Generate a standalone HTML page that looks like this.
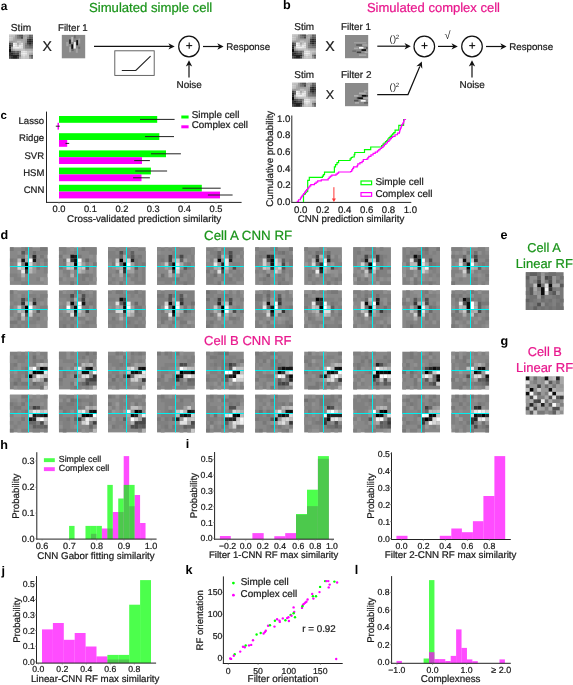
<!DOCTYPE html>
<html><head><meta charset="utf-8"><title>Figure</title>
<style>
html,body{margin:0;padding:0;background:#fff;}
svg{display:block;filter:blur(0.25px);}
text{font-family:"Liberation Sans", Arial, Helvetica, sans-serif;text-rendering:geometricPrecision;}
</style></head><body>
<svg width="573" height="685" viewBox="0 0 573 685">
<defs>
<filter id="bl45" x="-5%" y="-5%" width="110%" height="110%"><feGaussianBlur stdDeviation="0.45"/></filter>
</defs>
<rect x="0" y="0" width="573" height="685" fill="#fff"/>
<text x="0.64" y="9.80" font-size="12.00" fill="#000" font-weight="bold">a</text>
<text x="282.98" y="9.40" font-size="12.60" fill="#000" font-weight="bold">b</text>
<text x="0.54" y="118.60" font-size="11.50" fill="#000" font-weight="bold">c</text>
<text x="0.50" y="238.60" font-size="12.60" fill="#000" font-weight="bold">d</text>
<text x="500.60" y="238.60" font-size="12.60" fill="#000" font-weight="bold">e</text>
<text x="1.11" y="343.10" font-size="12.60" fill="#000" font-weight="bold">f</text>
<text x="500.40" y="344.60" font-size="12.60" fill="#000" font-weight="bold">g</text>
<text x="0.32" y="448.60" font-size="12.60" fill="#000" font-weight="bold">h</text>
<text x="185.82" y="447.90" font-size="12.60" fill="#000" font-weight="bold">i</text>
<text x="1.39" y="574.60" font-size="12.60" fill="#000" font-weight="bold">j</text>
<text x="185.52" y="573.70" font-size="12.60" fill="#000" font-weight="bold">k</text>
<text x="354.82" y="573.60" font-size="12.60" fill="#000" font-weight="bold">l</text>
<text x="89.01" y="11.80" font-size="13.14" fill="#1a941a" stroke="#1a941a" stroke-width="0.22">Simulated simple cell</text>
<text x="10.84" y="30.50" font-size="10.16" fill="#1a1a1a" stroke="#1a1a1a" stroke-width="0.22">Stim</text>
<text x="42.45" y="50.60" font-size="14.03" fill="#1a1a1a" stroke="#1a1a1a" stroke-width="0.22">X</text>
<text x="58.02" y="30.50" font-size="9.73" fill="#1a1a1a" stroke="#1a1a1a" stroke-width="0.22">Filter 1</text>
<g filter="url(#bl45)"><g transform="translate(9.00,34.70) scale(2.0000,2.0000)">
<rect x="0" y="0" width="12" height="12" fill="#a0a0a0"/>
<path fill="#101010" d="M0 7h1v1h-1zM0 8h1v1h-1z"/>
<path fill="#202020" d="M10 3h1v1h-1zM0 6h1v1h-1zM1 10h1v1h-1zM2 10h1v1h-1zM3 10h1v1h-1zM2 11h1v1h-1zM3 11h1v1h-1z"/>
<path fill="#282828" d="M10 2h1v1h-1zM10 4h1v1h-1zM0 5h1v1h-1zM1 9h1v1h-1zM4 10h1v1h-1z"/>
<path fill="#303030" d="M9 3h1v1h-1zM11 3h1v1h-1zM0 9h1v1h-1zM0 10h1v1h-1zM1 11h1v1h-1z"/>
<path fill="#404040" d="M9 2h1v1h-1zM11 2h1v1h-1zM9 4h1v1h-1zM2 9h1v1h-1zM4 11h1v1h-1z"/>
<path fill="#484848" d="M6 1h1v1h-1zM0 4h1v1h-1zM11 4h1v1h-1zM1 8h1v1h-1zM4 9h1v1h-1z"/>
<path fill="#505050" d="M6 0h1v1h-1zM3 9h1v1h-1zM0 11h1v1h-1z"/>
<path fill="#585858" d="M5 0h1v1h-1zM10 1h1v1h-1zM1 5h1v1h-1zM10 5h1v1h-1zM2 8h1v1h-1zM11 10h1v1h-1z"/>
<path fill="#606060" d="M10 0h1v1h-1zM11 1h1v1h-1zM1 4h1v1h-1zM11 5h1v1h-1zM4 8h1v1h-1z"/>
<path fill="#707070" d="M4 0h1v1h-1zM11 0h1v1h-1zM5 1h1v1h-1zM9 5h1v1h-1zM10 6h1v1h-1zM11 6h1v1h-1zM3 8h1v1h-1zM11 11h1v1h-1z"/>
<path fill="#787878" d="M4 1h1v1h-1zM8 5h1v1h-1zM9 6h1v1h-1zM10 10h1v1h-1z"/>
<path fill="#808080" d="M9 1h1v1h-1zM8 4h1v1h-1zM8 6h1v1h-1zM5 8h1v1h-1zM5 10h1v1h-1z"/>
<path fill="#909090" d="M1 7h1v1h-1z"/>
<path fill="#989898" d="M3 0h1v1h-1zM9 0h1v1h-1zM3 1h1v1h-1zM1 3h1v1h-1zM8 3h1v1h-1zM5 9h1v1h-1zM10 11h1v1h-1z"/>
<path fill="#a8a8a8" d="M8 0h1v1h-1zM7 1h1v1h-1zM2 2h1v1h-1zM7 2h1v1h-1zM3 3h1v1h-1zM7 3h1v1h-1zM4 4h1v1h-1zM7 4h1v1h-1zM7 5h1v1h-1zM1 6h1v1h-1zM7 6h1v1h-1zM11 7h1v1h-1zM11 9h1v1h-1zM5 11h1v1h-1z"/>
<path fill="#b0b0b0" d="M2 1h1v1h-1zM8 1h1v1h-1zM6 3h1v1h-1zM2 7h1v1h-1zM8 7h1v1h-1zM9 7h1v1h-1zM10 7h1v1h-1zM10 9h1v1h-1z"/>
<path fill="#c0c0c0" d="M1 0h1v1h-1zM2 0h1v1h-1zM1 2h1v1h-1zM4 3h1v1h-1zM5 3h1v1h-1zM3 7h1v1h-1zM4 7h1v1h-1zM5 7h1v1h-1zM7 7h1v1h-1zM11 8h1v1h-1z"/>
<path fill="#c8c8c8" d="M0 0h1v1h-1zM1 1h1v1h-1zM0 2h1v1h-1zM5 4h1v1h-1zM4 5h1v1h-1zM6 7h1v1h-1zM9 8h1v1h-1zM10 8h1v1h-1zM9 9h1v1h-1zM9 10h1v1h-1zM6 11h1v1h-1zM8 11h1v1h-1zM9 11h1v1h-1z"/>
<path fill="#d0d0d0" d="M0 1h1v1h-1zM6 10h1v1h-1zM8 10h1v1h-1zM7 11h1v1h-1z"/>
<path fill="#e0e0e0" d="M3 4h1v1h-1zM6 4h1v1h-1zM6 6h1v1h-1zM6 8h1v1h-1zM8 8h1v1h-1zM7 10h1v1h-1z"/>
<path fill="#e8e8e8" d="M3 5h1v1h-1zM5 5h1v1h-1zM6 5h1v1h-1zM2 6h1v1h-1zM5 6h1v1h-1zM7 8h1v1h-1zM6 9h1v1h-1zM8 9h1v1h-1z"/>
<path fill="#f0f0f0" d="M2 4h1v1h-1zM3 6h1v1h-1zM4 6h1v1h-1zM7 9h1v1h-1z"/>
<path fill="#f8f8f8" d="M2 5h1v1h-1z"/>
</g></g>
<g filter="url(#bl45)">
<rect x="61.80" y="34.90" width="23.40" height="23.40" fill="#8a8a8a"/>
<rect x="71.30" y="36.80" width="1.90" height="5.30" fill="#bebebe"/>
<rect x="66.20" y="41.90" width="2.20" height="4.30" fill="#a5a5a5"/>
<rect x="69.10" y="46.70" width="1.90" height="5.60" fill="#aaaaaa"/>
<rect x="78.50" y="38.40" width="1.70" height="5.20" fill="#aaaaaa"/>
<rect x="74.10" y="35.30" width="1.50" height="3.10" fill="#646464"/>
<rect x="75.80" y="48.40" width="2.00" height="4.40" fill="#a5a5a5"/>
<rect x="78.20" y="46.70" width="2.00" height="2.10" fill="#6e6e6e"/>
<rect x="71.50" y="48.80" width="2.20" height="2.20" fill="#646464"/>
<rect x="69.10" y="39.50" width="1.70" height="4.30" fill="#1e1e1e"/>
<rect x="71.30" y="44.30" width="1.70" height="4.50" fill="#0a0a0a"/>
<rect x="73.90" y="42.10" width="1.90" height="6.50" fill="#f5f5f5"/>
<rect x="76.30" y="40.10" width="1.70" height="5.20" fill="#0f0f0f"/>
</g>
<line x1="94.00" y1="46.40" x2="171.70" y2="46.40" stroke="#111" stroke-width="1.2"/>
<polygon points="174.70,46.40 168.40,49.60 170.20,46.40 168.40,43.20" fill="#111"/>
<rect x="114.8" y="50.8" width="39.4" height="24.6" fill="none" stroke="#555" stroke-width="0.9"/>
<polyline points="121.8,70.5 135.8,70.5 150.6,56.2" fill="none" stroke="#222" stroke-width="1.1"/>
<circle cx="189" cy="46.5" r="10.3" fill="none" stroke="#111" stroke-width="1.2"/>
<line x1="186.20" y1="45.60" x2="192.20" y2="45.60" stroke="#111" stroke-width="1.1"/>
<line x1="189.20" y1="42.40" x2="189.20" y2="48.80" stroke="#111" stroke-width="1.1"/>
<line x1="203.00" y1="46.50" x2="220.60" y2="46.50" stroke="#111" stroke-width="1.2"/>
<polygon points="223.60,46.50 217.30,49.70 219.10,46.50 217.30,43.30" fill="#111"/>
<text x="226.22" y="50.20" font-size="9.74" fill="#1a1a1a" stroke="#1a1a1a" stroke-width="0.22">Response</text>
<line x1="189.00" y1="77.60" x2="189.00" y2="63.20" stroke="#111" stroke-width="1.2"/>
<polygon points="189.00,60.20 192.20,66.50 189.00,64.70 185.80,66.50" fill="#111"/>
<text x="176.51" y="88.00" font-size="9.92" fill="#1a1a1a" stroke="#1a1a1a" stroke-width="0.22">Noise</text>
<text x="366.91" y="11.60" font-size="13.03" fill="#e8178d" stroke="#e8178d" stroke-width="0.22">Simulated complex cell</text>
<text x="294.25" y="30.00" font-size="9.95" fill="#1a1a1a" stroke="#1a1a1a" stroke-width="0.22">Stim</text>
<text x="325.35" y="51.30" font-size="14.19" fill="#1a1a1a" stroke="#1a1a1a" stroke-width="0.22">X</text>
<text x="341.02" y="30.00" font-size="9.80" fill="#1a1a1a" stroke="#1a1a1a" stroke-width="0.22">Filter 1</text>
<g filter="url(#bl45)"><g transform="translate(292.00,34.60) scale(2.0000,2.0000)">
<rect x="0" y="0" width="12" height="12" fill="#a0a0a0"/>
<path fill="#101010" d="M0 7h1v1h-1zM0 8h1v1h-1z"/>
<path fill="#202020" d="M10 3h1v1h-1zM0 6h1v1h-1zM1 10h1v1h-1zM2 10h1v1h-1zM3 10h1v1h-1zM2 11h1v1h-1zM3 11h1v1h-1z"/>
<path fill="#282828" d="M10 2h1v1h-1zM10 4h1v1h-1zM0 5h1v1h-1zM1 9h1v1h-1zM4 10h1v1h-1z"/>
<path fill="#303030" d="M9 3h1v1h-1zM11 3h1v1h-1zM0 9h1v1h-1zM0 10h1v1h-1zM1 11h1v1h-1z"/>
<path fill="#404040" d="M9 2h1v1h-1zM11 2h1v1h-1zM9 4h1v1h-1zM2 9h1v1h-1zM4 11h1v1h-1z"/>
<path fill="#484848" d="M6 1h1v1h-1zM0 4h1v1h-1zM11 4h1v1h-1zM1 8h1v1h-1zM4 9h1v1h-1z"/>
<path fill="#505050" d="M6 0h1v1h-1zM3 9h1v1h-1zM0 11h1v1h-1z"/>
<path fill="#585858" d="M5 0h1v1h-1zM10 1h1v1h-1zM1 5h1v1h-1zM10 5h1v1h-1zM2 8h1v1h-1zM11 10h1v1h-1z"/>
<path fill="#606060" d="M10 0h1v1h-1zM11 1h1v1h-1zM1 4h1v1h-1zM11 5h1v1h-1zM4 8h1v1h-1z"/>
<path fill="#707070" d="M4 0h1v1h-1zM11 0h1v1h-1zM5 1h1v1h-1zM9 5h1v1h-1zM10 6h1v1h-1zM11 6h1v1h-1zM3 8h1v1h-1zM11 11h1v1h-1z"/>
<path fill="#787878" d="M4 1h1v1h-1zM8 5h1v1h-1zM9 6h1v1h-1zM10 10h1v1h-1z"/>
<path fill="#808080" d="M9 1h1v1h-1zM8 4h1v1h-1zM8 6h1v1h-1zM5 8h1v1h-1zM5 10h1v1h-1z"/>
<path fill="#909090" d="M1 7h1v1h-1z"/>
<path fill="#989898" d="M3 0h1v1h-1zM9 0h1v1h-1zM3 1h1v1h-1zM1 3h1v1h-1zM8 3h1v1h-1zM5 9h1v1h-1zM10 11h1v1h-1z"/>
<path fill="#a8a8a8" d="M8 0h1v1h-1zM7 1h1v1h-1zM2 2h1v1h-1zM7 2h1v1h-1zM3 3h1v1h-1zM7 3h1v1h-1zM4 4h1v1h-1zM7 4h1v1h-1zM7 5h1v1h-1zM1 6h1v1h-1zM7 6h1v1h-1zM11 7h1v1h-1zM11 9h1v1h-1zM5 11h1v1h-1z"/>
<path fill="#b0b0b0" d="M2 1h1v1h-1zM8 1h1v1h-1zM6 3h1v1h-1zM2 7h1v1h-1zM8 7h1v1h-1zM9 7h1v1h-1zM10 7h1v1h-1zM10 9h1v1h-1z"/>
<path fill="#c0c0c0" d="M1 0h1v1h-1zM2 0h1v1h-1zM1 2h1v1h-1zM4 3h1v1h-1zM5 3h1v1h-1zM3 7h1v1h-1zM4 7h1v1h-1zM5 7h1v1h-1zM7 7h1v1h-1zM11 8h1v1h-1z"/>
<path fill="#c8c8c8" d="M0 0h1v1h-1zM1 1h1v1h-1zM0 2h1v1h-1zM5 4h1v1h-1zM4 5h1v1h-1zM6 7h1v1h-1zM9 8h1v1h-1zM10 8h1v1h-1zM9 9h1v1h-1zM9 10h1v1h-1zM6 11h1v1h-1zM8 11h1v1h-1zM9 11h1v1h-1z"/>
<path fill="#d0d0d0" d="M0 1h1v1h-1zM6 10h1v1h-1zM8 10h1v1h-1zM7 11h1v1h-1z"/>
<path fill="#e0e0e0" d="M3 4h1v1h-1zM6 4h1v1h-1zM6 6h1v1h-1zM6 8h1v1h-1zM8 8h1v1h-1zM7 10h1v1h-1z"/>
<path fill="#e8e8e8" d="M3 5h1v1h-1zM5 5h1v1h-1zM6 5h1v1h-1zM2 6h1v1h-1zM5 6h1v1h-1zM7 8h1v1h-1zM6 9h1v1h-1zM8 9h1v1h-1z"/>
<path fill="#f0f0f0" d="M2 4h1v1h-1zM3 6h1v1h-1zM4 6h1v1h-1zM7 9h1v1h-1z"/>
<path fill="#f8f8f8" d="M2 5h1v1h-1z"/>
</g></g>
<g filter="url(#bl45)">
<rect x="345.00" y="35.00" width="23.20" height="23.20" fill="#8a8a8a"/>
<rect x="354.00" y="42.00" width="12.30" height="1.40" fill="#a0a0a0"/>
<rect x="356.20" y="44.20" width="6.10" height="1.70" fill="#5a5a5a"/>
<rect x="362.30" y="44.20" width="5.10" height="1.70" fill="#a5a5a5"/>
<rect x="354.00" y="47.60" width="4.40" height="1.60" fill="#aaaaaa"/>
<rect x="366.00" y="47.00" width="1.70" height="2.20" fill="#5a5a5a"/>
<rect x="356.80" y="51.50" width="4.40" height="1.60" fill="#3c3c3c"/>
<rect x="364.60" y="51.50" width="3.10" height="1.60" fill="#afafaf"/>
<rect x="359.00" y="54.30" width="7.30" height="1.60" fill="#aaaaaa"/>
<rect x="352.30" y="50.30" width="3.90" height="1.70" fill="#6e6e6e"/>
<rect x="359.00" y="47.00" width="4.50" height="1.70" fill="#fafafa"/>
<rect x="361.50" y="49.20" width="4.50" height="1.70" fill="#0a0a0a"/>
</g>
<text x="294.25" y="77.90" font-size="9.95" fill="#1a1a1a" stroke="#1a1a1a" stroke-width="0.22">Stim</text>
<text x="325.69" y="98.80" font-size="12.58" fill="#1a1a1a" stroke="#1a1a1a" stroke-width="0.22">X</text>
<text x="341.00" y="77.90" font-size="9.98" fill="#1a1a1a" stroke="#1a1a1a" stroke-width="0.22">Filter 2</text>
<g filter="url(#bl45)"><g transform="translate(292.00,82.80) scale(2.0000,2.0000)">
<rect x="0" y="0" width="12" height="12" fill="#a0a0a0"/>
<path fill="#101010" d="M0 7h1v1h-1zM0 8h1v1h-1z"/>
<path fill="#202020" d="M10 3h1v1h-1zM0 6h1v1h-1zM1 10h1v1h-1zM2 10h1v1h-1zM3 10h1v1h-1zM2 11h1v1h-1zM3 11h1v1h-1z"/>
<path fill="#282828" d="M10 2h1v1h-1zM10 4h1v1h-1zM0 5h1v1h-1zM1 9h1v1h-1zM4 10h1v1h-1z"/>
<path fill="#303030" d="M9 3h1v1h-1zM11 3h1v1h-1zM0 9h1v1h-1zM0 10h1v1h-1zM1 11h1v1h-1z"/>
<path fill="#404040" d="M9 2h1v1h-1zM11 2h1v1h-1zM9 4h1v1h-1zM2 9h1v1h-1zM4 11h1v1h-1z"/>
<path fill="#484848" d="M6 1h1v1h-1zM0 4h1v1h-1zM11 4h1v1h-1zM1 8h1v1h-1zM4 9h1v1h-1z"/>
<path fill="#505050" d="M6 0h1v1h-1zM3 9h1v1h-1zM0 11h1v1h-1z"/>
<path fill="#585858" d="M5 0h1v1h-1zM10 1h1v1h-1zM1 5h1v1h-1zM10 5h1v1h-1zM2 8h1v1h-1zM11 10h1v1h-1z"/>
<path fill="#606060" d="M10 0h1v1h-1zM11 1h1v1h-1zM1 4h1v1h-1zM11 5h1v1h-1zM4 8h1v1h-1z"/>
<path fill="#707070" d="M4 0h1v1h-1zM11 0h1v1h-1zM5 1h1v1h-1zM9 5h1v1h-1zM10 6h1v1h-1zM11 6h1v1h-1zM3 8h1v1h-1zM11 11h1v1h-1z"/>
<path fill="#787878" d="M4 1h1v1h-1zM8 5h1v1h-1zM9 6h1v1h-1zM10 10h1v1h-1z"/>
<path fill="#808080" d="M9 1h1v1h-1zM8 4h1v1h-1zM8 6h1v1h-1zM5 8h1v1h-1zM5 10h1v1h-1z"/>
<path fill="#909090" d="M1 7h1v1h-1z"/>
<path fill="#989898" d="M3 0h1v1h-1zM9 0h1v1h-1zM3 1h1v1h-1zM1 3h1v1h-1zM8 3h1v1h-1zM5 9h1v1h-1zM10 11h1v1h-1z"/>
<path fill="#a8a8a8" d="M8 0h1v1h-1zM7 1h1v1h-1zM2 2h1v1h-1zM7 2h1v1h-1zM3 3h1v1h-1zM7 3h1v1h-1zM4 4h1v1h-1zM7 4h1v1h-1zM7 5h1v1h-1zM1 6h1v1h-1zM7 6h1v1h-1zM11 7h1v1h-1zM11 9h1v1h-1zM5 11h1v1h-1z"/>
<path fill="#b0b0b0" d="M2 1h1v1h-1zM8 1h1v1h-1zM6 3h1v1h-1zM2 7h1v1h-1zM8 7h1v1h-1zM9 7h1v1h-1zM10 7h1v1h-1zM10 9h1v1h-1z"/>
<path fill="#c0c0c0" d="M1 0h1v1h-1zM2 0h1v1h-1zM1 2h1v1h-1zM4 3h1v1h-1zM5 3h1v1h-1zM3 7h1v1h-1zM4 7h1v1h-1zM5 7h1v1h-1zM7 7h1v1h-1zM11 8h1v1h-1z"/>
<path fill="#c8c8c8" d="M0 0h1v1h-1zM1 1h1v1h-1zM0 2h1v1h-1zM5 4h1v1h-1zM4 5h1v1h-1zM6 7h1v1h-1zM9 8h1v1h-1zM10 8h1v1h-1zM9 9h1v1h-1zM9 10h1v1h-1zM6 11h1v1h-1zM8 11h1v1h-1zM9 11h1v1h-1z"/>
<path fill="#d0d0d0" d="M0 1h1v1h-1zM6 10h1v1h-1zM8 10h1v1h-1zM7 11h1v1h-1z"/>
<path fill="#e0e0e0" d="M3 4h1v1h-1zM6 4h1v1h-1zM6 6h1v1h-1zM6 8h1v1h-1zM8 8h1v1h-1zM7 10h1v1h-1z"/>
<path fill="#e8e8e8" d="M3 5h1v1h-1zM5 5h1v1h-1zM6 5h1v1h-1zM2 6h1v1h-1zM5 6h1v1h-1zM7 8h1v1h-1zM6 9h1v1h-1zM8 9h1v1h-1z"/>
<path fill="#f0f0f0" d="M2 4h1v1h-1zM3 6h1v1h-1zM4 6h1v1h-1zM7 9h1v1h-1z"/>
<path fill="#f8f8f8" d="M2 5h1v1h-1z"/>
</g></g>
<g filter="url(#bl45)">
<rect x="345.00" y="83.00" width="23.20" height="23.20" fill="#8a8a8a"/>
<rect x="359.00" y="92.50" width="6.70" height="1.70" fill="#b4b4b4"/>
<rect x="364.00" y="90.30" width="3.40" height="1.70" fill="#a5a5a5"/>
<rect x="354.00" y="95.00" width="4.40" height="1.70" fill="#afafaf"/>
<rect x="366.30" y="95.00" width="1.70" height="1.70" fill="#464646"/>
<rect x="356.80" y="97.00" width="2.20" height="2.20" fill="#505050"/>
<rect x="363.50" y="97.30" width="4.50" height="1.90" fill="#aaaaaa"/>
<rect x="354.00" y="99.80" width="4.40" height="1.70" fill="#555555"/>
<rect x="355.00" y="102.00" width="4.00" height="1.70" fill="#aaaaaa"/>
<rect x="364.00" y="102.00" width="4.00" height="1.70" fill="#646464"/>
<rect x="361.80" y="95.00" width="4.50" height="1.70" fill="#0a0a0a"/>
<rect x="358.40" y="97.30" width="4.50" height="1.70" fill="#0a0a0a"/>
<rect x="360.70" y="100.00" width="5.00" height="1.70" fill="#f5f5f5"/>
</g>
<line x1="377.30" y1="46.20" x2="407.80" y2="46.20" stroke="#111" stroke-width="1.2"/>
<polygon points="410.80,46.20 404.50,49.40 406.30,46.20 404.50,43.00" fill="#111"/>
<circle cx="424.3" cy="46.5" r="10.3" fill="none" stroke="#111" stroke-width="1.2"/>
<line x1="421.50" y1="45.60" x2="427.50" y2="45.60" stroke="#111" stroke-width="1.1"/>
<line x1="424.50" y1="42.40" x2="424.50" y2="48.80" stroke="#111" stroke-width="1.1"/>
<line x1="438.00" y1="46.40" x2="454.80" y2="46.40" stroke="#111" stroke-width="1.2"/>
<polygon points="457.80,46.40 451.50,49.60 453.30,46.40 451.50,43.20" fill="#111"/>
<circle cx="472" cy="46.5" r="10.3" fill="none" stroke="#111" stroke-width="1.2"/>
<line x1="469.20" y1="45.60" x2="475.20" y2="45.60" stroke="#111" stroke-width="1.1"/>
<line x1="472.20" y1="42.40" x2="472.20" y2="48.80" stroke="#111" stroke-width="1.1"/>
<line x1="486.00" y1="46.50" x2="503.60" y2="46.50" stroke="#111" stroke-width="1.2"/>
<polygon points="506.60,46.50 500.30,49.70 502.10,46.50 500.30,43.30" fill="#111"/>
<text x="509.22" y="50.20" font-size="9.74" fill="#1a1a1a" stroke="#1a1a1a" stroke-width="0.22">Response</text>
<line x1="472.00" y1="77.60" x2="472.00" y2="63.20" stroke="#111" stroke-width="1.2"/>
<polygon points="472.00,60.20 475.20,66.50 472.00,64.70 468.80,66.50" fill="#111"/>
<text x="459.51" y="88.00" font-size="9.92" fill="#1a1a1a" stroke="#1a1a1a" stroke-width="0.22">Noise</text>
<polyline points="377.2,94.6 408,94.6 419.8,66.5" fill="none" stroke="#111" stroke-width="1.2"/>
<polygon points="421.80,61.60 422.32,68.65 420.06,65.75 416.42,66.18" fill="#111"/>
<text y="41.70" font-size="9.4" fill="#222"><tspan x="389.40">(</tspan><tspan x="393.10">)</tspan><tspan x="395.70" font-size="6.2" dy="-3.0">2</tspan></text>
<text y="90.30" font-size="9.4" fill="#222"><tspan x="389.40">(</tspan><tspan x="393.10">)</tspan><tspan x="395.70" font-size="6.2" dy="-3.0">2</tspan></text>
<text x="444.6" y="39.4" font-family="Liberation Serif, serif" font-size="11" fill="#222">√</text>
<line x1="46.50" y1="111.60" x2="46.50" y2="202.40" stroke="#222" stroke-width="1.0"/>
<line x1="46.00" y1="202.40" x2="241.60" y2="202.40" stroke="#222" stroke-width="1.0"/>
<rect x="59.00" y="116.00" width="98.20" height="6.80" fill="#00ff00"/>
<rect x="57.50" y="122.80" width="1.50" height="6.80" fill="#ff00ff"/>
<line x1="140.00" y1="119.40" x2="174.60" y2="119.40" stroke="#222" stroke-width="1.0"/>
<line x1="55.80" y1="126.20" x2="59.80" y2="126.20" stroke="#222" stroke-width="1.0"/>
<text x="18.53" y="124.20" font-size="9.55" fill="#1a1a1a" stroke="#1a1a1a" stroke-width="0.22">Lasso</text>
<rect x="59.00" y="133.20" width="100.30" height="6.80" fill="#00ff00"/>
<rect x="59.00" y="140.00" width="8.20" height="6.80" fill="#ff00ff"/>
<line x1="145.00" y1="136.60" x2="174.00" y2="136.60" stroke="#222" stroke-width="1.0"/>
<line x1="65.50" y1="143.40" x2="69.20" y2="143.40" stroke="#222" stroke-width="1.0"/>
<text x="19.10" y="141.40" font-size="9.55" fill="#1a1a1a" stroke="#1a1a1a" stroke-width="0.22">Ridge</text>
<rect x="59.00" y="150.40" width="107.00" height="6.80" fill="#00ff00"/>
<rect x="59.00" y="157.20" width="83.00" height="6.80" fill="#ff00ff"/>
<line x1="151.00" y1="153.80" x2="180.90" y2="153.80" stroke="#222" stroke-width="1.0"/>
<line x1="134.20" y1="160.60" x2="149.90" y2="160.60" stroke="#222" stroke-width="1.0"/>
<text x="24.40" y="158.60" font-size="9.55" fill="#1a1a1a" stroke="#1a1a1a" stroke-width="0.22">SVR</text>
<rect x="59.00" y="167.60" width="91.90" height="6.80" fill="#00ff00"/>
<rect x="59.00" y="174.40" width="82.50" height="6.80" fill="#ff00ff"/>
<line x1="135.20" y1="171.00" x2="167.10" y2="171.00" stroke="#222" stroke-width="1.0"/>
<line x1="133.10" y1="177.80" x2="149.90" y2="177.80" stroke="#222" stroke-width="1.0"/>
<text x="23.16" y="175.80" font-size="9.55" fill="#1a1a1a" stroke="#1a1a1a" stroke-width="0.22">HSM</text>
<rect x="59.00" y="184.80" width="142.80" height="6.80" fill="#00ff00"/>
<rect x="59.00" y="191.60" width="161.00" height="6.80" fill="#ff00ff"/>
<line x1="182.40" y1="188.20" x2="220.70" y2="188.20" stroke="#222" stroke-width="1.0"/>
<line x1="207.90" y1="195.00" x2="232.60" y2="195.00" stroke="#222" stroke-width="1.0"/>
<text x="23.69" y="193.00" font-size="9.55" fill="#1a1a1a" stroke="#1a1a1a" stroke-width="0.22">CNN</text>
<text x="52.51" y="212.40" font-size="9.30" fill="#1a1a1a" stroke="#1a1a1a" stroke-width="0.22">0.0</text>
<line x1="59.00" y1="202.40" x2="59.00" y2="204.00" stroke="#999" stroke-width="0.8"/>
<text x="83.96" y="212.40" font-size="9.30" fill="#1a1a1a" stroke="#1a1a1a" stroke-width="0.22">0.1</text>
<line x1="90.40" y1="202.40" x2="90.40" y2="204.00" stroke="#999" stroke-width="0.8"/>
<text x="115.38" y="212.40" font-size="9.30" fill="#1a1a1a" stroke="#1a1a1a" stroke-width="0.22">0.2</text>
<line x1="121.80" y1="202.40" x2="121.80" y2="204.00" stroke="#999" stroke-width="0.8"/>
<text x="146.74" y="212.40" font-size="9.30" fill="#1a1a1a" stroke="#1a1a1a" stroke-width="0.22">0.3</text>
<line x1="153.20" y1="202.40" x2="153.20" y2="204.00" stroke="#999" stroke-width="0.8"/>
<text x="178.09" y="212.40" font-size="9.30" fill="#1a1a1a" stroke="#1a1a1a" stroke-width="0.22">0.4</text>
<line x1="184.60" y1="202.40" x2="184.60" y2="204.00" stroke="#999" stroke-width="0.8"/>
<text x="209.54" y="212.40" font-size="9.30" fill="#1a1a1a" stroke="#1a1a1a" stroke-width="0.22">0.5</text>
<line x1="216.00" y1="202.40" x2="216.00" y2="204.00" stroke="#999" stroke-width="0.8"/>
<text x="67.11" y="221.60" font-size="9.81" fill="#1a1a1a" stroke="#1a1a1a" stroke-width="0.22">Cross-validated prediction similarity</text>
<rect x="181.30" y="115.50" width="7.30" height="3.00" fill="#00ff00"/>
<text x="191.76" y="118.00" font-size="9.88" fill="#1a1a1a" stroke="#1a1a1a" stroke-width="0.22">Simple cell</text>
<rect x="181.30" y="125.30" width="7.30" height="3.00" fill="#ff00ff"/>
<text x="191.71" y="128.30" font-size="9.83" fill="#1a1a1a" stroke="#1a1a1a" stroke-width="0.22">Complex cell</text>
<line x1="291.80" y1="115.50" x2="291.80" y2="202.40" stroke="#222" stroke-width="1.0"/>
<line x1="291.30" y1="202.40" x2="411.30" y2="202.40" stroke="#222" stroke-width="1.0"/>
<text x="276.99" y="204.70" font-size="9.60" fill="#1a1a1a" stroke="#1a1a1a" stroke-width="0.22">0.0</text>
<line x1="290.60" y1="201.30" x2="291.80" y2="201.30" stroke="#888" stroke-width="0.8"/>
<text x="294.00" y="212.70" font-size="9.60" fill="#1a1a1a" stroke="#1a1a1a" stroke-width="0.22">0.0</text>
<text x="277.14" y="188.14" font-size="9.60" fill="#1a1a1a" stroke="#1a1a1a" stroke-width="0.22">0.2</text>
<line x1="290.60" y1="184.74" x2="291.80" y2="184.74" stroke="#888" stroke-width="0.8"/>
<text x="316.04" y="212.70" font-size="9.60" fill="#1a1a1a" stroke="#1a1a1a" stroke-width="0.22">0.2</text>
<text x="276.94" y="171.58" font-size="9.60" fill="#1a1a1a" stroke="#1a1a1a" stroke-width="0.22">0.4</text>
<line x1="290.60" y1="168.18" x2="291.80" y2="168.18" stroke="#888" stroke-width="0.8"/>
<text x="337.90" y="212.70" font-size="9.60" fill="#1a1a1a" stroke="#1a1a1a" stroke-width="0.22">0.4</text>
<text x="277.04" y="155.02" font-size="9.60" fill="#1a1a1a" stroke="#1a1a1a" stroke-width="0.22">0.6</text>
<line x1="290.60" y1="151.62" x2="291.80" y2="151.62" stroke="#888" stroke-width="0.8"/>
<text x="359.91" y="212.70" font-size="9.60" fill="#1a1a1a" stroke="#1a1a1a" stroke-width="0.22">0.6</text>
<text x="277.04" y="138.46" font-size="9.60" fill="#1a1a1a" stroke="#1a1a1a" stroke-width="0.22">0.8</text>
<line x1="290.60" y1="135.06" x2="291.80" y2="135.06" stroke="#888" stroke-width="0.8"/>
<text x="381.87" y="212.70" font-size="9.60" fill="#1a1a1a" stroke="#1a1a1a" stroke-width="0.22">0.8</text>
<text x="276.99" y="121.90" font-size="9.60" fill="#1a1a1a" stroke="#1a1a1a" stroke-width="0.22">1.0</text>
<line x1="290.60" y1="118.50" x2="291.80" y2="118.50" stroke="#888" stroke-width="0.8"/>
<text x="403.64" y="212.70" font-size="9.60" fill="#1a1a1a" stroke="#1a1a1a" stroke-width="0.22">1.0</text>
<text transform="translate(272.80,206.71) rotate(-90)" x="0" y="0" font-size="9.75" fill="#1a1a1a" stroke="#1a1a1a" stroke-width="0.22">Cumulative probability</text>
<text x="297.71" y="221.50" font-size="9.74" fill="#1a1a1a" stroke="#1a1a1a" stroke-width="0.22">CNN prediction similarity</text>
<polyline points="303.50,202.00 303.50,194.50 305.00,194.50 305.60,193.20 306.60,192.10 307.70,191.40 307.70,180.40 309.30,180.40 309.30,177.40 322.40,177.40 322.40,176.20 323.40,176.20 323.40,174.60 324.50,174.60 324.50,172.20 334.40,172.20 334.40,166.80 335.50,166.80 335.50,164.70 337.00,164.70 337.00,162.60 338.60,162.60 338.60,160.50 350.10,160.50 350.10,158.90 351.20,158.90 351.20,157.50 352.30,157.50 352.30,157.00 354.20,157.00 354.20,154.60 354.80,154.60 354.80,152.50 364.50,152.50 364.50,149.70 370.70,149.70 370.70,147.00 381.60,147.00 381.60,145.60 383.00,145.60 383.00,144.20 384.10,144.20 384.10,143.00 385.50,143.00 385.50,141.70 386.70,141.70 386.70,140.50 387.80,140.50 387.80,139.00 389.00,139.00 389.00,137.70 390.20,137.70 390.20,136.30 391.40,136.30 391.40,135.00 392.60,135.00 392.60,133.80 393.80,133.80 393.80,132.60 395.10,132.60 395.10,130.20 398.80,130.20 398.80,125.30 403.60,125.30 403.60,119.50 405.50,119.50" fill="none" stroke="#00ff00" stroke-width="1.2"/>
<polyline points="296.70,201.30 298.55,201.30 298.55,199.75 300.40,199.75 300.40,198.20 301.10,198.20 301.10,197.13 301.80,197.13 301.80,196.07 302.50,196.07 302.50,195.00 303.53,195.00 303.53,193.60 304.57,193.60 304.57,192.20 305.60,192.20 305.60,190.80 306.65,190.80 306.65,189.50 307.70,189.50 307.70,188.20 308.73,188.20 308.73,187.00 309.77,187.00 309.77,185.80 310.80,185.80 310.80,184.60 314.50,184.60 314.50,183.30 316.10,183.30 316.10,182.10 317.70,182.10 317.70,180.90 321.30,180.90 321.30,179.80 327.10,179.80 327.10,179.80 328.15,179.80 328.15,178.50 329.20,178.50 329.20,177.20 330.50,177.20 330.50,176.15 331.80,176.15 331.80,175.10 336.00,175.10 336.00,174.10 337.30,174.10 337.30,173.05 338.60,173.05 338.60,172.00 350.60,172.00 350.60,171.50 351.70,171.50 351.70,169.90 352.65,169.90 352.65,168.35 353.60,168.35 353.60,166.80 357.20,166.80 357.20,165.60 357.80,165.60 357.80,163.80 359.95,163.80 359.95,162.55 362.10,162.55 362.10,161.30 363.30,161.30 363.30,159.50 367.00,159.50 367.00,158.90 367.90,158.90 367.90,157.65 368.80,157.65 368.80,156.40 370.95,156.40 370.95,154.90 373.10,154.90 373.10,153.40 375.25,153.40 375.25,152.15 377.40,152.15 377.40,150.90 378.80,150.90 378.80,149.70 380.20,149.70 380.20,148.50 381.60,148.50 381.60,147.30 383.03,147.30 383.03,145.87 384.47,145.87 384.47,144.43 385.90,144.43 385.90,143.00 387.45,143.00 387.45,141.45 389.00,141.45 389.00,139.90 390.20,139.90 390.20,138.70 391.40,138.70 391.40,137.50 392.60,137.50 392.60,136.30 395.05,136.30 395.05,134.75 397.50,134.75 397.50,133.20 399.40,133.20 399.40,132.00 399.70,132.00 399.70,130.75 400.00,130.75 400.00,129.50 400.45,129.50 400.45,128.30 400.90,128.30 400.90,127.10 401.35,127.10 401.35,125.90 401.80,125.90 401.80,124.70 402.70,124.70 402.70,123.15 403.60,123.15 403.60,121.60 403.90,121.60 403.90,120.55 404.20,120.55 404.20,119.50 405.50,119.50 405.50,119.20" fill="none" stroke="#ff00ff" stroke-width="1.2"/>
<line x1="333.9" y1="187.2" x2="333.9" y2="199.5" stroke="#f33" stroke-width="1"/>
<polygon points="333.9,202 331.9,198.4 335.9,198.4" fill="#f33"/>
<rect x="361.0" y="181.0" width="10.6" height="3.7" fill="none" stroke="#00ff00" stroke-width="1.2"/>
<rect x="361.0" y="192.6" width="10.6" height="3.7" fill="none" stroke="#ff00ff" stroke-width="1.2"/>
<text x="375.45" y="184.60" font-size="9.97" fill="#1a1a1a" stroke="#1a1a1a" stroke-width="0.22">Simple cell</text>
<text x="375.40" y="196.70" font-size="9.96" fill="#1a1a1a" stroke="#1a1a1a" stroke-width="0.22">Complex cell</text>
<g filter="url(#bl45)"><g transform="translate(9.90,247.20) scale(3.7700,3.7700)">
<rect x="0" y="0" width="10" height="10" fill="#888888"/>
<path fill="#000000" d="M4 4h1v1h-1zM4 5h1v1h-1z"/>
<path fill="#181818" d="M3 3h1v1h-1zM6 3h1v1h-1z"/>
<path fill="#282828" d="M6 2h1v1h-1z"/>
<path fill="#404040" d="M4 6h1v1h-1z"/>
<path fill="#585858" d="M3 1h1v1h-1z"/>
<path fill="#707070" d="M6 1h1v1h-1z"/>
<path fill="#787878" d="M0 0h1v1h-1zM4 0h1v1h-1zM8 0h1v1h-1zM9 0h1v1h-1zM3 2h1v1h-1zM8 2h1v1h-1zM0 3h1v1h-1zM9 3h1v1h-1zM3 4h1v1h-1zM7 5h1v1h-1z"/>
<path fill="#808080" d="M3 0h1v1h-1zM5 0h1v1h-1zM4 1h1v1h-1zM5 1h1v1h-1zM7 1h1v1h-1zM8 1h1v1h-1zM9 1h1v1h-1zM2 2h1v1h-1zM1 3h1v1h-1zM7 3h1v1h-1zM0 4h1v1h-1zM7 4h1v1h-1zM9 4h1v1h-1zM9 5h1v1h-1zM9 6h1v1h-1zM0 7h1v1h-1zM1 7h1v1h-1zM1 8h1v1h-1zM2 8h1v1h-1zM7 8h1v1h-1zM3 9h1v1h-1zM4 9h1v1h-1z"/>
<path fill="#909090" d="M2 1h1v1h-1zM6 4h1v1h-1zM8 4h1v1h-1zM2 6h1v1h-1zM0 8h1v1h-1zM3 8h1v1h-1zM9 8h1v1h-1zM9 9h1v1h-1z"/>
<path fill="#989898" d="M6 5h1v1h-1zM6 6h1v1h-1zM8 8h1v1h-1z"/>
<path fill="#a0a0a0" d="M4 3h1v1h-1z"/>
<path fill="#a8a8a8" d="M4 2h1v1h-1z"/>
<path fill="#b0b0b0" d="M3 7h1v1h-1z"/>
<path fill="#b8b8b8" d="M2 3h1v1h-1zM5 6h1v1h-1z"/>
<path fill="#c0c0c0" d="M3 5h1v1h-1zM5 5h1v1h-1z"/>
<path fill="#d0d0d0" d="M2 5h1v1h-1z"/>
<path fill="#d8d8d8" d="M5 4h1v1h-1z"/>
<path fill="#e8e8e8" d="M2 4h1v1h-1zM3 6h1v1h-1z"/>
<path fill="#ffffff" d="M5 3h1v1h-1z"/>
</g></g>
<line x1="28.50" y1="247.20" x2="28.50" y2="284.90" stroke="#00f0f0" stroke-width="1"/>
<line x1="9.90" y1="266.50" x2="47.60" y2="266.50" stroke="#00f0f0" stroke-width="1"/>
<g filter="url(#bl45)"><g transform="translate(58.95,247.20) scale(3.7700,3.7700)">
<rect x="0" y="0" width="10" height="10" fill="#888888"/>
<path fill="#000000" d="M4 4h1v1h-1z"/>
<path fill="#101010" d="M4 3h1v1h-1z"/>
<path fill="#181818" d="M3 2h1v1h-1z"/>
<path fill="#202020" d="M4 2h1v1h-1z"/>
<path fill="#303030" d="M3 3h1v1h-1z"/>
<path fill="#484848" d="M4 5h1v1h-1z"/>
<path fill="#606060" d="M7 5h1v1h-1z"/>
<path fill="#686868" d="M7 3h1v1h-1z"/>
<path fill="#707070" d="M1 3h1v1h-1z"/>
<path fill="#787878" d="M6 0h1v1h-1zM0 2h1v1h-1zM5 2h1v1h-1zM1 4h1v1h-1zM9 4h1v1h-1zM0 5h1v1h-1zM6 7h1v1h-1zM7 7h1v1h-1zM6 8h1v1h-1zM3 9h1v1h-1z"/>
<path fill="#808080" d="M0 0h1v1h-1zM1 0h1v1h-1zM7 0h1v1h-1zM8 0h1v1h-1zM9 0h1v1h-1zM1 1h1v1h-1zM4 1h1v1h-1zM8 1h1v1h-1zM9 1h1v1h-1zM0 3h1v1h-1zM0 4h1v1h-1zM7 4h1v1h-1zM1 6h1v1h-1zM2 6h1v1h-1zM4 6h1v1h-1zM2 7h1v1h-1zM4 7h1v1h-1zM5 7h1v1h-1zM8 7h1v1h-1zM0 8h1v1h-1zM5 8h1v1h-1zM8 8h1v1h-1zM5 9h1v1h-1zM6 9h1v1h-1zM7 9h1v1h-1z"/>
<path fill="#909090" d="M3 0h1v1h-1zM1 2h1v1h-1zM2 2h1v1h-1zM8 2h1v1h-1zM8 4h1v1h-1zM8 5h1v1h-1zM0 6h1v1h-1zM8 6h1v1h-1zM0 7h1v1h-1zM1 8h1v1h-1zM4 8h1v1h-1zM9 8h1v1h-1z"/>
<path fill="#989898" d="M3 6h1v1h-1z"/>
<path fill="#a0a0a0" d="M6 4h1v1h-1zM6 6h1v1h-1z"/>
<path fill="#b0b0b0" d="M3 7h1v1h-1z"/>
<path fill="#b8b8b8" d="M3 4h1v1h-1zM5 6h1v1h-1z"/>
<path fill="#c0c0c0" d="M3 5h1v1h-1zM5 5h1v1h-1z"/>
<path fill="#c8c8c8" d="M2 4h1v1h-1zM2 5h1v1h-1zM6 5h1v1h-1z"/>
<path fill="#e0e0e0" d="M2 3h1v1h-1zM5 4h1v1h-1z"/>
<path fill="#f8f8f8" d="M5 3h1v1h-1z"/>
</g></g>
<line x1="77.50" y1="247.20" x2="77.50" y2="284.90" stroke="#00f0f0" stroke-width="1"/>
<line x1="58.95" y1="266.50" x2="96.65" y2="266.50" stroke="#00f0f0" stroke-width="1"/>
<g filter="url(#bl45)"><g transform="translate(108.00,247.20) scale(3.7700,3.7700)">
<rect x="0" y="0" width="10" height="10" fill="#808080"/>
<path fill="#000000" d="M4 4h1v1h-1z"/>
<path fill="#000000" d="M3 3h1v1h-1z"/>
<path fill="#202020" d="M6 3h1v1h-1zM4 5h1v1h-1z"/>
<path fill="#303030" d="M4 6h1v1h-1z"/>
<path fill="#505050" d="M3 1h1v1h-1z"/>
<path fill="#585858" d="M6 2h1v1h-1z"/>
<path fill="#606060" d="M6 1h1v1h-1zM7 5h1v1h-1z"/>
<path fill="#686868" d="M3 2h1v1h-1zM3 4h1v1h-1z"/>
<path fill="#787878" d="M5 2h1v1h-1zM8 2h1v1h-1zM7 3h1v1h-1zM1 4h1v1h-1zM7 4h1v1h-1zM9 4h1v1h-1zM2 6h1v1h-1zM4 7h1v1h-1zM7 7h1v1h-1zM3 9h1v1h-1z"/>
<path fill="#888888" d="M0 0h1v1h-1zM1 0h1v1h-1zM3 0h1v1h-1zM4 0h1v1h-1zM6 0h1v1h-1zM7 0h1v1h-1zM2 1h1v1h-1zM7 1h1v1h-1zM8 1h1v1h-1zM9 1h1v1h-1zM9 2h1v1h-1zM0 3h1v1h-1zM9 3h1v1h-1zM0 5h1v1h-1zM8 5h1v1h-1zM0 6h1v1h-1zM1 6h1v1h-1zM8 6h1v1h-1zM2 7h1v1h-1zM6 7h1v1h-1zM8 7h1v1h-1zM0 8h1v1h-1zM2 8h1v1h-1zM8 8h1v1h-1zM1 9h1v1h-1zM4 9h1v1h-1z"/>
<path fill="#909090" d="M0 4h1v1h-1zM1 5h1v1h-1zM1 7h1v1h-1zM3 8h1v1h-1zM5 8h1v1h-1zM2 9h1v1h-1zM5 9h1v1h-1zM6 9h1v1h-1z"/>
<path fill="#a0a0a0" d="M6 4h1v1h-1zM2 5h1v1h-1zM6 5h1v1h-1zM5 6h1v1h-1zM6 6h1v1h-1z"/>
<path fill="#a8a8a8" d="M4 2h1v1h-1zM4 3h1v1h-1zM3 7h1v1h-1z"/>
<path fill="#b0b0b0" d="M3 5h1v1h-1z"/>
<path fill="#c0c0c0" d="M3 6h1v1h-1z"/>
<path fill="#c8c8c8" d="M2 3h1v1h-1z"/>
<path fill="#d0d0d0" d="M5 5h1v1h-1z"/>
<path fill="#d8d8d8" d="M5 3h1v1h-1z"/>
<path fill="#e0e0e0" d="M2 4h1v1h-1z"/>
<path fill="#f8f8f8" d="M5 4h1v1h-1z"/>
</g></g>
<line x1="126.50" y1="247.20" x2="126.50" y2="284.90" stroke="#00f0f0" stroke-width="1"/>
<line x1="108.00" y1="266.50" x2="145.70" y2="266.50" stroke="#00f0f0" stroke-width="1"/>
<g filter="url(#bl45)"><g transform="translate(157.05,247.20) scale(3.7700,3.7700)">
<rect x="0" y="0" width="10" height="10" fill="#808080"/>
<path fill="#000000" d="M4 5h1v1h-1z"/>
<path fill="#101010" d="M4 4h1v1h-1z"/>
<path fill="#404040" d="M3 2h1v1h-1zM3 3h1v1h-1z"/>
<path fill="#484848" d="M6 2h1v1h-1zM4 6h1v1h-1z"/>
<path fill="#585858" d="M7 5h1v1h-1z"/>
<path fill="#606060" d="M6 3h1v1h-1zM3 4h1v1h-1z"/>
<path fill="#707070" d="M1 7h1v1h-1z"/>
<path fill="#787878" d="M1 3h1v1h-1zM8 4h1v1h-1zM8 5h1v1h-1zM6 7h1v1h-1zM5 8h1v1h-1zM7 9h1v1h-1z"/>
<path fill="#888888" d="M0 0h1v1h-1zM2 0h1v1h-1zM4 0h1v1h-1zM5 0h1v1h-1zM9 0h1v1h-1zM1 1h1v1h-1zM2 1h1v1h-1zM3 1h1v1h-1zM5 1h1v1h-1zM9 1h1v1h-1zM2 2h1v1h-1zM8 2h1v1h-1zM2 3h1v1h-1zM8 3h1v1h-1zM0 4h1v1h-1zM9 4h1v1h-1zM0 5h1v1h-1zM1 5h1v1h-1zM0 6h1v1h-1zM1 6h1v1h-1zM2 6h1v1h-1zM8 6h1v1h-1zM9 6h1v1h-1zM2 7h1v1h-1zM7 7h1v1h-1zM9 7h1v1h-1zM6 8h1v1h-1zM7 8h1v1h-1zM0 9h1v1h-1zM1 9h1v1h-1z"/>
<path fill="#909090" d="M0 1h1v1h-1zM1 4h1v1h-1zM3 5h1v1h-1zM6 5h1v1h-1zM0 7h1v1h-1zM4 7h1v1h-1zM4 9h1v1h-1z"/>
<path fill="#989898" d="M5 7h1v1h-1z"/>
<path fill="#a0a0a0" d="M4 3h1v1h-1zM7 3h1v1h-1zM2 5h1v1h-1z"/>
<path fill="#a8a8a8" d="M6 4h1v1h-1z"/>
<path fill="#b0b0b0" d="M3 7h1v1h-1z"/>
<path fill="#c0c0c0" d="M3 6h1v1h-1z"/>
<path fill="#c8c8c8" d="M5 3h1v1h-1zM2 4h1v1h-1z"/>
<path fill="#d8d8d8" d="M5 6h1v1h-1z"/>
<path fill="#e8e8e8" d="M5 4h1v1h-1z"/>
<path fill="#f0f0f0" d="M5 5h1v1h-1z"/>
</g></g>
<line x1="175.50" y1="247.20" x2="175.50" y2="284.90" stroke="#00f0f0" stroke-width="1"/>
<line x1="157.05" y1="266.50" x2="194.75" y2="266.50" stroke="#00f0f0" stroke-width="1"/>
<g filter="url(#bl45)"><g transform="translate(206.10,247.20) scale(3.7700,3.7700)">
<rect x="0" y="0" width="10" height="10" fill="#808080"/>
<path fill="#000000" d="M3 3h1v1h-1z"/>
<path fill="#202020" d="M6 3h1v1h-1zM4 4h1v1h-1zM4 5h1v1h-1z"/>
<path fill="#404040" d="M6 2h1v1h-1z"/>
<path fill="#484848" d="M7 5h1v1h-1z"/>
<path fill="#505050" d="M6 1h1v1h-1zM4 6h1v1h-1z"/>
<path fill="#606060" d="M3 2h1v1h-1z"/>
<path fill="#686868" d="M3 1h1v1h-1z"/>
<path fill="#707070" d="M2 7h1v1h-1z"/>
<path fill="#787878" d="M0 6h1v1h-1zM6 8h1v1h-1zM3 9h1v1h-1z"/>
<path fill="#888888" d="M2 0h1v1h-1zM4 1h1v1h-1zM9 1h1v1h-1zM0 2h1v1h-1zM1 2h1v1h-1zM4 3h1v1h-1zM7 3h1v1h-1zM8 3h1v1h-1zM9 3h1v1h-1zM0 4h1v1h-1zM1 4h1v1h-1zM6 4h1v1h-1zM9 4h1v1h-1zM8 5h1v1h-1zM7 6h1v1h-1zM9 6h1v1h-1zM0 7h1v1h-1zM2 8h1v1h-1zM3 8h1v1h-1zM7 8h1v1h-1zM9 8h1v1h-1zM2 9h1v1h-1z"/>
<path fill="#909090" d="M0 1h1v1h-1zM5 2h1v1h-1zM8 2h1v1h-1zM0 3h1v1h-1zM6 5h1v1h-1zM9 5h1v1h-1zM1 6h1v1h-1zM3 7h1v1h-1zM6 7h1v1h-1zM8 9h1v1h-1zM9 9h1v1h-1z"/>
<path fill="#989898" d="M3 0h1v1h-1zM3 4h1v1h-1zM4 9h1v1h-1z"/>
<path fill="#a8a8a8" d="M2 5h1v1h-1zM5 6h1v1h-1z"/>
<path fill="#b0b0b0" d="M4 2h1v1h-1zM3 5h1v1h-1z"/>
<path fill="#b8b8b8" d="M2 3h1v1h-1z"/>
<path fill="#c0c0c0" d="M5 5h1v1h-1z"/>
<path fill="#e0e0e0" d="M3 6h1v1h-1z"/>
<path fill="#e8e8e8" d="M5 3h1v1h-1zM2 4h1v1h-1zM5 4h1v1h-1z"/>
</g></g>
<line x1="224.50" y1="247.20" x2="224.50" y2="284.90" stroke="#00f0f0" stroke-width="1"/>
<line x1="206.10" y1="266.50" x2="243.80" y2="266.50" stroke="#00f0f0" stroke-width="1"/>
<g filter="url(#bl45)"><g transform="translate(255.15,247.20) scale(3.7700,3.7700)">
<rect x="0" y="0" width="10" height="10" fill="#888888"/>
<path fill="#101010" d="M4 3h1v1h-1z"/>
<path fill="#181818" d="M4 4h1v1h-1z"/>
<path fill="#202020" d="M3 2h1v1h-1z"/>
<path fill="#303030" d="M4 5h1v1h-1z"/>
<path fill="#383838" d="M4 2h1v1h-1z"/>
<path fill="#484848" d="M7 4h1v1h-1z"/>
<path fill="#505050" d="M3 3h1v1h-1z"/>
<path fill="#585858" d="M7 5h1v1h-1z"/>
<path fill="#606060" d="M7 3h1v1h-1z"/>
<path fill="#686868" d="M3 7h1v1h-1z"/>
<path fill="#707070" d="M7 1h1v1h-1z"/>
<path fill="#787878" d="M5 0h1v1h-1zM9 0h1v1h-1zM6 1h1v1h-1zM1 2h1v1h-1zM9 3h1v1h-1zM9 4h1v1h-1zM7 6h1v1h-1zM6 7h1v1h-1zM2 8h1v1h-1zM7 8h1v1h-1zM6 9h1v1h-1z"/>
<path fill="#808080" d="M0 0h1v1h-1zM4 0h1v1h-1zM1 1h1v1h-1zM2 1h1v1h-1zM5 1h1v1h-1zM8 1h1v1h-1zM0 2h1v1h-1zM2 2h1v1h-1zM8 2h1v1h-1zM9 2h1v1h-1zM0 3h1v1h-1zM1 3h1v1h-1zM8 3h1v1h-1zM0 4h1v1h-1zM1 5h1v1h-1zM0 6h1v1h-1zM2 6h1v1h-1zM9 6h1v1h-1zM7 7h1v1h-1zM9 7h1v1h-1zM1 8h1v1h-1zM3 8h1v1h-1zM6 8h1v1h-1zM2 9h1v1h-1zM3 9h1v1h-1zM7 9h1v1h-1zM8 9h1v1h-1z"/>
<path fill="#909090" d="M5 2h1v1h-1zM8 4h1v1h-1zM1 7h1v1h-1zM4 7h1v1h-1zM8 7h1v1h-1zM8 8h1v1h-1zM1 9h1v1h-1zM5 9h1v1h-1z"/>
<path fill="#989898" d="M3 4h1v1h-1zM3 6h1v1h-1z"/>
<path fill="#a0a0a0" d="M6 3h1v1h-1z"/>
<path fill="#a8a8a8" d="M6 6h1v1h-1z"/>
<path fill="#b8b8b8" d="M6 4h1v1h-1zM3 5h1v1h-1zM5 5h1v1h-1z"/>
<path fill="#c8c8c8" d="M2 5h1v1h-1z"/>
<path fill="#d0d0d0" d="M2 3h1v1h-1zM2 4h1v1h-1zM6 5h1v1h-1zM5 6h1v1h-1z"/>
<path fill="#d8d8d8" d="M5 3h1v1h-1zM5 4h1v1h-1z"/>
</g></g>
<line x1="274.50" y1="247.20" x2="274.50" y2="284.90" stroke="#00f0f0" stroke-width="1"/>
<line x1="255.15" y1="266.50" x2="292.85" y2="266.50" stroke="#00f0f0" stroke-width="1"/>
<g filter="url(#bl45)"><g transform="translate(304.20,247.20) scale(3.7700,3.7700)">
<rect x="0" y="0" width="10" height="10" fill="#888888"/>
<path fill="#080808" d="M4 5h1v1h-1z"/>
<path fill="#202020" d="M3 3h1v1h-1zM6 3h1v1h-1z"/>
<path fill="#282828" d="M4 6h1v1h-1z"/>
<path fill="#303030" d="M4 4h1v1h-1z"/>
<path fill="#404040" d="M3 2h1v1h-1z"/>
<path fill="#484848" d="M7 5h1v1h-1z"/>
<path fill="#505050" d="M6 2h1v1h-1z"/>
<path fill="#686868" d="M3 4h1v1h-1z"/>
<path fill="#707070" d="M3 1h1v1h-1zM6 1h1v1h-1z"/>
<path fill="#787878" d="M4 1h1v1h-1zM2 6h1v1h-1zM1 7h1v1h-1zM8 8h1v1h-1zM6 9h1v1h-1z"/>
<path fill="#808080" d="M0 0h1v1h-1zM4 0h1v1h-1zM1 1h1v1h-1zM5 1h1v1h-1zM2 2h1v1h-1zM8 2h1v1h-1zM1 3h1v1h-1zM7 3h1v1h-1zM8 3h1v1h-1zM8 4h1v1h-1zM9 4h1v1h-1zM8 5h1v1h-1zM1 6h1v1h-1zM4 7h1v1h-1zM5 7h1v1h-1zM6 7h1v1h-1zM9 7h1v1h-1zM1 8h1v1h-1zM3 8h1v1h-1zM5 8h1v1h-1zM7 8h1v1h-1zM9 8h1v1h-1zM2 9h1v1h-1zM8 9h1v1h-1z"/>
<path fill="#909090" d="M1 2h1v1h-1zM7 2h1v1h-1zM9 2h1v1h-1zM7 6h1v1h-1zM8 6h1v1h-1zM8 7h1v1h-1zM1 9h1v1h-1zM9 9h1v1h-1z"/>
<path fill="#989898" d="M5 0h1v1h-1zM4 3h1v1h-1zM0 4h1v1h-1zM7 4h1v1h-1zM6 6h1v1h-1z"/>
<path fill="#a0a0a0" d="M2 5h1v1h-1zM6 5h1v1h-1zM3 7h1v1h-1z"/>
<path fill="#a8a8a8" d="M3 5h1v1h-1z"/>
<path fill="#b0b0b0" d="M4 2h1v1h-1zM5 6h1v1h-1z"/>
<path fill="#b8b8b8" d="M2 3h1v1h-1zM5 5h1v1h-1z"/>
<path fill="#d8d8d8" d="M2 4h1v1h-1z"/>
<path fill="#e8e8e8" d="M5 3h1v1h-1z"/>
<path fill="#f0f0f0" d="M3 6h1v1h-1z"/>
<path fill="#ffffff" d="M5 4h1v1h-1z"/>
</g></g>
<line x1="323.50" y1="247.20" x2="323.50" y2="284.90" stroke="#00f0f0" stroke-width="1"/>
<line x1="304.20" y1="266.50" x2="341.90" y2="266.50" stroke="#00f0f0" stroke-width="1"/>
<g filter="url(#bl45)"><g transform="translate(353.25,247.20) scale(3.7700,3.7700)">
<rect x="0" y="0" width="10" height="10" fill="#888888"/>
<path fill="#101010" d="M4 4h1v1h-1zM4 5h1v1h-1z"/>
<path fill="#181818" d="M3 3h1v1h-1z"/>
<path fill="#383838" d="M6 2h1v1h-1zM6 3h1v1h-1z"/>
<path fill="#484848" d="M3 2h1v1h-1z"/>
<path fill="#505050" d="M4 6h1v1h-1z"/>
<path fill="#585858" d="M7 5h1v1h-1z"/>
<path fill="#787878" d="M1 1h1v1h-1zM5 1h1v1h-1zM4 2h1v1h-1zM7 2h1v1h-1zM2 3h1v1h-1zM7 3h1v1h-1zM7 4h1v1h-1zM9 5h1v1h-1zM6 6h1v1h-1zM6 7h1v1h-1zM1 8h1v1h-1zM3 8h1v1h-1z"/>
<path fill="#808080" d="M0 0h1v1h-1zM1 0h1v1h-1zM3 0h1v1h-1zM4 0h1v1h-1zM5 0h1v1h-1zM7 0h1v1h-1zM0 1h1v1h-1zM0 2h1v1h-1zM5 2h1v1h-1zM8 2h1v1h-1zM0 3h1v1h-1zM0 4h1v1h-1zM6 4h1v1h-1zM1 5h1v1h-1zM8 5h1v1h-1zM2 6h1v1h-1zM7 6h1v1h-1zM8 6h1v1h-1zM0 7h1v1h-1zM7 7h1v1h-1zM8 7h1v1h-1zM9 7h1v1h-1zM6 8h1v1h-1zM1 9h1v1h-1zM2 9h1v1h-1zM3 9h1v1h-1zM7 9h1v1h-1zM8 9h1v1h-1zM9 9h1v1h-1z"/>
<path fill="#909090" d="M2 0h1v1h-1zM1 4h1v1h-1zM9 4h1v1h-1zM1 6h1v1h-1zM9 6h1v1h-1zM2 7h1v1h-1zM4 7h1v1h-1zM5 7h1v1h-1zM4 8h1v1h-1zM5 8h1v1h-1zM7 8h1v1h-1zM9 8h1v1h-1z"/>
<path fill="#989898" d="M6 5h1v1h-1zM0 8h1v1h-1zM6 9h1v1h-1z"/>
<path fill="#b0b0b0" d="M4 3h1v1h-1zM2 5h1v1h-1zM3 7h1v1h-1z"/>
<path fill="#c0c0c0" d="M5 6h1v1h-1z"/>
<path fill="#c8c8c8" d="M5 3h1v1h-1zM3 6h1v1h-1z"/>
<path fill="#d0d0d0" d="M2 4h1v1h-1z"/>
<path fill="#e0e0e0" d="M5 5h1v1h-1z"/>
<path fill="#ffffff" d="M5 4h1v1h-1z"/>
</g></g>
<line x1="372.50" y1="247.20" x2="372.50" y2="284.90" stroke="#00f0f0" stroke-width="1"/>
<line x1="353.25" y1="266.50" x2="390.95" y2="266.50" stroke="#00f0f0" stroke-width="1"/>
<g filter="url(#bl45)"><g transform="translate(402.30,247.20) scale(3.7700,3.7700)">
<rect x="0" y="0" width="10" height="10" fill="#808080"/>
<path fill="#101010" d="M3 2h1v1h-1z"/>
<path fill="#181818" d="M4 3h1v1h-1zM4 4h1v1h-1z"/>
<path fill="#404040" d="M4 5h1v1h-1z"/>
<path fill="#484848" d="M4 2h1v1h-1zM3 3h1v1h-1z"/>
<path fill="#505050" d="M7 3h1v1h-1z"/>
<path fill="#707070" d="M6 0h1v1h-1zM7 4h1v1h-1z"/>
<path fill="#787878" d="M5 0h1v1h-1zM9 0h1v1h-1zM2 1h1v1h-1zM4 1h1v1h-1zM6 1h1v1h-1zM1 2h1v1h-1zM1 4h1v1h-1zM8 4h1v1h-1zM7 5h1v1h-1zM3 8h1v1h-1zM3 9h1v1h-1zM7 9h1v1h-1z"/>
<path fill="#888888" d="M1 0h1v1h-1zM4 0h1v1h-1zM7 0h1v1h-1zM8 0h1v1h-1zM1 1h1v1h-1zM7 1h1v1h-1zM9 1h1v1h-1zM8 2h1v1h-1zM9 2h1v1h-1zM6 3h1v1h-1zM8 3h1v1h-1zM9 3h1v1h-1zM1 5h1v1h-1zM9 5h1v1h-1zM7 6h1v1h-1zM9 6h1v1h-1zM6 7h1v1h-1zM8 7h1v1h-1zM1 8h1v1h-1zM4 8h1v1h-1zM6 8h1v1h-1zM8 8h1v1h-1zM9 8h1v1h-1zM9 9h1v1h-1z"/>
<path fill="#909090" d="M0 4h1v1h-1zM0 5h1v1h-1zM0 6h1v1h-1zM3 6h1v1h-1zM5 7h1v1h-1zM5 8h1v1h-1zM7 8h1v1h-1zM2 9h1v1h-1z"/>
<path fill="#989898" d="M0 7h1v1h-1zM3 7h1v1h-1zM2 8h1v1h-1z"/>
<path fill="#a8a8a8" d="M6 4h1v1h-1zM6 6h1v1h-1z"/>
<path fill="#b8b8b8" d="M2 4h1v1h-1zM3 4h1v1h-1zM3 5h1v1h-1z"/>
<path fill="#c8c8c8" d="M2 5h1v1h-1z"/>
<path fill="#d0d0d0" d="M5 5h1v1h-1zM5 6h1v1h-1z"/>
<path fill="#e0e0e0" d="M2 3h1v1h-1zM5 4h1v1h-1z"/>
<path fill="#f0f0f0" d="M6 5h1v1h-1z"/>
<path fill="#f8f8f8" d="M5 3h1v1h-1z"/>
</g></g>
<line x1="421.50" y1="247.20" x2="421.50" y2="284.90" stroke="#00f0f0" stroke-width="1"/>
<line x1="402.30" y1="266.50" x2="440.00" y2="266.50" stroke="#00f0f0" stroke-width="1"/>
<g filter="url(#bl45)"><g transform="translate(451.35,247.20) scale(3.7700,3.7700)">
<rect x="0" y="0" width="10" height="10" fill="#888888"/>
<path fill="#080808" d="M3 3h1v1h-1zM4 5h1v1h-1z"/>
<path fill="#181818" d="M4 4h1v1h-1z"/>
<path fill="#303030" d="M6 3h1v1h-1z"/>
<path fill="#484848" d="M6 2h1v1h-1zM4 6h1v1h-1z"/>
<path fill="#606060" d="M7 5h1v1h-1z"/>
<path fill="#686868" d="M3 2h1v1h-1z"/>
<path fill="#707070" d="M6 1h1v1h-1z"/>
<path fill="#787878" d="M4 1h1v1h-1zM0 2h1v1h-1zM5 2h1v1h-1zM9 3h1v1h-1zM3 4h1v1h-1zM8 4h1v1h-1zM9 7h1v1h-1zM6 8h1v1h-1zM0 9h1v1h-1z"/>
<path fill="#808080" d="M0 0h1v1h-1zM1 0h1v1h-1zM2 0h1v1h-1zM7 0h1v1h-1zM8 0h1v1h-1zM8 1h1v1h-1zM1 2h1v1h-1zM2 2h1v1h-1zM7 2h1v1h-1zM8 2h1v1h-1zM9 2h1v1h-1zM1 3h1v1h-1zM7 4h1v1h-1zM9 4h1v1h-1zM0 6h1v1h-1zM1 6h1v1h-1zM6 6h1v1h-1zM8 6h1v1h-1zM9 6h1v1h-1zM0 7h1v1h-1zM2 8h1v1h-1zM5 8h1v1h-1zM9 8h1v1h-1zM5 9h1v1h-1zM6 9h1v1h-1zM8 9h1v1h-1z"/>
<path fill="#909090" d="M3 0h1v1h-1zM9 0h1v1h-1zM1 1h1v1h-1zM7 1h1v1h-1zM4 2h1v1h-1zM4 3h1v1h-1zM1 4h1v1h-1zM6 4h1v1h-1zM8 5h1v1h-1zM1 7h1v1h-1zM2 7h1v1h-1zM7 7h1v1h-1z"/>
<path fill="#989898" d="M3 1h1v1h-1zM5 6h1v1h-1z"/>
<path fill="#a8a8a8" d="M6 5h1v1h-1zM3 7h1v1h-1z"/>
<path fill="#b0b0b0" d="M2 5h1v1h-1zM3 5h1v1h-1z"/>
<path fill="#b8b8b8" d="M5 5h1v1h-1z"/>
<path fill="#c8c8c8" d="M5 3h1v1h-1z"/>
<path fill="#d0d0d0" d="M2 3h1v1h-1zM3 6h1v1h-1z"/>
<path fill="#e0e0e0" d="M2 4h1v1h-1z"/>
<path fill="#f8f8f8" d="M5 4h1v1h-1z"/>
</g></g>
<line x1="470.50" y1="247.20" x2="470.50" y2="284.90" stroke="#00f0f0" stroke-width="1"/>
<line x1="451.35" y1="266.50" x2="489.05" y2="266.50" stroke="#00f0f0" stroke-width="1"/>
<g filter="url(#bl45)"><g transform="translate(9.90,290.30) scale(3.7700,3.7700)">
<rect x="0" y="0" width="10" height="10" fill="#888888"/>
<path fill="#000000" d="M4 4h1v1h-1z"/>
<path fill="#181818" d="M4 5h1v1h-1z"/>
<path fill="#282828" d="M6 3h1v1h-1z"/>
<path fill="#303030" d="M3 3h1v1h-1z"/>
<path fill="#484848" d="M3 2h1v1h-1z"/>
<path fill="#585858" d="M7 5h1v1h-1z"/>
<path fill="#606060" d="M6 2h1v1h-1zM4 6h1v1h-1z"/>
<path fill="#787878" d="M0 0h1v1h-1zM4 2h1v1h-1zM3 4h1v1h-1zM2 7h1v1h-1zM7 7h1v1h-1zM0 8h1v1h-1zM1 8h1v1h-1z"/>
<path fill="#808080" d="M0 1h1v1h-1zM3 1h1v1h-1zM5 1h1v1h-1zM6 1h1v1h-1zM8 1h1v1h-1zM9 1h1v1h-1zM0 2h1v1h-1zM7 2h1v1h-1zM8 2h1v1h-1zM1 3h1v1h-1zM0 4h1v1h-1zM8 4h1v1h-1zM9 4h1v1h-1zM0 5h1v1h-1zM0 6h1v1h-1zM2 6h1v1h-1zM6 6h1v1h-1zM6 7h1v1h-1zM3 8h1v1h-1zM4 8h1v1h-1zM5 8h1v1h-1zM6 8h1v1h-1zM0 9h1v1h-1zM2 9h1v1h-1zM4 9h1v1h-1z"/>
<path fill="#909090" d="M1 0h1v1h-1zM5 0h1v1h-1zM2 1h1v1h-1zM5 2h1v1h-1zM8 3h1v1h-1zM1 4h1v1h-1zM1 6h1v1h-1zM0 7h1v1h-1zM9 7h1v1h-1zM7 9h1v1h-1z"/>
<path fill="#989898" d="M6 4h1v1h-1zM6 5h1v1h-1z"/>
<path fill="#a8a8a8" d="M3 5h1v1h-1z"/>
<path fill="#b0b0b0" d="M4 3h1v1h-1zM3 7h1v1h-1z"/>
<path fill="#b8b8b8" d="M2 5h1v1h-1z"/>
<path fill="#c0c0c0" d="M5 3h1v1h-1z"/>
<path fill="#c8c8c8" d="M2 4h1v1h-1zM5 6h1v1h-1z"/>
<path fill="#d0d0d0" d="M3 6h1v1h-1z"/>
<path fill="#e0e0e0" d="M5 5h1v1h-1z"/>
<path fill="#ffffff" d="M5 4h1v1h-1z"/>
</g></g>
<line x1="28.50" y1="290.30" x2="28.50" y2="328.00" stroke="#00f0f0" stroke-width="1"/>
<line x1="9.90" y1="309.50" x2="47.60" y2="309.50" stroke="#00f0f0" stroke-width="1"/>
<g filter="url(#bl45)"><g transform="translate(58.95,290.30) scale(3.7700,3.7700)">
<rect x="0" y="0" width="10" height="10" fill="#808080"/>
<path fill="#080808" d="M3 3h1v1h-1zM4 4h1v1h-1z"/>
<path fill="#101010" d="M4 5h1v1h-1z"/>
<path fill="#181818" d="M6 3h1v1h-1z"/>
<path fill="#303030" d="M4 6h1v1h-1z"/>
<path fill="#404040" d="M6 2h1v1h-1zM7 5h1v1h-1z"/>
<path fill="#484848" d="M3 1h1v1h-1z"/>
<path fill="#505050" d="M6 1h1v1h-1z"/>
<path fill="#707070" d="M3 2h1v1h-1z"/>
<path fill="#787878" d="M4 0h1v1h-1zM5 0h1v1h-1zM8 3h1v1h-1zM3 4h1v1h-1zM7 4h1v1h-1zM3 7h1v1h-1zM7 8h1v1h-1zM1 9h1v1h-1zM3 9h1v1h-1z"/>
<path fill="#888888" d="M2 0h1v1h-1zM3 0h1v1h-1zM7 0h1v1h-1zM8 1h1v1h-1zM0 2h1v1h-1zM1 2h1v1h-1zM7 2h1v1h-1zM1 3h1v1h-1zM4 3h1v1h-1zM0 4h1v1h-1zM0 5h1v1h-1zM8 5h1v1h-1zM9 5h1v1h-1zM1 6h1v1h-1zM7 6h1v1h-1zM8 6h1v1h-1zM9 6h1v1h-1zM0 7h1v1h-1zM2 7h1v1h-1zM4 7h1v1h-1zM8 7h1v1h-1zM6 8h1v1h-1zM2 9h1v1h-1zM4 9h1v1h-1zM5 9h1v1h-1zM8 9h1v1h-1zM9 9h1v1h-1z"/>
<path fill="#909090" d="M1 0h1v1h-1zM8 0h1v1h-1zM5 1h1v1h-1zM0 3h1v1h-1zM8 4h1v1h-1zM1 5h1v1h-1zM7 7h1v1h-1zM5 8h1v1h-1z"/>
<path fill="#989898" d="M6 5h1v1h-1z"/>
<path fill="#a0a0a0" d="M6 6h1v1h-1z"/>
<path fill="#a8a8a8" d="M4 2h1v1h-1zM5 6h1v1h-1z"/>
<path fill="#b8b8b8" d="M2 3h1v1h-1zM3 5h1v1h-1z"/>
<path fill="#c0c0c0" d="M2 5h1v1h-1z"/>
<path fill="#c8c8c8" d="M5 5h1v1h-1z"/>
<path fill="#e0e0e0" d="M3 6h1v1h-1z"/>
<path fill="#ffffff" d="M2 4h1v1h-1zM5 4h1v1h-1z"/>
<path fill="#ffffff" d="M5 3h1v1h-1z"/>
</g></g>
<line x1="77.50" y1="290.30" x2="77.50" y2="328.00" stroke="#00f0f0" stroke-width="1"/>
<line x1="58.95" y1="309.50" x2="96.65" y2="309.50" stroke="#00f0f0" stroke-width="1"/>
<g filter="url(#bl45)"><g transform="translate(108.00,290.30) scale(3.7700,3.7700)">
<rect x="0" y="0" width="10" height="10" fill="#808080"/>
<path fill="#101010" d="M3 2h1v1h-1zM4 4h1v1h-1z"/>
<path fill="#202020" d="M4 5h1v1h-1z"/>
<path fill="#282828" d="M4 3h1v1h-1z"/>
<path fill="#404040" d="M4 2h1v1h-1z"/>
<path fill="#606060" d="M3 3h1v1h-1z"/>
<path fill="#686868" d="M7 3h1v1h-1z"/>
<path fill="#707070" d="M7 5h1v1h-1z"/>
<path fill="#787878" d="M2 0h1v1h-1zM3 0h1v1h-1zM7 0h1v1h-1zM7 4h1v1h-1zM8 4h1v1h-1zM4 6h1v1h-1zM7 6h1v1h-1zM8 6h1v1h-1zM1 7h1v1h-1zM5 8h1v1h-1zM7 9h1v1h-1z"/>
<path fill="#888888" d="M1 0h1v1h-1zM4 0h1v1h-1zM8 0h1v1h-1zM0 1h1v1h-1zM1 1h1v1h-1zM2 1h1v1h-1zM5 1h1v1h-1zM7 1h1v1h-1zM2 2h1v1h-1zM5 2h1v1h-1zM6 2h1v1h-1zM7 2h1v1h-1zM8 2h1v1h-1zM0 3h1v1h-1zM1 3h1v1h-1zM6 3h1v1h-1zM8 3h1v1h-1zM1 4h1v1h-1zM9 4h1v1h-1zM9 5h1v1h-1zM0 6h1v1h-1zM1 6h1v1h-1zM2 6h1v1h-1zM9 6h1v1h-1zM0 7h1v1h-1zM2 7h1v1h-1zM4 7h1v1h-1zM8 7h1v1h-1zM3 8h1v1h-1zM7 8h1v1h-1zM9 8h1v1h-1zM0 9h1v1h-1zM2 9h1v1h-1zM3 9h1v1h-1z"/>
<path fill="#909090" d="M0 4h1v1h-1z"/>
<path fill="#a0a0a0" d="M3 4h1v1h-1zM6 4h1v1h-1zM3 6h1v1h-1z"/>
<path fill="#a8a8a8" d="M2 4h1v1h-1zM6 6h1v1h-1z"/>
<path fill="#b0b0b0" d="M3 7h1v1h-1z"/>
<path fill="#c0c0c0" d="M5 6h1v1h-1z"/>
<path fill="#c8c8c8" d="M6 5h1v1h-1z"/>
<path fill="#d0d0d0" d="M5 5h1v1h-1z"/>
<path fill="#d8d8d8" d="M2 5h1v1h-1zM3 5h1v1h-1z"/>
<path fill="#e0e0e0" d="M2 3h1v1h-1z"/>
<path fill="#f0f0f0" d="M5 3h1v1h-1z"/>
<path fill="#ffffff" d="M5 4h1v1h-1z"/>
</g></g>
<line x1="126.50" y1="290.30" x2="126.50" y2="328.00" stroke="#00f0f0" stroke-width="1"/>
<line x1="108.00" y1="309.50" x2="145.70" y2="309.50" stroke="#00f0f0" stroke-width="1"/>
<g filter="url(#bl45)"><g transform="translate(157.05,290.30) scale(3.7700,3.7700)">
<rect x="0" y="0" width="10" height="10" fill="#808080"/>
<path fill="#000000" d="M4 4h1v1h-1zM4 5h1v1h-1z"/>
<path fill="#101010" d="M3 3h1v1h-1z"/>
<path fill="#202020" d="M4 6h1v1h-1z"/>
<path fill="#303030" d="M6 3h1v1h-1z"/>
<path fill="#484848" d="M6 2h1v1h-1z"/>
<path fill="#585858" d="M3 1h1v1h-1zM6 1h1v1h-1zM3 2h1v1h-1z"/>
<path fill="#606060" d="M7 5h1v1h-1z"/>
<path fill="#686868" d="M3 4h1v1h-1z"/>
<path fill="#707070" d="M9 3h1v1h-1z"/>
<path fill="#787878" d="M0 1h1v1h-1zM1 1h1v1h-1zM4 1h1v1h-1zM0 4h1v1h-1zM7 4h1v1h-1zM1 5h1v1h-1zM8 5h1v1h-1zM1 7h1v1h-1zM2 7h1v1h-1zM1 8h1v1h-1zM4 8h1v1h-1zM6 8h1v1h-1zM7 8h1v1h-1z"/>
<path fill="#888888" d="M0 0h1v1h-1zM2 0h1v1h-1zM3 0h1v1h-1zM4 0h1v1h-1zM2 1h1v1h-1zM4 3h1v1h-1zM0 5h1v1h-1zM9 5h1v1h-1zM0 6h1v1h-1zM6 6h1v1h-1zM8 6h1v1h-1zM0 7h1v1h-1zM4 7h1v1h-1zM7 7h1v1h-1zM8 7h1v1h-1zM9 7h1v1h-1zM2 8h1v1h-1zM3 8h1v1h-1zM0 9h1v1h-1zM4 9h1v1h-1zM7 9h1v1h-1zM9 9h1v1h-1z"/>
<path fill="#909090" d="M7 1h1v1h-1zM1 4h1v1h-1zM8 4h1v1h-1zM9 6h1v1h-1zM0 8h1v1h-1zM5 8h1v1h-1zM9 8h1v1h-1zM1 9h1v1h-1zM2 9h1v1h-1zM5 9h1v1h-1z"/>
<path fill="#989898" d="M6 4h1v1h-1zM8 8h1v1h-1z"/>
<path fill="#a0a0a0" d="M4 2h1v1h-1zM3 7h1v1h-1z"/>
<path fill="#a8a8a8" d="M2 5h1v1h-1zM6 5h1v1h-1z"/>
<path fill="#b0b0b0" d="M3 5h1v1h-1zM5 6h1v1h-1z"/>
<path fill="#c0c0c0" d="M5 5h1v1h-1z"/>
<path fill="#d0d0d0" d="M2 3h1v1h-1z"/>
<path fill="#f0f0f0" d="M5 3h1v1h-1zM3 6h1v1h-1z"/>
<path fill="#f8f8f8" d="M2 4h1v1h-1z"/>
<path fill="#ffffff" d="M5 4h1v1h-1z"/>
</g></g>
<line x1="175.50" y1="290.30" x2="175.50" y2="328.00" stroke="#00f0f0" stroke-width="1"/>
<line x1="157.05" y1="309.50" x2="194.75" y2="309.50" stroke="#00f0f0" stroke-width="1"/>
<g filter="url(#bl45)"><g transform="translate(206.10,290.30) scale(3.7700,3.7700)">
<rect x="0" y="0" width="10" height="10" fill="#888888"/>
<path fill="#000000" d="M4 4h1v1h-1z"/>
<path fill="#101010" d="M4 5h1v1h-1z"/>
<path fill="#282828" d="M3 3h1v1h-1z"/>
<path fill="#404040" d="M3 2h1v1h-1zM6 3h1v1h-1z"/>
<path fill="#484848" d="M7 5h1v1h-1z"/>
<path fill="#505050" d="M6 2h1v1h-1z"/>
<path fill="#686868" d="M4 6h1v1h-1z"/>
<path fill="#707070" d="M0 0h1v1h-1zM0 2h1v1h-1zM1 6h1v1h-1z"/>
<path fill="#787878" d="M5 1h1v1h-1zM9 5h1v1h-1zM6 7h1v1h-1zM7 7h1v1h-1zM1 8h1v1h-1zM0 9h1v1h-1z"/>
<path fill="#808080" d="M1 0h1v1h-1zM2 0h1v1h-1zM6 0h1v1h-1zM8 0h1v1h-1zM0 1h1v1h-1zM1 1h1v1h-1zM3 1h1v1h-1zM4 1h1v1h-1zM6 1h1v1h-1zM8 1h1v1h-1zM2 2h1v1h-1zM4 2h1v1h-1zM5 2h1v1h-1zM9 2h1v1h-1zM0 3h1v1h-1zM0 4h1v1h-1zM8 4h1v1h-1zM0 5h1v1h-1zM0 6h1v1h-1zM2 7h1v1h-1zM8 7h1v1h-1zM0 8h1v1h-1zM7 8h1v1h-1zM1 9h1v1h-1zM4 9h1v1h-1z"/>
<path fill="#909090" d="M3 0h1v1h-1zM5 0h1v1h-1zM7 0h1v1h-1zM9 0h1v1h-1zM7 3h1v1h-1zM6 4h1v1h-1zM9 7h1v1h-1zM4 8h1v1h-1zM6 8h1v1h-1zM2 9h1v1h-1z"/>
<path fill="#989898" d="M4 3h1v1h-1zM3 5h1v1h-1zM7 6h1v1h-1zM5 7h1v1h-1z"/>
<path fill="#a0a0a0" d="M6 5h1v1h-1zM3 7h1v1h-1z"/>
<path fill="#a8a8a8" d="M5 6h1v1h-1z"/>
<path fill="#b0b0b0" d="M2 5h1v1h-1z"/>
<path fill="#c0c0c0" d="M5 3h1v1h-1z"/>
<path fill="#c8c8c8" d="M2 4h1v1h-1z"/>
<path fill="#d0d0d0" d="M3 6h1v1h-1z"/>
<path fill="#f0f0f0" d="M5 4h1v1h-1z"/>
<path fill="#ffffff" d="M5 5h1v1h-1z"/>
</g></g>
<line x1="224.50" y1="290.30" x2="224.50" y2="328.00" stroke="#00f0f0" stroke-width="1"/>
<line x1="206.10" y1="309.50" x2="243.80" y2="309.50" stroke="#00f0f0" stroke-width="1"/>
<g filter="url(#bl45)"><g transform="translate(255.15,290.30) scale(3.7700,3.7700)">
<rect x="0" y="0" width="10" height="10" fill="#888888"/>
<path fill="#080808" d="M3 3h1v1h-1z"/>
<path fill="#101010" d="M4 5h1v1h-1z"/>
<path fill="#181818" d="M4 4h1v1h-1z"/>
<path fill="#303030" d="M6 3h1v1h-1zM7 5h1v1h-1z"/>
<path fill="#404040" d="M4 6h1v1h-1z"/>
<path fill="#484848" d="M6 2h1v1h-1z"/>
<path fill="#606060" d="M6 1h1v1h-1z"/>
<path fill="#686868" d="M3 1h1v1h-1zM3 4h1v1h-1z"/>
<path fill="#707070" d="M3 2h1v1h-1zM9 9h1v1h-1z"/>
<path fill="#787878" d="M3 0h1v1h-1zM0 1h1v1h-1zM1 1h1v1h-1zM0 2h1v1h-1zM1 2h1v1h-1zM6 4h1v1h-1zM9 4h1v1h-1zM6 6h1v1h-1zM3 8h1v1h-1zM8 8h1v1h-1zM8 9h1v1h-1z"/>
<path fill="#808080" d="M2 0h1v1h-1zM8 0h1v1h-1zM8 1h1v1h-1zM5 2h1v1h-1zM8 2h1v1h-1zM9 2h1v1h-1zM0 3h1v1h-1zM0 4h1v1h-1zM1 4h1v1h-1zM8 4h1v1h-1zM8 5h1v1h-1zM0 6h1v1h-1zM1 6h1v1h-1zM2 6h1v1h-1zM8 6h1v1h-1zM1 7h1v1h-1zM4 7h1v1h-1zM9 7h1v1h-1zM0 8h1v1h-1zM9 8h1v1h-1zM0 9h1v1h-1zM1 9h1v1h-1zM3 9h1v1h-1zM4 9h1v1h-1zM5 9h1v1h-1zM6 9h1v1h-1zM7 9h1v1h-1z"/>
<path fill="#909090" d="M1 0h1v1h-1zM7 1h1v1h-1zM2 2h1v1h-1zM3 7h1v1h-1zM5 7h1v1h-1zM7 7h1v1h-1zM1 8h1v1h-1zM4 8h1v1h-1zM6 8h1v1h-1zM2 9h1v1h-1z"/>
<path fill="#989898" d="M9 0h1v1h-1zM4 2h1v1h-1zM4 3h1v1h-1zM2 5h1v1h-1zM6 7h1v1h-1z"/>
<path fill="#b0b0b0" d="M5 6h1v1h-1z"/>
<path fill="#b8b8b8" d="M2 3h1v1h-1zM3 5h1v1h-1zM5 5h1v1h-1zM6 5h1v1h-1z"/>
<path fill="#d8d8d8" d="M3 6h1v1h-1z"/>
<path fill="#e8e8e8" d="M2 4h1v1h-1z"/>
<path fill="#f8f8f8" d="M5 3h1v1h-1z"/>
<path fill="#ffffff" d="M5 4h1v1h-1z"/>
</g></g>
<line x1="274.50" y1="290.30" x2="274.50" y2="328.00" stroke="#00f0f0" stroke-width="1"/>
<line x1="255.15" y1="309.50" x2="292.85" y2="309.50" stroke="#00f0f0" stroke-width="1"/>
<g filter="url(#bl45)"><g transform="translate(304.20,290.30) scale(3.7700,3.7700)">
<rect x="0" y="0" width="10" height="10" fill="#888888"/>
<path fill="#000000" d="M3 2h1v1h-1zM4 4h1v1h-1z"/>
<path fill="#202020" d="M4 2h1v1h-1z"/>
<path fill="#383838" d="M4 3h1v1h-1z"/>
<path fill="#484848" d="M3 3h1v1h-1zM4 5h1v1h-1z"/>
<path fill="#606060" d="M7 4h1v1h-1z"/>
<path fill="#787878" d="M7 0h1v1h-1zM8 0h1v1h-1zM0 1h1v1h-1zM7 3h1v1h-1zM0 4h1v1h-1zM7 5h1v1h-1zM9 6h1v1h-1zM1 7h1v1h-1zM5 9h1v1h-1zM9 9h1v1h-1z"/>
<path fill="#808080" d="M2 0h1v1h-1zM4 0h1v1h-1zM6 0h1v1h-1zM0 2h1v1h-1zM1 2h1v1h-1zM2 2h1v1h-1zM5 2h1v1h-1zM6 2h1v1h-1zM7 2h1v1h-1zM9 2h1v1h-1zM0 3h1v1h-1zM1 3h1v1h-1zM8 3h1v1h-1zM9 4h1v1h-1zM0 5h1v1h-1zM9 5h1v1h-1zM1 6h1v1h-1zM7 6h1v1h-1zM2 7h1v1h-1zM5 7h1v1h-1zM6 7h1v1h-1zM8 7h1v1h-1zM9 7h1v1h-1zM2 8h1v1h-1zM3 8h1v1h-1zM4 8h1v1h-1zM8 8h1v1h-1zM0 9h1v1h-1zM3 9h1v1h-1zM6 9h1v1h-1zM7 9h1v1h-1zM8 9h1v1h-1z"/>
<path fill="#909090" d="M0 0h1v1h-1zM1 0h1v1h-1zM2 1h1v1h-1zM5 1h1v1h-1zM1 5h1v1h-1zM8 5h1v1h-1zM0 7h1v1h-1zM3 7h1v1h-1zM4 7h1v1h-1zM7 7h1v1h-1zM1 9h1v1h-1zM4 9h1v1h-1z"/>
<path fill="#a0a0a0" d="M3 6h1v1h-1z"/>
<path fill="#a8a8a8" d="M2 5h1v1h-1z"/>
<path fill="#b0b0b0" d="M6 6h1v1h-1z"/>
<path fill="#b8b8b8" d="M3 4h1v1h-1zM6 4h1v1h-1zM3 5h1v1h-1z"/>
<path fill="#c0c0c0" d="M5 6h1v1h-1z"/>
<path fill="#c8c8c8" d="M2 4h1v1h-1z"/>
<path fill="#e0e0e0" d="M5 5h1v1h-1zM6 5h1v1h-1z"/>
<path fill="#e8e8e8" d="M2 3h1v1h-1z"/>
<path fill="#f8f8f8" d="M5 3h1v1h-1z"/>
<path fill="#ffffff" d="M5 4h1v1h-1z"/>
</g></g>
<line x1="323.50" y1="290.30" x2="323.50" y2="328.00" stroke="#00f0f0" stroke-width="1"/>
<line x1="304.20" y1="309.50" x2="341.90" y2="309.50" stroke="#00f0f0" stroke-width="1"/>
<g filter="url(#bl45)"><g transform="translate(353.25,290.30) scale(3.7700,3.7700)">
<rect x="0" y="0" width="10" height="10" fill="#888888"/>
<path fill="#080808" d="M3 3h1v1h-1zM4 4h1v1h-1z"/>
<path fill="#101010" d="M6 3h1v1h-1z"/>
<path fill="#181818" d="M4 5h1v1h-1z"/>
<path fill="#202020" d="M6 2h1v1h-1z"/>
<path fill="#383838" d="M7 5h1v1h-1z"/>
<path fill="#505050" d="M4 6h1v1h-1z"/>
<path fill="#686868" d="M3 2h1v1h-1z"/>
<path fill="#707070" d="M6 1h1v1h-1zM3 4h1v1h-1zM8 4h1v1h-1z"/>
<path fill="#787878" d="M3 1h1v1h-1zM9 3h1v1h-1zM6 4h1v1h-1zM8 5h1v1h-1zM1 6h1v1h-1zM7 9h1v1h-1zM9 9h1v1h-1z"/>
<path fill="#808080" d="M0 0h1v1h-1zM1 0h1v1h-1zM3 0h1v1h-1zM5 0h1v1h-1zM6 0h1v1h-1zM7 0h1v1h-1zM1 1h1v1h-1zM4 1h1v1h-1zM5 1h1v1h-1zM7 1h1v1h-1zM8 1h1v1h-1zM9 1h1v1h-1zM0 2h1v1h-1zM2 2h1v1h-1zM9 2h1v1h-1zM7 3h1v1h-1zM7 4h1v1h-1zM9 4h1v1h-1zM9 5h1v1h-1zM7 6h1v1h-1zM8 6h1v1h-1zM2 7h1v1h-1zM4 7h1v1h-1zM5 7h1v1h-1zM6 7h1v1h-1zM7 7h1v1h-1zM2 8h1v1h-1zM5 8h1v1h-1zM8 8h1v1h-1zM0 9h1v1h-1zM4 9h1v1h-1zM6 9h1v1h-1z"/>
<path fill="#909090" d="M8 0h1v1h-1zM0 1h1v1h-1zM8 2h1v1h-1zM8 3h1v1h-1zM0 4h1v1h-1zM6 6h1v1h-1zM0 7h1v1h-1zM9 7h1v1h-1zM7 8h1v1h-1zM9 8h1v1h-1zM1 9h1v1h-1z"/>
<path fill="#989898" d="M3 7h1v1h-1z"/>
<path fill="#a0a0a0" d="M4 3h1v1h-1zM5 6h1v1h-1z"/>
<path fill="#a8a8a8" d="M3 5h1v1h-1z"/>
<path fill="#b0b0b0" d="M5 5h1v1h-1z"/>
<path fill="#b8b8b8" d="M4 2h1v1h-1z"/>
<path fill="#c0c0c0" d="M2 5h1v1h-1z"/>
<path fill="#e0e0e0" d="M2 3h1v1h-1zM2 4h1v1h-1zM5 4h1v1h-1z"/>
<path fill="#e8e8e8" d="M3 6h1v1h-1z"/>
<path fill="#ffffff" d="M5 3h1v1h-1z"/>
</g></g>
<line x1="372.50" y1="290.30" x2="372.50" y2="328.00" stroke="#00f0f0" stroke-width="1"/>
<line x1="353.25" y1="309.50" x2="390.95" y2="309.50" stroke="#00f0f0" stroke-width="1"/>
<g filter="url(#bl45)"><g transform="translate(402.30,290.30) scale(3.7700,3.7700)">
<rect x="0" y="0" width="10" height="10" fill="#888888"/>
<path fill="#000000" d="M4 4h1v1h-1z"/>
<path fill="#282828" d="M4 5h1v1h-1z"/>
<path fill="#383838" d="M3 3h1v1h-1zM4 6h1v1h-1z"/>
<path fill="#484848" d="M6 3h1v1h-1z"/>
<path fill="#505050" d="M6 2h1v1h-1z"/>
<path fill="#585858" d="M3 2h1v1h-1z"/>
<path fill="#686868" d="M7 5h1v1h-1z"/>
<path fill="#707070" d="M7 4h1v1h-1zM2 9h1v1h-1z"/>
<path fill="#787878" d="M6 0h1v1h-1zM0 3h1v1h-1zM3 4h1v1h-1zM8 4h1v1h-1zM6 6h1v1h-1zM6 7h1v1h-1z"/>
<path fill="#808080" d="M1 0h1v1h-1zM5 0h1v1h-1zM1 1h1v1h-1zM5 1h1v1h-1zM7 1h1v1h-1zM8 1h1v1h-1zM0 2h1v1h-1zM4 2h1v1h-1zM1 3h1v1h-1zM8 3h1v1h-1zM1 4h1v1h-1zM1 5h1v1h-1zM8 6h1v1h-1zM4 7h1v1h-1zM8 7h1v1h-1zM1 8h1v1h-1zM2 8h1v1h-1zM4 8h1v1h-1zM7 8h1v1h-1zM9 8h1v1h-1zM1 9h1v1h-1zM3 9h1v1h-1zM4 9h1v1h-1zM6 9h1v1h-1zM7 9h1v1h-1zM8 9h1v1h-1zM9 9h1v1h-1z"/>
<path fill="#909090" d="M3 0h1v1h-1zM4 0h1v1h-1zM7 0h1v1h-1zM9 0h1v1h-1zM4 1h1v1h-1zM9 3h1v1h-1zM3 5h1v1h-1zM6 5h1v1h-1zM1 6h1v1h-1zM5 7h1v1h-1zM8 8h1v1h-1z"/>
<path fill="#989898" d="M1 2h1v1h-1z"/>
<path fill="#a0a0a0" d="M6 4h1v1h-1z"/>
<path fill="#a8a8a8" d="M2 4h1v1h-1zM3 7h1v1h-1z"/>
<path fill="#b0b0b0" d="M4 3h1v1h-1z"/>
<path fill="#b8b8b8" d="M2 5h1v1h-1z"/>
<path fill="#c0c0c0" d="M5 3h1v1h-1z"/>
<path fill="#c8c8c8" d="M5 6h1v1h-1z"/>
<path fill="#d0d0d0" d="M3 6h1v1h-1z"/>
<path fill="#e8e8e8" d="M5 5h1v1h-1z"/>
<path fill="#f0f0f0" d="M5 4h1v1h-1z"/>
</g></g>
<line x1="421.50" y1="290.30" x2="421.50" y2="328.00" stroke="#00f0f0" stroke-width="1"/>
<line x1="402.30" y1="309.50" x2="440.00" y2="309.50" stroke="#00f0f0" stroke-width="1"/>
<g filter="url(#bl45)"><g transform="translate(451.35,290.30) scale(3.7700,3.7700)">
<rect x="0" y="0" width="10" height="10" fill="#808080"/>
<path fill="#080808" d="M3 2h1v1h-1zM4 3h1v1h-1zM4 4h1v1h-1z"/>
<path fill="#484848" d="M4 2h1v1h-1zM4 5h1v1h-1zM7 5h1v1h-1z"/>
<path fill="#505050" d="M3 3h1v1h-1z"/>
<path fill="#606060" d="M7 3h1v1h-1zM7 4h1v1h-1z"/>
<path fill="#707070" d="M1 5h1v1h-1z"/>
<path fill="#787878" d="M5 0h1v1h-1zM0 1h1v1h-1zM2 1h1v1h-1zM1 2h1v1h-1zM5 2h1v1h-1zM7 2h1v1h-1zM8 3h1v1h-1zM9 3h1v1h-1zM9 5h1v1h-1zM0 6h1v1h-1zM6 6h1v1h-1zM1 7h1v1h-1zM9 7h1v1h-1zM0 9h1v1h-1z"/>
<path fill="#888888" d="M1 0h1v1h-1zM2 0h1v1h-1zM4 0h1v1h-1zM3 1h1v1h-1zM8 1h1v1h-1zM9 1h1v1h-1zM0 2h1v1h-1zM8 2h1v1h-1zM0 3h1v1h-1zM8 4h1v1h-1zM0 5h1v1h-1zM8 5h1v1h-1zM7 6h1v1h-1zM8 6h1v1h-1zM3 7h1v1h-1zM5 7h1v1h-1zM6 7h1v1h-1zM2 8h1v1h-1zM9 8h1v1h-1zM3 9h1v1h-1zM8 9h1v1h-1z"/>
<path fill="#909090" d="M7 0h1v1h-1zM5 1h1v1h-1zM2 2h1v1h-1zM0 4h1v1h-1zM9 4h1v1h-1zM7 7h1v1h-1zM1 8h1v1h-1zM4 8h1v1h-1zM6 8h1v1h-1zM2 9h1v1h-1zM9 9h1v1h-1z"/>
<path fill="#a0a0a0" d="M2 5h1v1h-1z"/>
<path fill="#a8a8a8" d="M6 3h1v1h-1zM5 5h1v1h-1zM3 6h1v1h-1z"/>
<path fill="#b0b0b0" d="M3 4h1v1h-1zM6 4h1v1h-1zM6 5h1v1h-1z"/>
<path fill="#b8b8b8" d="M2 4h1v1h-1z"/>
<path fill="#c0c0c0" d="M5 6h1v1h-1z"/>
<path fill="#c8c8c8" d="M3 5h1v1h-1z"/>
<path fill="#e8e8e8" d="M2 3h1v1h-1z"/>
<path fill="#ffffff" d="M5 3h1v1h-1zM5 4h1v1h-1z"/>
</g></g>
<line x1="470.50" y1="290.30" x2="470.50" y2="328.00" stroke="#00f0f0" stroke-width="1"/>
<line x1="451.35" y1="309.50" x2="489.05" y2="309.50" stroke="#00f0f0" stroke-width="1"/>
<g filter="url(#bl45)"><g transform="translate(9.90,351.70) scale(3.7700,3.7700)">
<rect x="0" y="0" width="10" height="10" fill="#808080"/>
<path fill="#000000" d="M6 5h1v1h-1z"/>
<path fill="#000000" d="M8 4h1v1h-1zM5 6h1v1h-1z"/>
<path fill="#080808" d="M8 5h1v1h-1z"/>
<path fill="#101010" d="M7 5h1v1h-1z"/>
<path fill="#202020" d="M9 4h1v1h-1z"/>
<path fill="#484848" d="M9 7h1v1h-1z"/>
<path fill="#686868" d="M6 8h1v1h-1z"/>
<path fill="#707070" d="M6 1h1v1h-1zM4 6h1v1h-1zM1 8h1v1h-1zM8 9h1v1h-1z"/>
<path fill="#787878" d="M1 1h1v1h-1zM6 2h1v1h-1zM8 2h1v1h-1zM1 3h1v1h-1zM4 4h1v1h-1zM4 5h1v1h-1zM2 7h1v1h-1zM3 8h1v1h-1zM4 8h1v1h-1zM7 8h1v1h-1z"/>
<path fill="#888888" d="M2 0h1v1h-1zM4 0h1v1h-1zM5 0h1v1h-1zM0 1h1v1h-1zM5 1h1v1h-1zM7 1h1v1h-1zM8 1h1v1h-1zM0 2h1v1h-1zM1 2h1v1h-1zM4 2h1v1h-1zM5 2h1v1h-1zM9 2h1v1h-1zM3 3h1v1h-1zM4 3h1v1h-1zM5 3h1v1h-1zM1 4h1v1h-1zM0 5h1v1h-1zM1 6h1v1h-1zM3 6h1v1h-1zM6 6h1v1h-1zM0 7h1v1h-1zM5 7h1v1h-1zM5 8h1v1h-1zM2 9h1v1h-1zM3 9h1v1h-1zM4 9h1v1h-1z"/>
<path fill="#909090" d="M7 0h1v1h-1zM2 3h1v1h-1zM2 4h1v1h-1zM1 5h1v1h-1zM3 7h1v1h-1zM4 7h1v1h-1zM1 9h1v1h-1z"/>
<path fill="#989898" d="M9 8h1v1h-1z"/>
<path fill="#a0a0a0" d="M8 7h1v1h-1z"/>
<path fill="#b0b0b0" d="M7 3h1v1h-1zM5 5h1v1h-1z"/>
<path fill="#b8b8b8" d="M9 3h1v1h-1zM7 7h1v1h-1z"/>
<path fill="#c0c0c0" d="M6 7h1v1h-1z"/>
<path fill="#c8c8c8" d="M8 3h1v1h-1zM9 6h1v1h-1zM9 9h1v1h-1z"/>
<path fill="#d0d0d0" d="M5 4h1v1h-1z"/>
<path fill="#d8d8d8" d="M8 6h1v1h-1z"/>
<path fill="#e8e8e8" d="M9 5h1v1h-1z"/>
<path fill="#f0f0f0" d="M7 6h1v1h-1z"/>
<path fill="#ffffff" d="M6 4h1v1h-1z"/>
</g></g>
<line x1="28.50" y1="351.70" x2="28.50" y2="389.40" stroke="#00f0f0" stroke-width="1"/>
<line x1="9.90" y1="370.50" x2="47.60" y2="370.50" stroke="#00f0f0" stroke-width="1"/>
<g filter="url(#bl45)"><g transform="translate(58.95,351.70) scale(3.7700,3.7700)">
<rect x="0" y="0" width="10" height="10" fill="#888888"/>
<path fill="#080808" d="M6 5h1v1h-1zM7 5h1v1h-1z"/>
<path fill="#101010" d="M8 4h1v1h-1z"/>
<path fill="#202020" d="M7 4h1v1h-1z"/>
<path fill="#303030" d="M9 6h1v1h-1z"/>
<path fill="#404040" d="M4 6h1v1h-1zM8 7h1v1h-1zM9 7h1v1h-1z"/>
<path fill="#484848" d="M7 8h1v1h-1z"/>
<path fill="#505050" d="M7 7h1v1h-1z"/>
<path fill="#686868" d="M6 8h1v1h-1zM8 8h1v1h-1zM9 8h1v1h-1z"/>
<path fill="#707070" d="M7 0h1v1h-1z"/>
<path fill="#787878" d="M9 0h1v1h-1zM6 1h1v1h-1zM8 2h1v1h-1zM4 3h1v1h-1zM0 4h1v1h-1zM1 5h1v1h-1zM1 6h1v1h-1zM0 7h1v1h-1zM3 8h1v1h-1zM5 8h1v1h-1zM4 9h1v1h-1z"/>
<path fill="#808080" d="M0 0h1v1h-1zM1 0h1v1h-1zM3 0h1v1h-1zM5 0h1v1h-1zM6 0h1v1h-1zM8 0h1v1h-1zM0 1h1v1h-1zM1 1h1v1h-1zM5 1h1v1h-1zM8 1h1v1h-1zM9 1h1v1h-1zM1 2h1v1h-1zM2 2h1v1h-1zM3 2h1v1h-1zM5 3h1v1h-1zM3 4h1v1h-1zM2 5h1v1h-1zM4 5h1v1h-1zM0 8h1v1h-1zM3 9h1v1h-1zM5 9h1v1h-1zM7 9h1v1h-1z"/>
<path fill="#909090" d="M2 0h1v1h-1zM2 1h1v1h-1zM7 2h1v1h-1zM2 4h1v1h-1zM6 4h1v1h-1zM3 6h1v1h-1zM5 6h1v1h-1zM4 7h1v1h-1zM8 9h1v1h-1z"/>
<path fill="#989898" d="M8 5h1v1h-1zM6 7h1v1h-1zM4 8h1v1h-1z"/>
<path fill="#a0a0a0" d="M9 4h1v1h-1zM5 7h1v1h-1z"/>
<path fill="#a8a8a8" d="M7 3h1v1h-1z"/>
<path fill="#b0b0b0" d="M4 4h1v1h-1zM5 5h1v1h-1z"/>
<path fill="#b8b8b8" d="M6 3h1v1h-1zM8 3h1v1h-1z"/>
<path fill="#c0c0c0" d="M9 9h1v1h-1z"/>
<path fill="#d8d8d8" d="M6 6h1v1h-1z"/>
<path fill="#e0e0e0" d="M7 6h1v1h-1z"/>
<path fill="#f0f0f0" d="M5 4h1v1h-1z"/>
<path fill="#f8f8f8" d="M9 5h1v1h-1z"/>
</g></g>
<line x1="77.50" y1="351.70" x2="77.50" y2="389.40" stroke="#00f0f0" stroke-width="1"/>
<line x1="58.95" y1="370.50" x2="96.65" y2="370.50" stroke="#00f0f0" stroke-width="1"/>
<g filter="url(#bl45)"><g transform="translate(108.00,351.70) scale(3.7700,3.7700)">
<rect x="0" y="0" width="10" height="10" fill="#888888"/>
<path fill="#080808" d="M9 4h1v1h-1z"/>
<path fill="#101010" d="M7 5h1v1h-1z"/>
<path fill="#181818" d="M8 4h1v1h-1zM6 5h1v1h-1zM5 6h1v1h-1z"/>
<path fill="#303030" d="M8 5h1v1h-1z"/>
<path fill="#383838" d="M9 7h1v1h-1z"/>
<path fill="#585858" d="M4 6h1v1h-1z"/>
<path fill="#707070" d="M6 6h1v1h-1zM1 7h1v1h-1z"/>
<path fill="#787878" d="M2 0h1v1h-1zM6 0h1v1h-1zM8 0h1v1h-1zM4 1h1v1h-1zM3 3h1v1h-1zM5 3h1v1h-1zM2 6h1v1h-1zM8 9h1v1h-1z"/>
<path fill="#808080" d="M3 0h1v1h-1zM7 0h1v1h-1zM9 0h1v1h-1zM0 1h1v1h-1zM1 1h1v1h-1zM6 1h1v1h-1zM0 2h1v1h-1zM1 2h1v1h-1zM2 2h1v1h-1zM4 2h1v1h-1zM6 2h1v1h-1zM8 2h1v1h-1zM1 3h1v1h-1zM2 3h1v1h-1zM4 3h1v1h-1zM2 4h1v1h-1zM1 5h1v1h-1zM2 5h1v1h-1zM0 6h1v1h-1zM3 7h1v1h-1zM5 7h1v1h-1zM0 8h1v1h-1zM1 8h1v1h-1zM2 8h1v1h-1zM4 8h1v1h-1zM5 8h1v1h-1zM2 9h1v1h-1z"/>
<path fill="#909090" d="M5 0h1v1h-1zM3 1h1v1h-1zM5 1h1v1h-1zM9 1h1v1h-1zM1 4h1v1h-1zM3 5h1v1h-1zM6 8h1v1h-1zM7 8h1v1h-1zM1 9h1v1h-1z"/>
<path fill="#989898" d="M8 3h1v1h-1zM9 3h1v1h-1zM8 7h1v1h-1z"/>
<path fill="#a0a0a0" d="M7 3h1v1h-1z"/>
<path fill="#a8a8a8" d="M7 4h1v1h-1z"/>
<path fill="#b8b8b8" d="M9 9h1v1h-1z"/>
<path fill="#c0c0c0" d="M5 5h1v1h-1z"/>
<path fill="#c8c8c8" d="M5 4h1v1h-1zM6 7h1v1h-1z"/>
<path fill="#d0d0d0" d="M7 6h1v1h-1zM7 7h1v1h-1z"/>
<path fill="#d8d8d8" d="M9 6h1v1h-1z"/>
<path fill="#e0e0e0" d="M6 4h1v1h-1zM8 6h1v1h-1z"/>
<path fill="#e8e8e8" d="M9 5h1v1h-1z"/>
</g></g>
<line x1="126.50" y1="351.70" x2="126.50" y2="389.40" stroke="#00f0f0" stroke-width="1"/>
<line x1="108.00" y1="370.50" x2="145.70" y2="370.50" stroke="#00f0f0" stroke-width="1"/>
<g filter="url(#bl45)"><g transform="translate(157.05,351.70) scale(3.7700,3.7700)">
<rect x="0" y="0" width="10" height="10" fill="#888888"/>
<path fill="#000000" d="M9 5h1v1h-1z"/>
<path fill="#000000" d="M6 5h1v1h-1z"/>
<path fill="#101010" d="M5 6h1v1h-1z"/>
<path fill="#181818" d="M6 6h1v1h-1z"/>
<path fill="#202020" d="M7 5h1v1h-1zM8 5h1v1h-1z"/>
<path fill="#383838" d="M5 7h1v1h-1z"/>
<path fill="#484848" d="M6 3h1v1h-1z"/>
<path fill="#505050" d="M7 3h1v1h-1z"/>
<path fill="#606060" d="M8 7h1v1h-1z"/>
<path fill="#686868" d="M9 7h1v1h-1z"/>
<path fill="#707070" d="M8 8h1v1h-1zM9 8h1v1h-1z"/>
<path fill="#787878" d="M0 0h1v1h-1zM2 0h1v1h-1zM5 0h1v1h-1zM1 6h1v1h-1zM0 7h1v1h-1zM4 7h1v1h-1zM6 7h1v1h-1zM6 8h1v1h-1z"/>
<path fill="#808080" d="M3 0h1v1h-1zM3 1h1v1h-1zM7 1h1v1h-1zM9 1h1v1h-1zM8 2h1v1h-1zM9 2h1v1h-1zM2 3h1v1h-1zM3 3h1v1h-1zM4 3h1v1h-1zM8 3h1v1h-1zM1 4h1v1h-1zM2 4h1v1h-1zM1 5h1v1h-1zM2 5h1v1h-1zM4 6h1v1h-1zM1 7h1v1h-1zM3 7h1v1h-1zM1 8h1v1h-1zM2 8h1v1h-1zM3 8h1v1h-1zM4 8h1v1h-1zM7 8h1v1h-1zM0 9h1v1h-1zM2 9h1v1h-1zM3 9h1v1h-1zM5 9h1v1h-1zM6 9h1v1h-1zM7 9h1v1h-1z"/>
<path fill="#909090" d="M6 0h1v1h-1zM5 2h1v1h-1zM2 6h1v1h-1zM3 6h1v1h-1zM2 7h1v1h-1zM5 8h1v1h-1z"/>
<path fill="#989898" d="M5 4h1v1h-1zM7 7h1v1h-1z"/>
<path fill="#b8b8b8" d="M9 4h1v1h-1z"/>
<path fill="#c0c0c0" d="M8 4h1v1h-1z"/>
<path fill="#c8c8c8" d="M9 6h1v1h-1z"/>
<path fill="#d0d0d0" d="M5 5h1v1h-1z"/>
<path fill="#d8d8d8" d="M7 4h1v1h-1zM7 6h1v1h-1z"/>
<path fill="#f0f0f0" d="M8 6h1v1h-1z"/>
<path fill="#ffffff" d="M6 4h1v1h-1z"/>
</g></g>
<line x1="175.50" y1="351.70" x2="175.50" y2="389.40" stroke="#00f0f0" stroke-width="1"/>
<line x1="157.05" y1="370.50" x2="194.75" y2="370.50" stroke="#00f0f0" stroke-width="1"/>
<g filter="url(#bl45)"><g transform="translate(206.10,351.70) scale(3.7700,3.7700)">
<rect x="0" y="0" width="10" height="10" fill="#888888"/>
<path fill="#101010" d="M8 5h1v1h-1zM7 6h1v1h-1z"/>
<path fill="#202020" d="M7 5h1v1h-1zM6 6h1v1h-1z"/>
<path fill="#404040" d="M6 3h1v1h-1z"/>
<path fill="#484848" d="M5 6h1v1h-1z"/>
<path fill="#585858" d="M7 3h1v1h-1zM6 4h1v1h-1z"/>
<path fill="#606060" d="M5 7h1v1h-1z"/>
<path fill="#707070" d="M5 0h1v1h-1zM5 3h1v1h-1z"/>
<path fill="#787878" d="M3 0h1v1h-1zM4 0h1v1h-1zM1 1h1v1h-1zM2 1h1v1h-1zM4 2h1v1h-1zM9 2h1v1h-1zM2 3h1v1h-1zM4 3h1v1h-1zM4 4h1v1h-1zM4 5h1v1h-1zM0 7h1v1h-1zM4 7h1v1h-1z"/>
<path fill="#808080" d="M0 0h1v1h-1zM2 0h1v1h-1zM3 1h1v1h-1zM4 1h1v1h-1zM6 1h1v1h-1zM7 1h1v1h-1zM2 2h1v1h-1zM3 2h1v1h-1zM5 2h1v1h-1zM6 2h1v1h-1zM8 2h1v1h-1zM1 3h1v1h-1zM3 3h1v1h-1zM2 4h1v1h-1zM5 4h1v1h-1zM1 5h1v1h-1zM2 5h1v1h-1zM0 6h1v1h-1zM3 6h1v1h-1zM4 6h1v1h-1zM1 7h1v1h-1zM2 7h1v1h-1zM3 8h1v1h-1zM1 9h1v1h-1zM6 9h1v1h-1zM7 9h1v1h-1zM9 9h1v1h-1z"/>
<path fill="#909090" d="M3 4h1v1h-1zM0 5h1v1h-1zM2 8h1v1h-1zM4 8h1v1h-1zM3 9h1v1h-1zM8 9h1v1h-1z"/>
<path fill="#989898" d="M9 3h1v1h-1zM6 7h1v1h-1zM8 8h1v1h-1z"/>
<path fill="#a0a0a0" d="M6 8h1v1h-1z"/>
<path fill="#c0c0c0" d="M8 4h1v1h-1zM9 4h1v1h-1zM9 5h1v1h-1z"/>
<path fill="#d0d0d0" d="M8 7h1v1h-1zM9 7h1v1h-1z"/>
<path fill="#e8e8e8" d="M7 4h1v1h-1zM9 6h1v1h-1z"/>
<path fill="#f0f0f0" d="M8 6h1v1h-1z"/>
<path fill="#ffffff" d="M6 5h1v1h-1zM7 7h1v1h-1z"/>
<path fill="#ffffff" d="M5 5h1v1h-1z"/>
</g></g>
<line x1="224.50" y1="351.70" x2="224.50" y2="389.40" stroke="#00f0f0" stroke-width="1"/>
<line x1="206.10" y1="370.50" x2="243.80" y2="370.50" stroke="#00f0f0" stroke-width="1"/>
<g filter="url(#bl45)"><g transform="translate(255.15,351.70) scale(3.7700,3.7700)">
<rect x="0" y="0" width="10" height="10" fill="#808080"/>
<path fill="#101010" d="M7 4h1v1h-1zM6 5h1v1h-1zM9 6h1v1h-1z"/>
<path fill="#181818" d="M8 4h1v1h-1zM9 4h1v1h-1z"/>
<path fill="#282828" d="M9 7h1v1h-1z"/>
<path fill="#383838" d="M6 4h1v1h-1zM7 5h1v1h-1z"/>
<path fill="#404040" d="M7 8h1v1h-1z"/>
<path fill="#505050" d="M6 8h1v1h-1zM8 8h1v1h-1z"/>
<path fill="#585858" d="M8 6h1v1h-1z"/>
<path fill="#606060" d="M6 7h1v1h-1z"/>
<path fill="#707070" d="M8 7h1v1h-1z"/>
<path fill="#787878" d="M0 0h1v1h-1zM4 0h1v1h-1zM2 2h1v1h-1zM4 2h1v1h-1zM5 2h1v1h-1zM4 3h1v1h-1zM6 3h1v1h-1zM3 6h1v1h-1zM4 6h1v1h-1zM0 7h1v1h-1zM4 9h1v1h-1zM6 9h1v1h-1zM7 9h1v1h-1z"/>
<path fill="#888888" d="M2 0h1v1h-1zM6 0h1v1h-1zM7 0h1v1h-1zM8 0h1v1h-1zM9 0h1v1h-1zM4 1h1v1h-1zM7 1h1v1h-1zM8 1h1v1h-1zM1 2h1v1h-1zM6 2h1v1h-1zM8 2h1v1h-1zM0 3h1v1h-1zM2 3h1v1h-1zM3 3h1v1h-1zM8 3h1v1h-1zM0 4h1v1h-1zM2 4h1v1h-1zM3 4h1v1h-1zM3 5h1v1h-1zM0 6h1v1h-1zM1 7h1v1h-1zM2 7h1v1h-1zM5 7h1v1h-1zM7 7h1v1h-1zM1 8h1v1h-1zM5 8h1v1h-1zM0 9h1v1h-1zM5 9h1v1h-1zM8 9h1v1h-1z"/>
<path fill="#909090" d="M5 1h1v1h-1zM3 2h1v1h-1zM1 4h1v1h-1zM2 5h1v1h-1zM4 5h1v1h-1zM0 8h1v1h-1zM3 8h1v1h-1zM4 8h1v1h-1zM1 9h1v1h-1zM3 9h1v1h-1z"/>
<path fill="#b0b0b0" d="M5 6h1v1h-1z"/>
<path fill="#b8b8b8" d="M9 8h1v1h-1z"/>
<path fill="#c8c8c8" d="M8 5h1v1h-1z"/>
<path fill="#e8e8e8" d="M7 6h1v1h-1z"/>
<path fill="#f0f0f0" d="M9 5h1v1h-1z"/>
<path fill="#f8f8f8" d="M6 6h1v1h-1z"/>
</g></g>
<line x1="274.50" y1="351.70" x2="274.50" y2="389.40" stroke="#00f0f0" stroke-width="1"/>
<line x1="255.15" y1="370.50" x2="292.85" y2="370.50" stroke="#00f0f0" stroke-width="1"/>
<g filter="url(#bl45)"><g transform="translate(304.20,351.70) scale(3.7700,3.7700)">
<rect x="0" y="0" width="10" height="10" fill="#888888"/>
<path fill="#080808" d="M9 4h1v1h-1zM7 5h1v1h-1z"/>
<path fill="#181818" d="M8 4h1v1h-1zM6 5h1v1h-1zM5 6h1v1h-1z"/>
<path fill="#303030" d="M8 5h1v1h-1z"/>
<path fill="#383838" d="M9 7h1v1h-1z"/>
<path fill="#505050" d="M4 6h1v1h-1z"/>
<path fill="#686868" d="M6 8h1v1h-1z"/>
<path fill="#787878" d="M1 0h1v1h-1zM9 0h1v1h-1zM0 2h1v1h-1zM1 3h1v1h-1zM0 5h1v1h-1zM3 8h1v1h-1zM8 8h1v1h-1zM1 9h1v1h-1zM2 9h1v1h-1zM3 9h1v1h-1z"/>
<path fill="#808080" d="M0 1h1v1h-1zM1 1h1v1h-1zM2 1h1v1h-1zM3 1h1v1h-1zM4 1h1v1h-1zM6 1h1v1h-1zM7 1h1v1h-1zM1 2h1v1h-1zM5 2h1v1h-1zM9 2h1v1h-1zM3 3h1v1h-1zM4 4h1v1h-1zM2 5h1v1h-1zM3 5h1v1h-1zM4 5h1v1h-1zM3 6h1v1h-1zM1 7h1v1h-1zM4 8h1v1h-1zM7 8h1v1h-1zM5 9h1v1h-1zM7 9h1v1h-1z"/>
<path fill="#909090" d="M2 0h1v1h-1zM4 0h1v1h-1zM5 0h1v1h-1zM7 2h1v1h-1zM3 4h1v1h-1zM2 6h1v1h-1zM4 7h1v1h-1zM8 7h1v1h-1z"/>
<path fill="#989898" d="M2 2h1v1h-1z"/>
<path fill="#a0a0a0" d="M7 3h1v1h-1zM5 7h1v1h-1z"/>
<path fill="#b0b0b0" d="M9 3h1v1h-1zM9 9h1v1h-1z"/>
<path fill="#b8b8b8" d="M8 3h1v1h-1zM5 4h1v1h-1zM7 4h1v1h-1z"/>
<path fill="#c0c0c0" d="M5 5h1v1h-1zM9 6h1v1h-1z"/>
<path fill="#d0d0d0" d="M6 7h1v1h-1z"/>
<path fill="#e0e0e0" d="M7 7h1v1h-1z"/>
<path fill="#e8e8e8" d="M7 6h1v1h-1z"/>
<path fill="#f8f8f8" d="M9 5h1v1h-1zM8 6h1v1h-1z"/>
<path fill="#ffffff" d="M6 4h1v1h-1z"/>
</g></g>
<line x1="323.50" y1="351.70" x2="323.50" y2="389.40" stroke="#00f0f0" stroke-width="1"/>
<line x1="304.20" y1="370.50" x2="341.90" y2="370.50" stroke="#00f0f0" stroke-width="1"/>
<g filter="url(#bl45)"><g transform="translate(353.25,351.70) scale(3.7700,3.7700)">
<rect x="0" y="0" width="10" height="10" fill="#888888"/>
<path fill="#000000" d="M6 5h1v1h-1z"/>
<path fill="#000000" d="M9 5h1v1h-1z"/>
<path fill="#080808" d="M8 5h1v1h-1zM6 6h1v1h-1z"/>
<path fill="#101010" d="M7 5h1v1h-1z"/>
<path fill="#181818" d="M5 6h1v1h-1z"/>
<path fill="#202020" d="M6 3h1v1h-1z"/>
<path fill="#484848" d="M5 7h1v1h-1z"/>
<path fill="#505050" d="M7 3h1v1h-1zM8 7h1v1h-1z"/>
<path fill="#585858" d="M8 8h1v1h-1z"/>
<path fill="#606060" d="M6 8h1v1h-1z"/>
<path fill="#686868" d="M9 8h1v1h-1z"/>
<path fill="#787878" d="M3 1h1v1h-1zM8 1h1v1h-1zM2 2h1v1h-1zM4 2h1v1h-1zM9 2h1v1h-1zM1 3h1v1h-1zM8 3h1v1h-1zM1 4h1v1h-1zM4 5h1v1h-1zM5 8h1v1h-1z"/>
<path fill="#808080" d="M0 0h1v1h-1zM1 0h1v1h-1zM3 0h1v1h-1zM5 0h1v1h-1zM9 0h1v1h-1zM2 1h1v1h-1zM9 1h1v1h-1zM6 2h1v1h-1zM7 2h1v1h-1zM8 2h1v1h-1zM0 3h1v1h-1zM2 3h1v1h-1zM4 3h1v1h-1zM3 5h1v1h-1zM0 6h1v1h-1zM2 6h1v1h-1zM1 7h1v1h-1zM6 7h1v1h-1zM0 8h1v1h-1zM2 8h1v1h-1zM7 8h1v1h-1zM0 9h1v1h-1zM6 9h1v1h-1z"/>
<path fill="#909090" d="M5 2h1v1h-1zM2 4h1v1h-1zM0 5h1v1h-1zM2 7h1v1h-1zM1 8h1v1h-1zM4 9h1v1h-1z"/>
<path fill="#a8a8a8" d="M5 4h1v1h-1zM9 7h1v1h-1z"/>
<path fill="#b0b0b0" d="M9 4h1v1h-1z"/>
<path fill="#c0c0c0" d="M7 7h1v1h-1z"/>
<path fill="#c8c8c8" d="M8 4h1v1h-1z"/>
<path fill="#d0d0d0" d="M7 4h1v1h-1z"/>
<path fill="#d8d8d8" d="M5 5h1v1h-1z"/>
<path fill="#e8e8e8" d="M9 6h1v1h-1z"/>
<path fill="#f8f8f8" d="M7 6h1v1h-1z"/>
<path fill="#ffffff" d="M8 6h1v1h-1z"/>
<path fill="#ffffff" d="M6 4h1v1h-1z"/>
</g></g>
<line x1="372.50" y1="351.70" x2="372.50" y2="389.40" stroke="#00f0f0" stroke-width="1"/>
<line x1="353.25" y1="370.50" x2="390.95" y2="370.50" stroke="#00f0f0" stroke-width="1"/>
<g filter="url(#bl45)"><g transform="translate(402.30,351.70) scale(3.7700,3.7700)">
<rect x="0" y="0" width="10" height="10" fill="#808080"/>
<path fill="#000000" d="M6 5h1v1h-1z"/>
<path fill="#080808" d="M8 4h1v1h-1zM9 6h1v1h-1z"/>
<path fill="#101010" d="M9 7h1v1h-1z"/>
<path fill="#282828" d="M7 4h1v1h-1zM9 4h1v1h-1z"/>
<path fill="#484848" d="M6 4h1v1h-1zM8 8h1v1h-1z"/>
<path fill="#505050" d="M7 5h1v1h-1z"/>
<path fill="#585858" d="M6 7h1v1h-1z"/>
<path fill="#606060" d="M7 8h1v1h-1z"/>
<path fill="#686868" d="M8 6h1v1h-1z"/>
<path fill="#707070" d="M0 5h1v1h-1zM2 5h1v1h-1zM8 7h1v1h-1z"/>
<path fill="#787878" d="M2 0h1v1h-1zM7 0h1v1h-1zM2 1h1v1h-1zM1 3h1v1h-1zM7 3h1v1h-1zM2 6h1v1h-1zM3 7h1v1h-1zM3 8h1v1h-1zM5 8h1v1h-1zM6 8h1v1h-1z"/>
<path fill="#888888" d="M3 0h1v1h-1zM6 0h1v1h-1zM8 0h1v1h-1zM9 0h1v1h-1zM9 1h1v1h-1zM1 2h1v1h-1zM2 2h1v1h-1zM5 2h1v1h-1zM6 2h1v1h-1zM8 2h1v1h-1zM9 2h1v1h-1zM0 3h1v1h-1zM2 3h1v1h-1zM6 3h1v1h-1zM2 4h1v1h-1zM4 5h1v1h-1zM0 6h1v1h-1zM1 6h1v1h-1zM1 7h1v1h-1zM2 7h1v1h-1zM0 8h1v1h-1zM1 8h1v1h-1zM2 8h1v1h-1zM4 8h1v1h-1zM0 9h1v1h-1zM4 9h1v1h-1z"/>
<path fill="#909090" d="M5 0h1v1h-1zM7 1h1v1h-1zM3 3h1v1h-1zM5 3h1v1h-1zM1 5h1v1h-1zM3 6h1v1h-1zM2 9h1v1h-1z"/>
<path fill="#989898" d="M4 7h1v1h-1z"/>
<path fill="#a0a0a0" d="M7 7h1v1h-1z"/>
<path fill="#c8c8c8" d="M8 5h1v1h-1zM5 6h1v1h-1zM7 6h1v1h-1zM9 8h1v1h-1z"/>
<path fill="#f0f0f0" d="M9 5h1v1h-1zM6 6h1v1h-1z"/>
</g></g>
<line x1="421.50" y1="351.70" x2="421.50" y2="389.40" stroke="#00f0f0" stroke-width="1"/>
<line x1="402.30" y1="370.50" x2="440.00" y2="370.50" stroke="#00f0f0" stroke-width="1"/>
<g filter="url(#bl45)"><g transform="translate(451.35,351.70) scale(3.7700,3.7700)">
<rect x="0" y="0" width="10" height="10" fill="#808080"/>
<path fill="#080808" d="M7 4h1v1h-1z"/>
<path fill="#101010" d="M8 4h1v1h-1zM6 5h1v1h-1z"/>
<path fill="#181818" d="M9 6h1v1h-1z"/>
<path fill="#303030" d="M7 5h1v1h-1z"/>
<path fill="#404040" d="M9 7h1v1h-1z"/>
<path fill="#505050" d="M4 6h1v1h-1z"/>
<path fill="#585858" d="M7 7h1v1h-1z"/>
<path fill="#606060" d="M8 7h1v1h-1zM9 8h1v1h-1z"/>
<path fill="#707070" d="M8 8h1v1h-1z"/>
<path fill="#787878" d="M1 1h1v1h-1zM3 1h1v1h-1zM3 2h1v1h-1zM4 3h1v1h-1zM9 3h1v1h-1zM0 7h1v1h-1zM3 8h1v1h-1zM6 8h1v1h-1zM7 8h1v1h-1zM2 9h1v1h-1z"/>
<path fill="#888888" d="M0 0h1v1h-1zM3 0h1v1h-1zM5 0h1v1h-1zM6 1h1v1h-1zM7 1h1v1h-1zM8 1h1v1h-1zM9 1h1v1h-1zM0 2h1v1h-1zM5 2h1v1h-1zM7 2h1v1h-1zM8 2h1v1h-1zM1 3h1v1h-1zM1 5h1v1h-1zM3 5h1v1h-1zM4 5h1v1h-1zM2 6h1v1h-1zM4 9h1v1h-1zM5 9h1v1h-1zM7 9h1v1h-1z"/>
<path fill="#909090" d="M2 0h1v1h-1zM7 0h1v1h-1zM9 0h1v1h-1zM2 1h1v1h-1zM5 1h1v1h-1zM4 2h1v1h-1zM6 2h1v1h-1zM1 4h1v1h-1zM6 4h1v1h-1zM8 6h1v1h-1zM1 7h1v1h-1zM3 7h1v1h-1zM5 7h1v1h-1zM3 9h1v1h-1zM6 9h1v1h-1z"/>
<path fill="#989898" d="M0 1h1v1h-1zM8 3h1v1h-1zM2 5h1v1h-1zM8 5h1v1h-1z"/>
<path fill="#a0a0a0" d="M6 3h1v1h-1zM5 6h1v1h-1zM6 7h1v1h-1z"/>
<path fill="#b0b0b0" d="M7 3h1v1h-1zM5 5h1v1h-1z"/>
<path fill="#c0c0c0" d="M4 4h1v1h-1zM9 9h1v1h-1z"/>
<path fill="#d8d8d8" d="M6 6h1v1h-1z"/>
<path fill="#e0e0e0" d="M7 6h1v1h-1z"/>
<path fill="#f0f0f0" d="M5 4h1v1h-1z"/>
<path fill="#f8f8f8" d="M9 5h1v1h-1z"/>
</g></g>
<line x1="470.50" y1="351.70" x2="470.50" y2="389.40" stroke="#00f0f0" stroke-width="1"/>
<line x1="451.35" y1="370.50" x2="489.05" y2="370.50" stroke="#00f0f0" stroke-width="1"/>
<g filter="url(#bl45)"><g transform="translate(9.90,394.70) scale(3.7700,3.7700)">
<rect x="0" y="0" width="10" height="10" fill="#888888"/>
<path fill="#080808" d="M9 5h1v1h-1z"/>
<path fill="#181818" d="M6 5h1v1h-1zM5 6h1v1h-1z"/>
<path fill="#202020" d="M8 5h1v1h-1z"/>
<path fill="#282828" d="M6 6h1v1h-1z"/>
<path fill="#303030" d="M7 5h1v1h-1z"/>
<path fill="#404040" d="M6 3h1v1h-1z"/>
<path fill="#484848" d="M8 7h1v1h-1z"/>
<path fill="#505050" d="M7 3h1v1h-1z"/>
<path fill="#606060" d="M6 8h1v1h-1zM9 8h1v1h-1z"/>
<path fill="#686868" d="M5 7h1v1h-1zM6 7h1v1h-1zM7 8h1v1h-1zM8 8h1v1h-1z"/>
<path fill="#787878" d="M3 0h1v1h-1zM4 0h1v1h-1zM0 2h1v1h-1zM3 2h1v1h-1zM1 3h1v1h-1zM2 3h1v1h-1zM5 3h1v1h-1zM4 4h1v1h-1zM3 6h1v1h-1zM0 9h1v1h-1z"/>
<path fill="#808080" d="M9 0h1v1h-1zM4 1h1v1h-1zM5 1h1v1h-1zM1 2h1v1h-1zM0 3h1v1h-1zM8 3h1v1h-1zM1 4h1v1h-1zM3 4h1v1h-1zM0 5h1v1h-1zM0 7h1v1h-1zM2 7h1v1h-1zM7 7h1v1h-1zM1 8h1v1h-1zM5 8h1v1h-1zM3 9h1v1h-1zM4 9h1v1h-1zM6 9h1v1h-1zM7 9h1v1h-1zM9 9h1v1h-1z"/>
<path fill="#909090" d="M0 0h1v1h-1zM1 0h1v1h-1zM2 0h1v1h-1zM5 0h1v1h-1zM7 0h1v1h-1zM2 1h1v1h-1zM8 2h1v1h-1zM1 5h1v1h-1zM2 5h1v1h-1zM2 9h1v1h-1z"/>
<path fill="#a8a8a8" d="M9 7h1v1h-1z"/>
<path fill="#b8b8b8" d="M5 4h1v1h-1z"/>
<path fill="#c0c0c0" d="M8 4h1v1h-1z"/>
<path fill="#c8c8c8" d="M9 6h1v1h-1z"/>
<path fill="#d0d0d0" d="M9 4h1v1h-1z"/>
<path fill="#e0e0e0" d="M7 4h1v1h-1zM5 5h1v1h-1zM7 6h1v1h-1z"/>
<path fill="#e8e8e8" d="M6 4h1v1h-1z"/>
<path fill="#ffffff" d="M8 6h1v1h-1z"/>
</g></g>
<line x1="28.50" y1="394.70" x2="28.50" y2="432.40" stroke="#00f0f0" stroke-width="1"/>
<line x1="9.90" y1="413.50" x2="47.60" y2="413.50" stroke="#00f0f0" stroke-width="1"/>
<g filter="url(#bl45)"><g transform="translate(58.95,394.70) scale(3.7700,3.7700)">
<rect x="0" y="0" width="10" height="10" fill="#808080"/>
<path fill="#000000" d="M7 5h1v1h-1z"/>
<path fill="#080808" d="M6 5h1v1h-1z"/>
<path fill="#101010" d="M9 4h1v1h-1z"/>
<path fill="#181818" d="M8 4h1v1h-1zM8 5h1v1h-1z"/>
<path fill="#404040" d="M5 6h1v1h-1zM9 7h1v1h-1z"/>
<path fill="#686868" d="M4 6h1v1h-1zM8 8h1v1h-1z"/>
<path fill="#707070" d="M3 1h1v1h-1z"/>
<path fill="#787878" d="M4 1h1v1h-1zM5 1h1v1h-1zM2 2h1v1h-1zM3 2h1v1h-1zM8 2h1v1h-1zM0 3h1v1h-1zM5 3h1v1h-1zM1 4h1v1h-1zM2 6h1v1h-1zM1 9h1v1h-1z"/>
<path fill="#888888" d="M0 0h1v1h-1zM1 0h1v1h-1zM5 0h1v1h-1zM6 0h1v1h-1zM9 0h1v1h-1zM9 1h1v1h-1zM6 2h1v1h-1zM7 2h1v1h-1zM9 2h1v1h-1zM1 5h1v1h-1zM2 5h1v1h-1zM3 5h1v1h-1zM3 6h1v1h-1zM0 7h1v1h-1zM3 7h1v1h-1zM5 7h1v1h-1zM3 8h1v1h-1zM5 8h1v1h-1zM6 8h1v1h-1zM7 8h1v1h-1zM9 8h1v1h-1zM7 9h1v1h-1z"/>
<path fill="#909090" d="M4 0h1v1h-1zM7 0h1v1h-1zM0 1h1v1h-1zM2 1h1v1h-1zM0 4h1v1h-1zM3 4h1v1h-1zM6 6h1v1h-1zM0 8h1v1h-1zM4 8h1v1h-1zM6 9h1v1h-1z"/>
<path fill="#a0a0a0" d="M8 3h1v1h-1zM7 4h1v1h-1z"/>
<path fill="#b0b0b0" d="M9 3h1v1h-1zM5 5h1v1h-1z"/>
<path fill="#b8b8b8" d="M7 3h1v1h-1zM9 9h1v1h-1z"/>
<path fill="#c0c0c0" d="M9 6h1v1h-1z"/>
<path fill="#d0d0d0" d="M8 6h1v1h-1zM6 7h1v1h-1z"/>
<path fill="#d8d8d8" d="M5 4h1v1h-1z"/>
<path fill="#e8e8e8" d="M7 7h1v1h-1z"/>
<path fill="#f0f0f0" d="M6 4h1v1h-1zM7 6h1v1h-1z"/>
<path fill="#ffffff" d="M9 5h1v1h-1z"/>
</g></g>
<line x1="77.50" y1="394.70" x2="77.50" y2="432.40" stroke="#00f0f0" stroke-width="1"/>
<line x1="58.95" y1="413.50" x2="96.65" y2="413.50" stroke="#00f0f0" stroke-width="1"/>
<g filter="url(#bl45)"><g transform="translate(108.00,394.70) scale(3.7700,3.7700)">
<rect x="0" y="0" width="10" height="10" fill="#888888"/>
<path fill="#000000" d="M7 4h1v1h-1z"/>
<path fill="#101010" d="M6 5h1v1h-1z"/>
<path fill="#181818" d="M8 4h1v1h-1z"/>
<path fill="#202020" d="M7 5h1v1h-1z"/>
<path fill="#404040" d="M7 7h1v1h-1z"/>
<path fill="#484848" d="M9 6h1v1h-1zM8 7h1v1h-1zM9 7h1v1h-1zM7 8h1v1h-1z"/>
<path fill="#505050" d="M6 8h1v1h-1z"/>
<path fill="#585858" d="M9 8h1v1h-1z"/>
<path fill="#606060" d="M4 6h1v1h-1zM8 8h1v1h-1z"/>
<path fill="#787878" d="M0 0h1v1h-1zM5 0h1v1h-1zM0 2h1v1h-1zM7 2h1v1h-1zM1 8h1v1h-1z"/>
<path fill="#808080" d="M1 0h1v1h-1zM3 0h1v1h-1zM4 0h1v1h-1zM6 0h1v1h-1zM9 0h1v1h-1zM3 1h1v1h-1zM5 1h1v1h-1zM6 1h1v1h-1zM7 1h1v1h-1zM8 1h1v1h-1zM3 2h1v1h-1zM4 2h1v1h-1zM5 2h1v1h-1zM9 2h1v1h-1zM1 3h1v1h-1zM3 3h1v1h-1zM5 3h1v1h-1zM0 4h1v1h-1zM0 6h1v1h-1zM2 6h1v1h-1zM2 7h1v1h-1zM3 7h1v1h-1zM4 7h1v1h-1zM2 8h1v1h-1zM4 8h1v1h-1zM8 9h1v1h-1z"/>
<path fill="#909090" d="M2 0h1v1h-1zM7 0h1v1h-1zM6 2h1v1h-1zM0 3h1v1h-1zM2 3h1v1h-1zM9 3h1v1h-1zM2 4h1v1h-1zM6 4h1v1h-1zM1 6h1v1h-1zM5 7h1v1h-1zM0 8h1v1h-1z"/>
<path fill="#989898" d="M2 2h1v1h-1zM1 4h1v1h-1zM5 6h1v1h-1z"/>
<path fill="#a0a0a0" d="M4 4h1v1h-1zM8 5h1v1h-1zM8 6h1v1h-1z"/>
<path fill="#a8a8a8" d="M8 3h1v1h-1zM5 5h1v1h-1z"/>
<path fill="#b0b0b0" d="M6 7h1v1h-1zM9 9h1v1h-1z"/>
<path fill="#c0c0c0" d="M6 3h1v1h-1zM7 3h1v1h-1z"/>
<path fill="#d0d0d0" d="M7 6h1v1h-1z"/>
<path fill="#f0f0f0" d="M9 5h1v1h-1z"/>
<path fill="#f8f8f8" d="M5 4h1v1h-1z"/>
<path fill="#ffffff" d="M6 6h1v1h-1z"/>
</g></g>
<line x1="126.50" y1="394.70" x2="126.50" y2="432.40" stroke="#00f0f0" stroke-width="1"/>
<line x1="108.00" y1="413.50" x2="145.70" y2="413.50" stroke="#00f0f0" stroke-width="1"/>
<g filter="url(#bl45)"><g transform="translate(157.05,394.70) scale(3.7700,3.7700)">
<rect x="0" y="0" width="10" height="10" fill="#808080"/>
<path fill="#080808" d="M7 5h1v1h-1z"/>
<path fill="#101010" d="M8 4h1v1h-1z"/>
<path fill="#202020" d="M9 4h1v1h-1zM5 6h1v1h-1z"/>
<path fill="#282828" d="M6 5h1v1h-1zM8 5h1v1h-1z"/>
<path fill="#484848" d="M9 7h1v1h-1z"/>
<path fill="#606060" d="M4 6h1v1h-1zM7 8h1v1h-1zM9 8h1v1h-1z"/>
<path fill="#686868" d="M8 8h1v1h-1z"/>
<path fill="#787878" d="M1 0h1v1h-1zM6 1h1v1h-1zM3 4h1v1h-1zM0 6h1v1h-1zM2 6h1v1h-1zM2 8h1v1h-1zM4 8h1v1h-1z"/>
<path fill="#888888" d="M2 0h1v1h-1zM4 0h1v1h-1zM0 1h1v1h-1zM5 1h1v1h-1zM7 1h1v1h-1zM8 1h1v1h-1zM0 2h1v1h-1zM1 2h1v1h-1zM7 2h1v1h-1zM8 2h1v1h-1zM0 3h1v1h-1zM1 3h1v1h-1zM4 3h1v1h-1zM1 4h1v1h-1zM0 5h1v1h-1zM1 6h1v1h-1zM3 7h1v1h-1zM4 7h1v1h-1zM0 8h1v1h-1zM3 8h1v1h-1zM1 9h1v1h-1zM6 9h1v1h-1zM8 9h1v1h-1z"/>
<path fill="#909090" d="M3 0h1v1h-1zM9 2h1v1h-1zM3 3h1v1h-1zM9 3h1v1h-1zM0 4h1v1h-1zM5 7h1v1h-1z"/>
<path fill="#989898" d="M6 6h1v1h-1z"/>
<path fill="#a0a0a0" d="M7 3h1v1h-1z"/>
<path fill="#a8a8a8" d="M8 7h1v1h-1z"/>
<path fill="#b8b8b8" d="M7 4h1v1h-1zM5 5h1v1h-1z"/>
<path fill="#c0c0c0" d="M8 6h1v1h-1z"/>
<path fill="#c8c8c8" d="M8 3h1v1h-1zM5 4h1v1h-1zM9 6h1v1h-1zM9 9h1v1h-1z"/>
<path fill="#d0d0d0" d="M9 5h1v1h-1z"/>
<path fill="#e0e0e0" d="M6 7h1v1h-1zM7 7h1v1h-1z"/>
<path fill="#e8e8e8" d="M6 4h1v1h-1z"/>
<path fill="#f0f0f0" d="M7 6h1v1h-1z"/>
</g></g>
<line x1="175.50" y1="394.70" x2="175.50" y2="432.40" stroke="#00f0f0" stroke-width="1"/>
<line x1="157.05" y1="413.50" x2="194.75" y2="413.50" stroke="#00f0f0" stroke-width="1"/>
<g filter="url(#bl45)"><g transform="translate(206.10,394.70) scale(3.7700,3.7700)">
<rect x="0" y="0" width="10" height="10" fill="#808080"/>
<path fill="#000000" d="M8 5h1v1h-1z"/>
<path fill="#101010" d="M7 5h1v1h-1z"/>
<path fill="#202020" d="M7 6h1v1h-1z"/>
<path fill="#282828" d="M6 6h1v1h-1z"/>
<path fill="#303030" d="M5 6h1v1h-1z"/>
<path fill="#505050" d="M6 3h1v1h-1zM7 3h1v1h-1z"/>
<path fill="#606060" d="M5 7h1v1h-1z"/>
<path fill="#707070" d="M2 5h1v1h-1zM8 8h1v1h-1z"/>
<path fill="#787878" d="M1 0h1v1h-1zM6 0h1v1h-1zM7 0h1v1h-1zM4 1h1v1h-1zM5 1h1v1h-1zM6 2h1v1h-1zM8 2h1v1h-1zM6 4h1v1h-1zM1 7h1v1h-1zM4 8h1v1h-1zM9 8h1v1h-1zM0 9h1v1h-1z"/>
<path fill="#888888" d="M2 0h1v1h-1zM0 1h1v1h-1zM2 1h1v1h-1zM9 1h1v1h-1zM1 2h1v1h-1zM2 2h1v1h-1zM3 2h1v1h-1zM4 2h1v1h-1zM5 2h1v1h-1zM3 4h1v1h-1zM5 4h1v1h-1zM4 5h1v1h-1zM3 6h1v1h-1zM0 7h1v1h-1zM2 7h1v1h-1zM4 7h1v1h-1zM3 8h1v1h-1zM1 9h1v1h-1zM4 9h1v1h-1zM5 9h1v1h-1zM7 9h1v1h-1zM9 9h1v1h-1z"/>
<path fill="#909090" d="M5 0h1v1h-1zM3 1h1v1h-1zM9 2h1v1h-1zM3 3h1v1h-1zM5 3h1v1h-1zM1 5h1v1h-1zM3 5h1v1h-1zM3 7h1v1h-1z"/>
<path fill="#989898" d="M8 3h1v1h-1zM9 3h1v1h-1zM6 7h1v1h-1zM1 8h1v1h-1zM6 8h1v1h-1z"/>
<path fill="#b0b0b0" d="M9 4h1v1h-1z"/>
<path fill="#b8b8b8" d="M9 5h1v1h-1z"/>
<path fill="#c8c8c8" d="M8 4h1v1h-1zM8 6h1v1h-1z"/>
<path fill="#d0d0d0" d="M7 8h1v1h-1z"/>
<path fill="#d8d8d8" d="M7 4h1v1h-1zM5 5h1v1h-1zM8 7h1v1h-1z"/>
<path fill="#e0e0e0" d="M7 7h1v1h-1z"/>
<path fill="#f0f0f0" d="M6 5h1v1h-1zM9 7h1v1h-1z"/>
<path fill="#f8f8f8" d="M9 6h1v1h-1z"/>
</g></g>
<line x1="224.50" y1="394.70" x2="224.50" y2="432.40" stroke="#00f0f0" stroke-width="1"/>
<line x1="206.10" y1="413.50" x2="243.80" y2="413.50" stroke="#00f0f0" stroke-width="1"/>
<g filter="url(#bl45)"><g transform="translate(255.15,394.70) scale(3.7700,3.7700)">
<rect x="0" y="0" width="10" height="10" fill="#888888"/>
<path fill="#101010" d="M9 4h1v1h-1zM7 5h1v1h-1z"/>
<path fill="#181818" d="M8 4h1v1h-1zM5 6h1v1h-1z"/>
<path fill="#202020" d="M6 5h1v1h-1z"/>
<path fill="#282828" d="M8 5h1v1h-1z"/>
<path fill="#383838" d="M9 7h1v1h-1z"/>
<path fill="#585858" d="M4 6h1v1h-1z"/>
<path fill="#707070" d="M1 4h1v1h-1z"/>
<path fill="#787878" d="M5 0h1v1h-1zM4 1h1v1h-1zM7 2h1v1h-1zM9 2h1v1h-1zM3 4h1v1h-1zM3 5h1v1h-1zM0 6h1v1h-1zM2 7h1v1h-1zM4 8h1v1h-1zM6 8h1v1h-1zM1 9h1v1h-1zM8 9h1v1h-1z"/>
<path fill="#808080" d="M0 0h1v1h-1zM1 0h1v1h-1zM2 0h1v1h-1zM1 1h1v1h-1zM5 1h1v1h-1zM2 2h1v1h-1zM4 2h1v1h-1zM5 2h1v1h-1zM6 2h1v1h-1zM1 3h1v1h-1zM5 3h1v1h-1zM0 4h1v1h-1zM4 4h1v1h-1zM0 5h1v1h-1zM1 5h1v1h-1zM4 5h1v1h-1zM1 6h1v1h-1zM2 6h1v1h-1zM3 6h1v1h-1zM3 8h1v1h-1zM5 8h1v1h-1zM9 8h1v1h-1zM0 9h1v1h-1zM3 9h1v1h-1zM4 9h1v1h-1zM7 9h1v1h-1z"/>
<path fill="#909090" d="M4 0h1v1h-1zM9 0h1v1h-1zM3 2h1v1h-1zM2 3h1v1h-1zM4 7h1v1h-1zM8 8h1v1h-1zM5 9h1v1h-1z"/>
<path fill="#989898" d="M9 1h1v1h-1zM6 6h1v1h-1zM5 7h1v1h-1z"/>
<path fill="#a0a0a0" d="M7 4h1v1h-1z"/>
<path fill="#a8a8a8" d="M8 7h1v1h-1zM9 9h1v1h-1z"/>
<path fill="#b0b0b0" d="M8 3h1v1h-1zM5 5h1v1h-1z"/>
<path fill="#b8b8b8" d="M7 3h1v1h-1zM5 4h1v1h-1z"/>
<path fill="#c0c0c0" d="M9 3h1v1h-1zM9 6h1v1h-1z"/>
<path fill="#c8c8c8" d="M6 7h1v1h-1z"/>
<path fill="#d0d0d0" d="M7 6h1v1h-1z"/>
<path fill="#d8d8d8" d="M9 5h1v1h-1zM8 6h1v1h-1z"/>
<path fill="#e0e0e0" d="M7 7h1v1h-1z"/>
<path fill="#e8e8e8" d="M6 4h1v1h-1z"/>
</g></g>
<line x1="274.50" y1="394.70" x2="274.50" y2="432.40" stroke="#00f0f0" stroke-width="1"/>
<line x1="255.15" y1="413.50" x2="292.85" y2="413.50" stroke="#00f0f0" stroke-width="1"/>
<g filter="url(#bl45)"><g transform="translate(304.20,394.70) scale(3.7700,3.7700)">
<rect x="0" y="0" width="10" height="10" fill="#808080"/>
<path fill="#080808" d="M6 6h1v1h-1z"/>
<path fill="#181818" d="M6 5h1v1h-1z"/>
<path fill="#202020" d="M7 5h1v1h-1zM8 5h1v1h-1zM9 5h1v1h-1z"/>
<path fill="#383838" d="M5 7h1v1h-1z"/>
<path fill="#404040" d="M6 3h1v1h-1zM5 6h1v1h-1z"/>
<path fill="#505050" d="M7 3h1v1h-1zM8 7h1v1h-1z"/>
<path fill="#606060" d="M8 8h1v1h-1z"/>
<path fill="#707070" d="M0 1h1v1h-1zM6 8h1v1h-1zM7 8h1v1h-1zM9 8h1v1h-1z"/>
<path fill="#787878" d="M7 0h1v1h-1zM9 0h1v1h-1zM4 1h1v1h-1zM5 1h1v1h-1zM6 1h1v1h-1zM7 1h1v1h-1zM4 2h1v1h-1zM5 2h1v1h-1zM6 2h1v1h-1zM1 4h1v1h-1zM4 6h1v1h-1zM3 7h1v1h-1zM4 7h1v1h-1z"/>
<path fill="#888888" d="M1 0h1v1h-1zM8 0h1v1h-1zM3 1h1v1h-1zM0 2h1v1h-1zM3 2h1v1h-1zM8 2h1v1h-1zM2 3h1v1h-1zM3 3h1v1h-1zM9 3h1v1h-1zM0 4h1v1h-1zM2 4h1v1h-1zM5 4h1v1h-1zM1 5h1v1h-1zM3 5h1v1h-1zM0 6h1v1h-1zM1 6h1v1h-1zM3 6h1v1h-1zM0 7h1v1h-1zM7 7h1v1h-1zM9 7h1v1h-1zM2 8h1v1h-1zM3 8h1v1h-1zM1 9h1v1h-1zM5 9h1v1h-1zM6 9h1v1h-1zM8 9h1v1h-1z"/>
<path fill="#909090" d="M0 0h1v1h-1zM2 0h1v1h-1zM9 1h1v1h-1zM2 2h1v1h-1zM5 3h1v1h-1zM8 3h1v1h-1zM2 5h1v1h-1zM1 7h1v1h-1zM2 9h1v1h-1zM3 9h1v1h-1z"/>
<path fill="#b0b0b0" d="M9 4h1v1h-1z"/>
<path fill="#c8c8c8" d="M9 6h1v1h-1z"/>
<path fill="#d0d0d0" d="M8 4h1v1h-1z"/>
<path fill="#e0e0e0" d="M7 6h1v1h-1z"/>
<path fill="#e8e8e8" d="M6 4h1v1h-1zM8 6h1v1h-1z"/>
<path fill="#f0f0f0" d="M5 5h1v1h-1z"/>
<path fill="#ffffff" d="M7 4h1v1h-1z"/>
</g></g>
<line x1="323.50" y1="394.70" x2="323.50" y2="432.40" stroke="#00f0f0" stroke-width="1"/>
<line x1="304.20" y1="413.50" x2="341.90" y2="413.50" stroke="#00f0f0" stroke-width="1"/>
<g filter="url(#bl45)"><g transform="translate(353.25,394.70) scale(3.7700,3.7700)">
<rect x="0" y="0" width="10" height="10" fill="#888888"/>
<path fill="#000000" d="M8 4h1v1h-1zM6 5h1v1h-1z"/>
<path fill="#080808" d="M7 4h1v1h-1zM7 5h1v1h-1z"/>
<path fill="#383838" d="M9 7h1v1h-1z"/>
<path fill="#505050" d="M9 6h1v1h-1z"/>
<path fill="#585858" d="M4 6h1v1h-1zM7 7h1v1h-1zM9 8h1v1h-1z"/>
<path fill="#606060" d="M7 8h1v1h-1z"/>
<path fill="#686868" d="M8 7h1v1h-1zM8 8h1v1h-1z"/>
<path fill="#707070" d="M6 8h1v1h-1z"/>
<path fill="#787878" d="M4 1h1v1h-1zM8 1h1v1h-1z"/>
<path fill="#808080" d="M1 0h1v1h-1zM3 0h1v1h-1zM8 0h1v1h-1zM9 0h1v1h-1zM0 1h1v1h-1zM2 1h1v1h-1zM3 1h1v1h-1zM5 1h1v1h-1zM0 2h1v1h-1zM1 2h1v1h-1zM2 2h1v1h-1zM4 2h1v1h-1zM5 2h1v1h-1zM8 2h1v1h-1zM9 2h1v1h-1zM0 3h1v1h-1zM1 3h1v1h-1zM2 3h1v1h-1zM3 3h1v1h-1zM5 3h1v1h-1zM9 3h1v1h-1zM1 4h1v1h-1zM2 4h1v1h-1zM2 5h1v1h-1zM3 5h1v1h-1zM0 6h1v1h-1zM2 6h1v1h-1zM3 6h1v1h-1zM3 7h1v1h-1zM4 8h1v1h-1zM0 9h1v1h-1zM3 9h1v1h-1zM4 9h1v1h-1zM5 9h1v1h-1z"/>
<path fill="#909090" d="M4 0h1v1h-1zM5 0h1v1h-1zM7 0h1v1h-1zM9 1h1v1h-1zM4 5h1v1h-1zM1 6h1v1h-1zM8 6h1v1h-1zM0 7h1v1h-1zM4 7h1v1h-1zM1 9h1v1h-1zM8 9h1v1h-1z"/>
<path fill="#989898" d="M5 6h1v1h-1zM5 7h1v1h-1zM9 9h1v1h-1z"/>
<path fill="#a0a0a0" d="M4 4h1v1h-1z"/>
<path fill="#a8a8a8" d="M6 3h1v1h-1zM6 7h1v1h-1z"/>
<path fill="#b0b0b0" d="M8 3h1v1h-1z"/>
<path fill="#b8b8b8" d="M7 3h1v1h-1z"/>
<path fill="#e0e0e0" d="M9 5h1v1h-1z"/>
<path fill="#f0f0f0" d="M6 6h1v1h-1z"/>
<path fill="#f8f8f8" d="M7 6h1v1h-1z"/>
<path fill="#ffffff" d="M5 4h1v1h-1z"/>
</g></g>
<line x1="372.50" y1="394.70" x2="372.50" y2="432.40" stroke="#00f0f0" stroke-width="1"/>
<line x1="353.25" y1="413.50" x2="390.95" y2="413.50" stroke="#00f0f0" stroke-width="1"/>
<g filter="url(#bl45)"><g transform="translate(402.30,394.70) scale(3.7700,3.7700)">
<rect x="0" y="0" width="10" height="10" fill="#888888"/>
<path fill="#000000" d="M6 6h1v1h-1z"/>
<path fill="#080808" d="M7 5h1v1h-1z"/>
<path fill="#101010" d="M8 5h1v1h-1z"/>
<path fill="#202020" d="M7 6h1v1h-1z"/>
<path fill="#303030" d="M5 6h1v1h-1z"/>
<path fill="#383838" d="M5 7h1v1h-1z"/>
<path fill="#404040" d="M6 3h1v1h-1z"/>
<path fill="#686868" d="M7 3h1v1h-1zM6 4h1v1h-1z"/>
<path fill="#787878" d="M4 0h1v1h-1zM8 0h1v1h-1zM1 1h1v1h-1zM7 1h1v1h-1zM2 2h1v1h-1zM8 2h1v1h-1zM4 5h1v1h-1zM1 7h1v1h-1zM4 8h1v1h-1zM5 8h1v1h-1zM0 9h1v1h-1zM5 9h1v1h-1z"/>
<path fill="#808080" d="M2 0h1v1h-1zM3 0h1v1h-1zM5 0h1v1h-1zM7 0h1v1h-1zM0 1h1v1h-1zM3 1h1v1h-1zM1 2h1v1h-1zM3 2h1v1h-1zM5 2h1v1h-1zM7 2h1v1h-1zM9 2h1v1h-1zM0 3h1v1h-1zM3 3h1v1h-1zM5 3h1v1h-1zM0 4h1v1h-1zM4 4h1v1h-1zM5 4h1v1h-1zM3 5h1v1h-1zM0 6h1v1h-1zM3 6h1v1h-1zM2 7h1v1h-1zM3 7h1v1h-1zM0 8h1v1h-1zM8 8h1v1h-1zM2 9h1v1h-1zM3 9h1v1h-1z"/>
<path fill="#909090" d="M0 0h1v1h-1zM6 0h1v1h-1zM0 2h1v1h-1zM2 3h1v1h-1zM4 6h1v1h-1zM9 8h1v1h-1zM1 9h1v1h-1zM4 9h1v1h-1z"/>
<path fill="#989898" d="M8 3h1v1h-1zM6 8h1v1h-1z"/>
<path fill="#a0a0a0" d="M9 3h1v1h-1z"/>
<path fill="#b8b8b8" d="M8 4h1v1h-1z"/>
<path fill="#c0c0c0" d="M7 4h1v1h-1zM9 4h1v1h-1zM9 5h1v1h-1z"/>
<path fill="#c8c8c8" d="M9 7h1v1h-1z"/>
<path fill="#d8d8d8" d="M8 6h1v1h-1zM8 7h1v1h-1z"/>
<path fill="#f0f0f0" d="M7 7h1v1h-1z"/>
<path fill="#f8f8f8" d="M6 5h1v1h-1zM9 6h1v1h-1z"/>
<path fill="#ffffff" d="M5 5h1v1h-1z"/>
</g></g>
<line x1="421.50" y1="394.70" x2="421.50" y2="432.40" stroke="#00f0f0" stroke-width="1"/>
<line x1="402.30" y1="413.50" x2="440.00" y2="413.50" stroke="#00f0f0" stroke-width="1"/>
<g filter="url(#bl45)"><g transform="translate(451.35,394.70) scale(3.7700,3.7700)">
<rect x="0" y="0" width="10" height="10" fill="#888888"/>
<path fill="#000000" d="M8 5h1v1h-1z"/>
<path fill="#101010" d="M6 5h1v1h-1z"/>
<path fill="#202020" d="M6 6h1v1h-1z"/>
<path fill="#282828" d="M7 3h1v1h-1zM7 5h1v1h-1zM9 5h1v1h-1z"/>
<path fill="#303030" d="M6 3h1v1h-1z"/>
<path fill="#383838" d="M5 6h1v1h-1zM5 7h1v1h-1z"/>
<path fill="#484848" d="M6 8h1v1h-1z"/>
<path fill="#686868" d="M9 8h1v1h-1z"/>
<path fill="#707070" d="M6 7h1v1h-1zM8 7h1v1h-1z"/>
<path fill="#787878" d="M1 0h1v1h-1zM3 0h1v1h-1zM5 0h1v1h-1zM2 2h1v1h-1zM7 2h1v1h-1zM0 3h1v1h-1zM4 7h1v1h-1zM8 8h1v1h-1zM5 9h1v1h-1zM9 9h1v1h-1z"/>
<path fill="#808080" d="M7 0h1v1h-1zM9 0h1v1h-1zM0 1h1v1h-1zM1 1h1v1h-1zM3 1h1v1h-1zM9 1h1v1h-1zM4 2h1v1h-1zM8 2h1v1h-1zM3 3h1v1h-1zM0 5h1v1h-1zM2 5h1v1h-1zM3 5h1v1h-1zM4 5h1v1h-1zM0 6h1v1h-1zM3 6h1v1h-1zM4 6h1v1h-1zM0 7h1v1h-1zM2 7h1v1h-1zM3 8h1v1h-1zM5 8h1v1h-1zM7 8h1v1h-1zM1 9h1v1h-1zM3 9h1v1h-1z"/>
<path fill="#909090" d="M6 1h1v1h-1zM8 3h1v1h-1zM2 4h1v1h-1zM9 7h1v1h-1zM0 8h1v1h-1zM2 9h1v1h-1z"/>
<path fill="#989898" d="M1 5h1v1h-1zM2 6h1v1h-1zM7 7h1v1h-1z"/>
<path fill="#b0b0b0" d="M9 6h1v1h-1z"/>
<path fill="#b8b8b8" d="M5 4h1v1h-1z"/>
<path fill="#d0d0d0" d="M9 4h1v1h-1zM5 5h1v1h-1z"/>
<path fill="#e0e0e0" d="M7 6h1v1h-1z"/>
<path fill="#e8e8e8" d="M6 4h1v1h-1zM8 4h1v1h-1z"/>
<path fill="#f0f0f0" d="M8 6h1v1h-1z"/>
<path fill="#f8f8f8" d="M7 4h1v1h-1z"/>
</g></g>
<line x1="470.50" y1="394.70" x2="470.50" y2="432.40" stroke="#00f0f0" stroke-width="1"/>
<line x1="451.35" y1="413.50" x2="489.05" y2="413.50" stroke="#00f0f0" stroke-width="1"/>
<text x="204.03" y="240.40" font-size="13.33" fill="#1a941a" stroke="#1a941a" stroke-width="0.22">Cell A CNN RF</text>
<text x="204.05" y="344.70" font-size="13.02" fill="#e8178d" stroke="#e8178d" stroke-width="0.22">Cell B CNN RF</text>
<text x="527.28" y="252.20" font-size="12.80" fill="#1a941a" stroke="#1a941a" stroke-width="0.22">Cell A</text>
<text x="515.86" y="267.90" font-size="12.97" fill="#1a941a" stroke="#1a941a" stroke-width="0.22">Linear RF</text>
<g filter="url(#bl45)"><g transform="translate(525.80,272.20) scale(3.7800,3.7800)">
<rect x="0" y="0" width="10" height="10" fill="#787878"/>
<path fill="#080808" d="M6 3h1v1h-1zM4 4h1v1h-1zM4 5h1v1h-1z"/>
<path fill="#101010" d="M3 3h1v1h-1z"/>
<path fill="#303030" d="M6 4h1v1h-1z"/>
<path fill="#484848" d="M5 1h1v1h-1zM3 2h1v1h-1z"/>
<path fill="#505050" d="M6 2h1v1h-1zM3 8h1v1h-1z"/>
<path fill="#585858" d="M6 1h1v1h-1zM9 3h1v1h-1zM1 4h1v1h-1zM1 5h1v1h-1zM7 5h1v1h-1z"/>
<path fill="#606060" d="M1 0h1v1h-1zM2 0h1v1h-1zM0 1h1v1h-1zM3 1h1v1h-1zM4 6h1v1h-1zM0 7h1v1h-1zM2 9h1v1h-1z"/>
<path fill="#707070" d="M0 0h1v1h-1zM3 0h1v1h-1zM6 0h1v1h-1zM7 0h1v1h-1zM9 1h1v1h-1zM0 2h1v1h-1zM8 2h1v1h-1zM0 3h1v1h-1zM0 5h1v1h-1zM6 5h1v1h-1zM1 6h1v1h-1zM2 6h1v1h-1zM8 6h1v1h-1zM1 7h1v1h-1zM4 7h1v1h-1zM6 7h1v1h-1zM9 7h1v1h-1zM0 8h1v1h-1zM5 8h1v1h-1zM8 8h1v1h-1zM0 9h1v1h-1zM4 9h1v1h-1zM6 9h1v1h-1zM8 9h1v1h-1zM9 9h1v1h-1z"/>
<path fill="#808080" d="M8 1h1v1h-1zM2 2h1v1h-1zM9 2h1v1h-1zM3 4h1v1h-1zM8 4h1v1h-1zM5 6h1v1h-1zM6 6h1v1h-1zM3 7h1v1h-1zM7 7h1v1h-1zM1 8h1v1h-1zM7 8h1v1h-1z"/>
<path fill="#909090" d="M1 1h1v1h-1zM2 1h1v1h-1zM1 2h1v1h-1zM3 5h1v1h-1zM4 8h1v1h-1z"/>
<path fill="#989898" d="M4 0h1v1h-1zM7 1h1v1h-1zM7 2h1v1h-1zM2 5h1v1h-1zM8 5h1v1h-1zM3 6h1v1h-1z"/>
<path fill="#a0a0a0" d="M4 1h1v1h-1zM4 2h1v1h-1z"/>
<path fill="#a8a8a8" d="M7 3h1v1h-1zM8 3h1v1h-1zM2 4h1v1h-1z"/>
<path fill="#c0c0c0" d="M2 3h1v1h-1z"/>
<path fill="#d0d0d0" d="M5 5h1v1h-1z"/>
<path fill="#e0e0e0" d="M5 3h1v1h-1z"/>
<path fill="#f8f8f8" d="M5 4h1v1h-1z"/>
</g></g>
<text x="527.74" y="356.10" font-size="12.80" fill="#e8178d" stroke="#e8178d" stroke-width="0.22">Cell B</text>
<text x="516.06" y="372.20" font-size="13.00" fill="#e8178d" stroke="#e8178d" stroke-width="0.22">Linear RF</text>
<g filter="url(#bl45)"><g transform="translate(525.80,376.60) scale(3.7800,3.7800)">
<rect x="0" y="0" width="10" height="10" fill="#909090"/>
<path fill="#000000" d="M1 3h1v1h-1z"/>
<path fill="#080808" d="M0 4h1v1h-1zM7 4h1v1h-1z"/>
<path fill="#101010" d="M0 0h1v1h-1zM5 0h1v1h-1zM6 3h1v1h-1z"/>
<path fill="#202020" d="M8 0h1v1h-1zM4 7h1v1h-1z"/>
<path fill="#282828" d="M1 7h1v1h-1z"/>
<path fill="#404040" d="M3 2h1v1h-1zM9 5h1v1h-1zM3 6h1v1h-1z"/>
<path fill="#484848" d="M1 5h1v1h-1zM2 6h1v1h-1zM2 8h1v1h-1z"/>
<path fill="#505050" d="M6 5h1v1h-1zM0 8h1v1h-1zM7 8h1v1h-1zM8 8h1v1h-1z"/>
<path fill="#585858" d="M6 1h1v1h-1zM8 5h1v1h-1zM6 7h1v1h-1zM1 9h1v1h-1z"/>
<path fill="#606060" d="M3 4h1v1h-1zM7 9h1v1h-1z"/>
<path fill="#707070" d="M2 0h1v1h-1zM8 1h1v1h-1zM0 2h1v1h-1zM5 2h1v1h-1zM5 6h1v1h-1z"/>
<path fill="#787878" d="M7 2h1v1h-1zM3 9h1v1h-1zM4 9h1v1h-1z"/>
<path fill="#808080" d="M2 1h1v1h-1zM2 4h1v1h-1zM5 4h1v1h-1zM3 5h1v1h-1zM4 5h1v1h-1zM7 6h1v1h-1zM8 6h1v1h-1zM9 7h1v1h-1zM5 8h1v1h-1zM6 9h1v1h-1z"/>
<path fill="#989898" d="M3 0h1v1h-1zM3 1h1v1h-1zM1 2h1v1h-1zM2 2h1v1h-1zM4 2h1v1h-1zM6 2h1v1h-1zM9 2h1v1h-1zM4 3h1v1h-1zM5 3h1v1h-1zM4 4h1v1h-1zM0 6h1v1h-1zM5 7h1v1h-1zM0 9h1v1h-1z"/>
<path fill="#a0a0a0" d="M8 2h1v1h-1zM8 3h1v1h-1zM9 3h1v1h-1zM0 5h1v1h-1zM8 7h1v1h-1zM4 8h1v1h-1z"/>
<path fill="#a8a8a8" d="M1 0h1v1h-1zM9 0h1v1h-1zM9 1h1v1h-1zM5 5h1v1h-1zM6 6h1v1h-1zM3 8h1v1h-1zM6 8h1v1h-1z"/>
<path fill="#b0b0b0" d="M6 0h1v1h-1zM7 3h1v1h-1zM1 6h1v1h-1zM3 7h1v1h-1zM9 8h1v1h-1zM8 9h1v1h-1z"/>
<path fill="#c0c0c0" d="M7 0h1v1h-1zM0 3h1v1h-1z"/>
<path fill="#c8c8c8" d="M5 1h1v1h-1zM3 3h1v1h-1zM8 4h1v1h-1zM9 4h1v1h-1zM1 8h1v1h-1zM2 9h1v1h-1z"/>
<path fill="#e0e0e0" d="M0 1h1v1h-1zM7 5h1v1h-1z"/>
<path fill="#e8e8e8" d="M6 4h1v1h-1zM2 5h1v1h-1zM4 6h1v1h-1z"/>
<path fill="#f8f8f8" d="M1 4h1v1h-1zM7 7h1v1h-1z"/>
</g></g>
<rect x="90.94" y="533.80" width="5.46" height="5.30" fill="#ff00ff" fill-opacity="0.7"/>
<rect x="101.86" y="528.50" width="5.46" height="10.60" fill="#ff00ff" fill-opacity="0.7"/>
<rect x="107.32" y="528.50" width="5.46" height="10.60" fill="#ff00ff" fill-opacity="0.7"/>
<rect x="112.78" y="512.00" width="5.46" height="27.10" fill="#ff00ff" fill-opacity="0.7"/>
<rect x="118.24" y="512.00" width="5.46" height="27.10" fill="#ff00ff" fill-opacity="0.7"/>
<rect x="123.70" y="456.10" width="5.46" height="83.00" fill="#ff00ff" fill-opacity="0.7"/>
<rect x="129.16" y="506.20" width="5.46" height="32.90" fill="#ff00ff" fill-opacity="0.7"/>
<rect x="134.62" y="495.00" width="5.46" height="44.10" fill="#ff00ff" fill-opacity="0.7"/>
<rect x="140.08" y="523.00" width="5.46" height="16.10" fill="#ff00ff" fill-opacity="0.7"/>
<rect x="69.10" y="525.90" width="5.46" height="13.20" fill="#00ff00" fill-opacity="0.7"/>
<rect x="85.48" y="525.90" width="5.46" height="13.20" fill="#00ff00" fill-opacity="0.7"/>
<rect x="90.94" y="525.90" width="5.46" height="13.20" fill="#00ff00" fill-opacity="0.7"/>
<rect x="96.40" y="525.90" width="5.46" height="13.20" fill="#00ff00" fill-opacity="0.7"/>
<rect x="107.32" y="484.90" width="5.46" height="54.20" fill="#00ff00" fill-opacity="0.7"/>
<rect x="118.24" y="498.50" width="5.46" height="40.60" fill="#00ff00" fill-opacity="0.7"/>
<rect x="123.70" y="484.90" width="5.46" height="54.20" fill="#00ff00" fill-opacity="0.7"/>
<rect x="129.16" y="484.90" width="5.46" height="54.20" fill="#00ff00" fill-opacity="0.7"/>
<line x1="36.80" y1="452.20" x2="36.80" y2="539.60" stroke="#222" stroke-width="1.0"/>
<line x1="36.30" y1="539.10" x2="156.60" y2="539.10" stroke="#222" stroke-width="1.0"/>
<text x="21.87" y="541.88" font-size="9.10" fill="#1a1a1a" stroke="#1a1a1a" stroke-width="0.22">0.0</text>
<line x1="35.50" y1="538.70" x2="36.80" y2="538.70" stroke="#666" stroke-width="0.8"/>
<text x="21.96" y="516.28" font-size="9.10" fill="#1a1a1a" stroke="#1a1a1a" stroke-width="0.22">0.1</text>
<line x1="35.50" y1="513.10" x2="36.80" y2="513.10" stroke="#666" stroke-width="0.8"/>
<text x="22.01" y="490.49" font-size="9.10" fill="#1a1a1a" stroke="#1a1a1a" stroke-width="0.22">0.2</text>
<line x1="35.50" y1="487.30" x2="36.80" y2="487.30" stroke="#666" stroke-width="0.8"/>
<text x="21.92" y="464.08" font-size="9.10" fill="#1a1a1a" stroke="#1a1a1a" stroke-width="0.22">0.3</text>
<line x1="35.50" y1="460.90" x2="36.80" y2="460.90" stroke="#666" stroke-width="0.8"/>
<text x="35.78" y="549.30" font-size="9.10" fill="#1a1a1a" stroke="#1a1a1a" stroke-width="0.22">0.6</text>
<line x1="42.10" y1="539.10" x2="42.10" y2="540.40" stroke="#666" stroke-width="0.8"/>
<text x="63.12" y="549.30" font-size="9.10" fill="#1a1a1a" stroke="#1a1a1a" stroke-width="0.22">0.7</text>
<line x1="69.40" y1="539.10" x2="69.40" y2="540.40" stroke="#666" stroke-width="0.8"/>
<text x="90.38" y="549.30" font-size="9.10" fill="#1a1a1a" stroke="#1a1a1a" stroke-width="0.22">0.8</text>
<line x1="96.70" y1="539.10" x2="96.70" y2="540.40" stroke="#666" stroke-width="0.8"/>
<text x="117.70" y="549.30" font-size="9.10" fill="#1a1a1a" stroke="#1a1a1a" stroke-width="0.22">0.9</text>
<line x1="124.00" y1="539.10" x2="124.00" y2="540.40" stroke="#666" stroke-width="0.8"/>
<text x="144.69" y="549.30" font-size="9.10" fill="#1a1a1a" stroke="#1a1a1a" stroke-width="0.22">1.0</text>
<line x1="151.20" y1="539.10" x2="151.20" y2="540.40" stroke="#666" stroke-width="0.8"/>
<text x="37.31" y="558.70" font-size="9.74" fill="#1a1a1a" stroke="#1a1a1a" stroke-width="0.22">CNN Gabor fitting similarity</text>
<text transform="translate(19.30,518.84) rotate(-90)" x="0" y="0" font-size="9.70" fill="#1a1a1a" stroke="#1a1a1a" stroke-width="0.22">Probability</text>
<rect x="43.90" y="458.20" width="10.90" height="3.90" fill="#00ff00" fill-opacity="0.7"/>
<rect x="43.90" y="467.20" width="10.90" height="3.90" fill="#ff00ff" fill-opacity="0.7"/>
<text x="58.80" y="462.10" font-size="8.78" fill="#1a1a1a" stroke="#1a1a1a" stroke-width="0.22">Simple cell</text>
<text x="58.76" y="471.10" font-size="8.83" fill="#1a1a1a" stroke="#1a1a1a" stroke-width="0.22">Complex cell</text>
<rect x="219.90" y="536.00" width="10.90" height="3.20" fill="#ff00ff" fill-opacity="0.7"/>
<rect x="252.40" y="533.10" width="11.30" height="6.10" fill="#ff00ff" fill-opacity="0.7"/>
<rect x="274.30" y="536.20" width="10.90" height="3.00" fill="#ff00ff" fill-opacity="0.7"/>
<rect x="285.20" y="533.10" width="10.80" height="6.10" fill="#ff00ff" fill-opacity="0.7"/>
<rect x="296.00" y="514.80" width="11.00" height="24.40" fill="#ff00ff" fill-opacity="0.7"/>
<rect x="307.00" y="506.10" width="10.90" height="33.10" fill="#ff00ff" fill-opacity="0.7"/>
<rect x="317.90" y="458.80" width="11.00" height="80.40" fill="#ff00ff" fill-opacity="0.7"/>
<rect x="296.00" y="514.00" width="11.00" height="25.20" fill="#00ff00" fill-opacity="0.7"/>
<rect x="307.00" y="489.70" width="10.90" height="49.50" fill="#00ff00" fill-opacity="0.7"/>
<rect x="317.90" y="456.10" width="11.00" height="83.10" fill="#00ff00" fill-opacity="0.7"/>
<line x1="214.60" y1="452.00" x2="214.60" y2="539.70" stroke="#222" stroke-width="1.0"/>
<line x1="214.10" y1="539.20" x2="334.00" y2="539.20" stroke="#222" stroke-width="1.0"/>
<text x="200.61" y="541.44" font-size="8.70" fill="#1a1a1a" stroke="#1a1a1a" stroke-width="0.22">0.0</text>
<line x1="213.30" y1="538.40" x2="214.60" y2="538.40" stroke="#666" stroke-width="0.8"/>
<text x="200.70" y="525.62" font-size="8.70" fill="#1a1a1a" stroke="#1a1a1a" stroke-width="0.22">0.1</text>
<line x1="213.30" y1="522.58" x2="214.60" y2="522.58" stroke="#666" stroke-width="0.8"/>
<text x="200.74" y="509.81" font-size="8.70" fill="#1a1a1a" stroke="#1a1a1a" stroke-width="0.22">0.2</text>
<line x1="213.30" y1="506.76" x2="214.60" y2="506.76" stroke="#666" stroke-width="0.8"/>
<text x="200.66" y="493.99" font-size="8.70" fill="#1a1a1a" stroke="#1a1a1a" stroke-width="0.22">0.3</text>
<line x1="213.30" y1="490.94" x2="214.60" y2="490.94" stroke="#666" stroke-width="0.8"/>
<text x="200.57" y="478.17" font-size="8.70" fill="#1a1a1a" stroke="#1a1a1a" stroke-width="0.22">0.4</text>
<line x1="213.30" y1="475.12" x2="214.60" y2="475.12" stroke="#666" stroke-width="0.8"/>
<text x="200.66" y="462.34" font-size="8.70" fill="#1a1a1a" stroke="#1a1a1a" stroke-width="0.22">0.5</text>
<line x1="213.30" y1="459.30" x2="214.60" y2="459.30" stroke="#666" stroke-width="0.8"/>
<text x="219.01" y="549.20" font-size="8.70" fill="#1a1a1a" stroke="#1a1a1a" stroke-width="0.22">−0.2</text>
<line x1="227.60" y1="539.20" x2="227.60" y2="540.50" stroke="#666" stroke-width="0.8"/>
<text x="239.63" y="549.20" font-size="8.70" fill="#1a1a1a" stroke="#1a1a1a" stroke-width="0.22">0.0</text>
<line x1="245.70" y1="539.20" x2="245.70" y2="540.50" stroke="#666" stroke-width="0.8"/>
<text x="256.80" y="549.20" font-size="8.70" fill="#1a1a1a" stroke="#1a1a1a" stroke-width="0.22">0.2</text>
<line x1="262.80" y1="539.20" x2="262.80" y2="540.50" stroke="#666" stroke-width="0.8"/>
<text x="274.01" y="549.20" font-size="8.70" fill="#1a1a1a" stroke="#1a1a1a" stroke-width="0.22">0.4</text>
<line x1="280.10" y1="539.20" x2="280.10" y2="540.50" stroke="#666" stroke-width="0.8"/>
<text x="292.35" y="549.20" font-size="8.70" fill="#1a1a1a" stroke="#1a1a1a" stroke-width="0.22">0.6</text>
<line x1="298.40" y1="539.20" x2="298.40" y2="540.50" stroke="#666" stroke-width="0.8"/>
<text x="309.15" y="549.20" font-size="8.70" fill="#1a1a1a" stroke="#1a1a1a" stroke-width="0.22">0.8</text>
<line x1="315.20" y1="539.20" x2="315.20" y2="540.50" stroke="#666" stroke-width="0.8"/>
<text x="325.88" y="549.20" font-size="8.70" fill="#1a1a1a" stroke="#1a1a1a" stroke-width="0.22">1.0</text>
<line x1="332.10" y1="539.20" x2="332.10" y2="540.50" stroke="#666" stroke-width="0.8"/>
<text x="209.03" y="558.40" font-size="9.58" fill="#1a1a1a" stroke="#1a1a1a" stroke-width="0.22">Filter 1-CNN RF max similarity</text>
<text transform="translate(196.90,518.24) rotate(-90)" x="0" y="0" font-size="9.70" fill="#1a1a1a" stroke="#1a1a1a" stroke-width="0.22">Probability</text>
<rect x="396.40" y="535.80" width="11.10" height="3.70" fill="#ff00ff" fill-opacity="0.7"/>
<rect x="439.80" y="535.80" width="11.50" height="3.70" fill="#ff00ff" fill-opacity="0.7"/>
<rect x="451.30" y="528.50" width="10.60" height="11.00" fill="#ff00ff" fill-opacity="0.7"/>
<rect x="461.90" y="532.20" width="11.00" height="7.30" fill="#ff00ff" fill-opacity="0.7"/>
<rect x="472.90" y="521.20" width="10.50" height="18.30" fill="#ff00ff" fill-opacity="0.7"/>
<rect x="483.40" y="496.00" width="11.00" height="43.50" fill="#ff00ff" fill-opacity="0.7"/>
<rect x="494.40" y="456.10" width="10.80" height="83.40" fill="#ff00ff" fill-opacity="0.7"/>
<line x1="391.50" y1="452.40" x2="391.50" y2="540.00" stroke="#222" stroke-width="1.0"/>
<line x1="391.00" y1="539.50" x2="510.80" y2="539.50" stroke="#222" stroke-width="1.0"/>
<text x="377.81" y="541.64" font-size="8.70" fill="#1a1a1a" stroke="#1a1a1a" stroke-width="0.22">0.0</text>
<line x1="390.20" y1="538.60" x2="391.50" y2="538.60" stroke="#666" stroke-width="0.8"/>
<text x="377.90" y="524.66" font-size="8.70" fill="#1a1a1a" stroke="#1a1a1a" stroke-width="0.22">0.1</text>
<line x1="390.20" y1="521.62" x2="391.50" y2="521.62" stroke="#666" stroke-width="0.8"/>
<text x="377.94" y="507.69" font-size="8.70" fill="#1a1a1a" stroke="#1a1a1a" stroke-width="0.22">0.2</text>
<line x1="390.20" y1="504.64" x2="391.50" y2="504.64" stroke="#666" stroke-width="0.8"/>
<text x="377.86" y="490.71" font-size="8.70" fill="#1a1a1a" stroke="#1a1a1a" stroke-width="0.22">0.3</text>
<line x1="390.20" y1="487.66" x2="391.50" y2="487.66" stroke="#666" stroke-width="0.8"/>
<text x="377.77" y="473.73" font-size="8.70" fill="#1a1a1a" stroke="#1a1a1a" stroke-width="0.22">0.4</text>
<line x1="390.20" y1="470.68" x2="391.50" y2="470.68" stroke="#666" stroke-width="0.8"/>
<text x="377.86" y="456.75" font-size="8.70" fill="#1a1a1a" stroke="#1a1a1a" stroke-width="0.22">0.5</text>
<line x1="390.20" y1="453.70" x2="391.50" y2="453.70" stroke="#666" stroke-width="0.8"/>
<text x="395.43" y="549.40" font-size="8.70" fill="#1a1a1a" stroke="#1a1a1a" stroke-width="0.22">0.0</text>
<line x1="401.50" y1="539.50" x2="401.50" y2="540.80" stroke="#666" stroke-width="0.8"/>
<text x="417.40" y="549.40" font-size="8.70" fill="#1a1a1a" stroke="#1a1a1a" stroke-width="0.22">0.2</text>
<line x1="423.40" y1="539.50" x2="423.40" y2="540.80" stroke="#666" stroke-width="0.8"/>
<text x="439.31" y="549.40" font-size="8.70" fill="#1a1a1a" stroke="#1a1a1a" stroke-width="0.22">0.4</text>
<line x1="445.40" y1="539.50" x2="445.40" y2="540.80" stroke="#666" stroke-width="0.8"/>
<text x="461.35" y="549.40" font-size="8.70" fill="#1a1a1a" stroke="#1a1a1a" stroke-width="0.22">0.6</text>
<line x1="467.40" y1="539.50" x2="467.40" y2="540.80" stroke="#666" stroke-width="0.8"/>
<text x="483.25" y="549.40" font-size="8.70" fill="#1a1a1a" stroke="#1a1a1a" stroke-width="0.22">0.8</text>
<line x1="489.30" y1="539.50" x2="489.30" y2="540.80" stroke="#666" stroke-width="0.8"/>
<text x="384.82" y="558.20" font-size="9.75" fill="#1a1a1a" stroke="#1a1a1a" stroke-width="0.22">Filter 2-CNN RF max similarity</text>
<text transform="translate(374.30,518.74) rotate(-90)" x="0" y="0" font-size="9.70" fill="#1a1a1a" stroke="#1a1a1a" stroke-width="0.22">Probability</text>
<rect x="42.00" y="629.40" width="10.90" height="33.70" fill="#ff00ff" fill-opacity="0.7"/>
<rect x="52.90" y="623.00" width="10.90" height="40.10" fill="#ff00ff" fill-opacity="0.7"/>
<rect x="63.80" y="639.80" width="10.90" height="23.30" fill="#ff00ff" fill-opacity="0.7"/>
<rect x="74.70" y="633.00" width="10.90" height="30.10" fill="#ff00ff" fill-opacity="0.7"/>
<rect x="85.60" y="646.50" width="10.90" height="16.60" fill="#ff00ff" fill-opacity="0.7"/>
<rect x="96.50" y="656.40" width="10.90" height="6.70" fill="#ff00ff" fill-opacity="0.7"/>
<rect x="107.40" y="659.50" width="10.90" height="3.60" fill="#ff00ff" fill-opacity="0.7"/>
<rect x="118.30" y="659.50" width="10.90" height="3.60" fill="#ff00ff" fill-opacity="0.7"/>
<rect x="107.40" y="654.90" width="10.90" height="8.20" fill="#00ff00" fill-opacity="0.7"/>
<rect x="118.30" y="654.90" width="10.90" height="8.20" fill="#00ff00" fill-opacity="0.7"/>
<rect x="129.20" y="604.70" width="10.90" height="58.40" fill="#00ff00" fill-opacity="0.7"/>
<rect x="140.10" y="580.10" width="10.90" height="83.00" fill="#00ff00" fill-opacity="0.7"/>
<line x1="36.50" y1="576.10" x2="36.50" y2="663.60" stroke="#222" stroke-width="1.0"/>
<line x1="36.00" y1="663.10" x2="156.10" y2="663.10" stroke="#222" stroke-width="1.0"/>
<text x="22.71" y="664.94" font-size="8.70" fill="#1a1a1a" stroke="#1a1a1a" stroke-width="0.22">0.0</text>
<line x1="35.20" y1="661.90" x2="36.50" y2="661.90" stroke="#666" stroke-width="0.8"/>
<text x="22.80" y="649.30" font-size="8.70" fill="#1a1a1a" stroke="#1a1a1a" stroke-width="0.22">0.1</text>
<line x1="35.20" y1="646.26" x2="36.50" y2="646.26" stroke="#666" stroke-width="0.8"/>
<text x="22.84" y="633.66" font-size="8.70" fill="#1a1a1a" stroke="#1a1a1a" stroke-width="0.22">0.2</text>
<line x1="35.20" y1="630.62" x2="36.50" y2="630.62" stroke="#666" stroke-width="0.8"/>
<text x="22.76" y="618.02" font-size="8.70" fill="#1a1a1a" stroke="#1a1a1a" stroke-width="0.22">0.3</text>
<line x1="35.20" y1="614.98" x2="36.50" y2="614.98" stroke="#666" stroke-width="0.8"/>
<text x="22.67" y="602.38" font-size="8.70" fill="#1a1a1a" stroke="#1a1a1a" stroke-width="0.22">0.4</text>
<line x1="35.20" y1="599.34" x2="36.50" y2="599.34" stroke="#666" stroke-width="0.8"/>
<text x="22.76" y="586.74" font-size="8.70" fill="#1a1a1a" stroke="#1a1a1a" stroke-width="0.22">0.5</text>
<line x1="35.20" y1="583.70" x2="36.50" y2="583.70" stroke="#666" stroke-width="0.8"/>
<text x="32.23" y="671.80" font-size="8.70" fill="#1a1a1a" stroke="#1a1a1a" stroke-width="0.22">0.0</text>
<line x1="38.30" y1="663.10" x2="38.30" y2="664.40" stroke="#666" stroke-width="0.8"/>
<text x="56.30" y="671.80" font-size="8.70" fill="#1a1a1a" stroke="#1a1a1a" stroke-width="0.22">0.2</text>
<line x1="62.30" y1="663.10" x2="62.30" y2="664.40" stroke="#666" stroke-width="0.8"/>
<text x="80.21" y="671.80" font-size="8.70" fill="#1a1a1a" stroke="#1a1a1a" stroke-width="0.22">0.4</text>
<line x1="86.30" y1="663.10" x2="86.30" y2="664.40" stroke="#666" stroke-width="0.8"/>
<text x="104.25" y="671.80" font-size="8.70" fill="#1a1a1a" stroke="#1a1a1a" stroke-width="0.22">0.6</text>
<line x1="110.30" y1="663.10" x2="110.30" y2="664.40" stroke="#666" stroke-width="0.8"/>
<text x="128.25" y="671.80" font-size="8.70" fill="#1a1a1a" stroke="#1a1a1a" stroke-width="0.22">0.8</text>
<line x1="134.30" y1="663.10" x2="134.30" y2="664.40" stroke="#666" stroke-width="0.8"/>
<text x="30.92" y="681.50" font-size="9.73" fill="#1a1a1a" stroke="#1a1a1a" stroke-width="0.22">Linear-CNN RF max similarity</text>
<text transform="translate(19.60,642.84) rotate(-90)" x="0" y="0" font-size="9.70" fill="#1a1a1a" stroke="#1a1a1a" stroke-width="0.22">Probability</text>
<line x1="223.40" y1="576.40" x2="223.40" y2="664.00" stroke="#222" stroke-width="1.0"/>
<line x1="222.90" y1="663.50" x2="342.70" y2="663.50" stroke="#222" stroke-width="1.0"/>
<text x="217.48" y="660.84" font-size="8.70" fill="#1a1a1a" stroke="#1a1a1a" stroke-width="0.22">0</text>
<line x1="222.10" y1="657.80" x2="223.40" y2="657.80" stroke="#666" stroke-width="0.8"/>
<text x="212.65" y="639.04" font-size="8.70" fill="#1a1a1a" stroke="#1a1a1a" stroke-width="0.22">50</text>
<line x1="222.10" y1="636.00" x2="223.40" y2="636.00" stroke="#666" stroke-width="0.8"/>
<text x="207.82" y="617.25" font-size="8.70" fill="#1a1a1a" stroke="#1a1a1a" stroke-width="0.22">100</text>
<line x1="222.10" y1="614.20" x2="223.40" y2="614.20" stroke="#666" stroke-width="0.8"/>
<text x="207.82" y="595.34" font-size="8.70" fill="#1a1a1a" stroke="#1a1a1a" stroke-width="0.22">150</text>
<line x1="222.10" y1="592.30" x2="223.40" y2="592.30" stroke="#666" stroke-width="0.8"/>
<text x="225.86" y="673.50" font-size="8.70" fill="#1a1a1a" stroke="#1a1a1a" stroke-width="0.22">0</text>
<line x1="228.30" y1="663.50" x2="228.30" y2="664.80" stroke="#666" stroke-width="0.8"/>
<text x="253.25" y="673.50" font-size="8.70" fill="#1a1a1a" stroke="#1a1a1a" stroke-width="0.22">50</text>
<line x1="258.10" y1="663.50" x2="258.10" y2="664.80" stroke="#666" stroke-width="0.8"/>
<text x="281.58" y="673.50" font-size="8.70" fill="#1a1a1a" stroke="#1a1a1a" stroke-width="0.22">100</text>
<line x1="289.00" y1="663.50" x2="289.00" y2="664.80" stroke="#666" stroke-width="0.8"/>
<text x="312.98" y="673.50" font-size="8.70" fill="#1a1a1a" stroke="#1a1a1a" stroke-width="0.22">150</text>
<line x1="320.40" y1="663.50" x2="320.40" y2="664.80" stroke="#666" stroke-width="0.8"/>
<text x="247.61" y="681.80" font-size="9.88" fill="#1a1a1a" stroke="#1a1a1a" stroke-width="0.22">Filter orientation</text>
<text transform="translate(203.20,650.42) rotate(-90)" x="0" y="0" font-size="9.60" fill="#1a1a1a" stroke="#1a1a1a" stroke-width="0.22">RF orientation</text>
<text x="302.26" y="632.40" font-size="9.80" fill="#1a1a1a" stroke="#1a1a1a" stroke-width="0.22">r = 0.92</text>
<circle cx="230.2" cy="658.5" r="1.2" fill="#ff00ff"/>
<circle cx="231.1" cy="658.9" r="1.2" fill="#ff00ff"/>
<circle cx="234.7" cy="654.3" r="1.2" fill="#00ff00"/>
<circle cx="233.8" cy="655.8" r="1.2" fill="#ff00ff"/>
<circle cx="240.2" cy="651.6" r="1.2" fill="#ff00ff"/>
<circle cx="243" cy="646.7" r="1.2" fill="#ff00ff"/>
<circle cx="244.8" cy="647.2" r="1.2" fill="#ff00ff"/>
<circle cx="245.7" cy="645.4" r="1.2" fill="#00ff00"/>
<circle cx="249" cy="645.4" r="1.2" fill="#ff00ff"/>
<circle cx="251.2" cy="644.9" r="1.2" fill="#ff00ff"/>
<circle cx="253" cy="640.3" r="1.2" fill="#ff00ff"/>
<circle cx="256.6" cy="634.5" r="1.2" fill="#00ff00"/>
<circle cx="260.7" cy="633" r="1.2" fill="#00ff00"/>
<circle cx="263.6" cy="633.5" r="1.2" fill="#ff00ff"/>
<circle cx="264.9" cy="632.1" r="1.2" fill="#ff00ff"/>
<circle cx="265.8" cy="630.8" r="1.2" fill="#ff00ff"/>
<circle cx="268.1" cy="625.7" r="1.2" fill="#ff00ff"/>
<circle cx="270" cy="625.3" r="1.2" fill="#00ff00"/>
<circle cx="274.5" cy="626.6" r="1.2" fill="#ff00ff"/>
<circle cx="274.9" cy="620.8" r="1.2" fill="#00ff00"/>
<circle cx="277.1" cy="619.3" r="1.2" fill="#ff00ff"/>
<circle cx="279.5" cy="620.6" r="1.2" fill="#ff00ff"/>
<circle cx="279.8" cy="621.9" r="1.2" fill="#ff00ff"/>
<circle cx="282.8" cy="618.4" r="1.2" fill="#ff00ff"/>
<circle cx="285.4" cy="620.2" r="1.2" fill="#00ff00"/>
<circle cx="287.1" cy="618.1" r="1.2" fill="#ff00ff"/>
<circle cx="288.4" cy="617.2" r="1.2" fill="#ff00ff"/>
<circle cx="288.9" cy="621" r="1.2" fill="#ff00ff"/>
<circle cx="290.6" cy="614.9" r="1.2" fill="#00ff00"/>
<circle cx="291.5" cy="615.8" r="1.2" fill="#ff00ff"/>
<circle cx="294.2" cy="612" r="1.2" fill="#ff00ff"/>
<circle cx="293.6" cy="613.2" r="1.2" fill="#00ff00"/>
<circle cx="293.6" cy="607.4" r="1.2" fill="#ff00ff"/>
<circle cx="295" cy="617.2" r="1.2" fill="#00ff00"/>
<circle cx="302" cy="607.9" r="1.2" fill="#ff00ff"/>
<circle cx="302.9" cy="604.9" r="1.2" fill="#ff00ff"/>
<circle cx="302.4" cy="606.2" r="1.2" fill="#00ff00"/>
<circle cx="303.8" cy="603.9" r="1.2" fill="#ff00ff"/>
<circle cx="305.2" cy="602.7" r="1.2" fill="#ff00ff"/>
<circle cx="306.4" cy="601.8" r="1.2" fill="#ff00ff"/>
<circle cx="307.6" cy="599.5" r="1.2" fill="#ff00ff"/>
<circle cx="312.2" cy="593.9" r="1.2" fill="#ff00ff"/>
<circle cx="312.9" cy="596.2" r="1.2" fill="#00ff00"/>
<circle cx="313.4" cy="598.6" r="1.2" fill="#ff00ff"/>
<circle cx="316" cy="596.2" r="1.2" fill="#00ff00"/>
<circle cx="319.5" cy="592.1" r="1.2" fill="#ff00ff"/>
<circle cx="320.1" cy="586.9" r="1.2" fill="#00ff00"/>
<circle cx="325.1" cy="581.1" r="1.2" fill="#00ff00"/>
<circle cx="326.5" cy="581.1" r="1.2" fill="#ff00ff"/>
<circle cx="328.3" cy="581.1" r="1.2" fill="#ff00ff"/>
<circle cx="329.7" cy="584.6" r="1.2" fill="#ff00ff"/>
<circle cx="328.7" cy="587.4" r="1.2" fill="#ff00ff"/>
<circle cx="334.4" cy="581.6" r="1.2" fill="#00ff00"/>
<circle cx="337.1" cy="582.5" r="1.2" fill="#ff00ff"/>
<circle cx="336.2" cy="659.0" r="1.2" fill="#ff00ff"/>
<circle cx="233.4" cy="583.1" r="1.4" fill="#00ff00"/>
<circle cx="233.4" cy="595.2" r="1.4" fill="#ff00ff"/>
<text x="240.65" y="584.50" font-size="9.95" fill="#1a1a1a" stroke="#1a1a1a" stroke-width="0.22">Simple cell</text>
<text x="240.61" y="596.60" font-size="9.88" fill="#1a1a1a" stroke="#1a1a1a" stroke-width="0.22">Complex cell</text>
<rect x="423.60" y="658.50" width="5.42" height="4.80" fill="#00ff00" fill-opacity="0.7"/>
<rect x="429.02" y="580.10" width="5.42" height="83.20" fill="#00ff00" fill-opacity="0.7"/>
<rect x="396.50" y="660.90" width="5.42" height="2.40" fill="#ff00ff" fill-opacity="0.7"/>
<rect x="429.02" y="652.20" width="5.42" height="11.10" fill="#ff00ff" fill-opacity="0.7"/>
<rect x="434.44" y="659.10" width="5.42" height="4.20" fill="#ff00ff" fill-opacity="0.7"/>
<rect x="439.86" y="659.10" width="5.42" height="4.20" fill="#ff00ff" fill-opacity="0.7"/>
<rect x="445.28" y="661.00" width="5.42" height="2.30" fill="#ff00ff" fill-opacity="0.7"/>
<rect x="450.70" y="655.90" width="5.42" height="7.40" fill="#ff00ff" fill-opacity="0.7"/>
<rect x="456.12" y="629.40" width="5.42" height="33.90" fill="#ff00ff" fill-opacity="0.7"/>
<rect x="461.54" y="647.90" width="5.42" height="15.40" fill="#ff00ff" fill-opacity="0.7"/>
<rect x="466.96" y="659.40" width="5.42" height="3.90" fill="#ff00ff" fill-opacity="0.7"/>
<rect x="472.38" y="661.20" width="5.42" height="2.10" fill="#ff00ff" fill-opacity="0.7"/>
<rect x="499.48" y="659.40" width="5.42" height="3.90" fill="#ff00ff" fill-opacity="0.7"/>
<line x1="391.60" y1="576.10" x2="391.60" y2="663.80" stroke="#222" stroke-width="1.0"/>
<line x1="391.10" y1="663.30" x2="510.80" y2="663.30" stroke="#222" stroke-width="1.0"/>
<text x="377.41" y="665.25" font-size="8.70" fill="#1a1a1a" stroke="#1a1a1a" stroke-width="0.22">0.0</text>
<line x1="390.30" y1="662.20" x2="391.60" y2="662.20" stroke="#666" stroke-width="0.8"/>
<text x="377.54" y="647.79" font-size="8.70" fill="#1a1a1a" stroke="#1a1a1a" stroke-width="0.22">0.2</text>
<line x1="390.30" y1="644.75" x2="391.60" y2="644.75" stroke="#666" stroke-width="0.8"/>
<text x="377.37" y="630.35" font-size="8.70" fill="#1a1a1a" stroke="#1a1a1a" stroke-width="0.22">0.4</text>
<line x1="390.30" y1="627.30" x2="391.60" y2="627.30" stroke="#666" stroke-width="0.8"/>
<text x="377.45" y="612.89" font-size="8.70" fill="#1a1a1a" stroke="#1a1a1a" stroke-width="0.22">0.6</text>
<line x1="390.30" y1="609.85" x2="391.60" y2="609.85" stroke="#666" stroke-width="0.8"/>
<text x="377.45" y="595.45" font-size="8.70" fill="#1a1a1a" stroke="#1a1a1a" stroke-width="0.22">0.8</text>
<line x1="390.30" y1="592.40" x2="391.60" y2="592.40" stroke="#666" stroke-width="0.8"/>
<text x="388.24" y="673.10" font-size="8.70" fill="#1a1a1a" stroke="#1a1a1a" stroke-width="0.22">−1.0</text>
<line x1="396.90" y1="663.30" x2="396.90" y2="664.60" stroke="#666" stroke-width="0.8"/>
<text x="426.53" y="673.10" font-size="8.70" fill="#1a1a1a" stroke="#1a1a1a" stroke-width="0.22">0.0</text>
<line x1="432.60" y1="663.30" x2="432.60" y2="664.60" stroke="#666" stroke-width="0.8"/>
<text x="460.48" y="673.10" font-size="8.70" fill="#1a1a1a" stroke="#1a1a1a" stroke-width="0.22">1.0</text>
<line x1="466.70" y1="663.30" x2="466.70" y2="664.60" stroke="#666" stroke-width="0.8"/>
<text x="491.33" y="673.10" font-size="8.98" fill="#1a1a1a" stroke="#1a1a1a" stroke-width="0.22">≥ 2.0</text>
<text x="420.81" y="681.80" font-size="9.87" fill="#1a1a1a" stroke="#1a1a1a" stroke-width="0.22">Complexness</text>
<text transform="translate(374.30,642.84) rotate(-90)" x="0" y="0" font-size="9.70" fill="#1a1a1a" stroke="#1a1a1a" stroke-width="0.22">Probability</text>
</svg>
</body></html>
